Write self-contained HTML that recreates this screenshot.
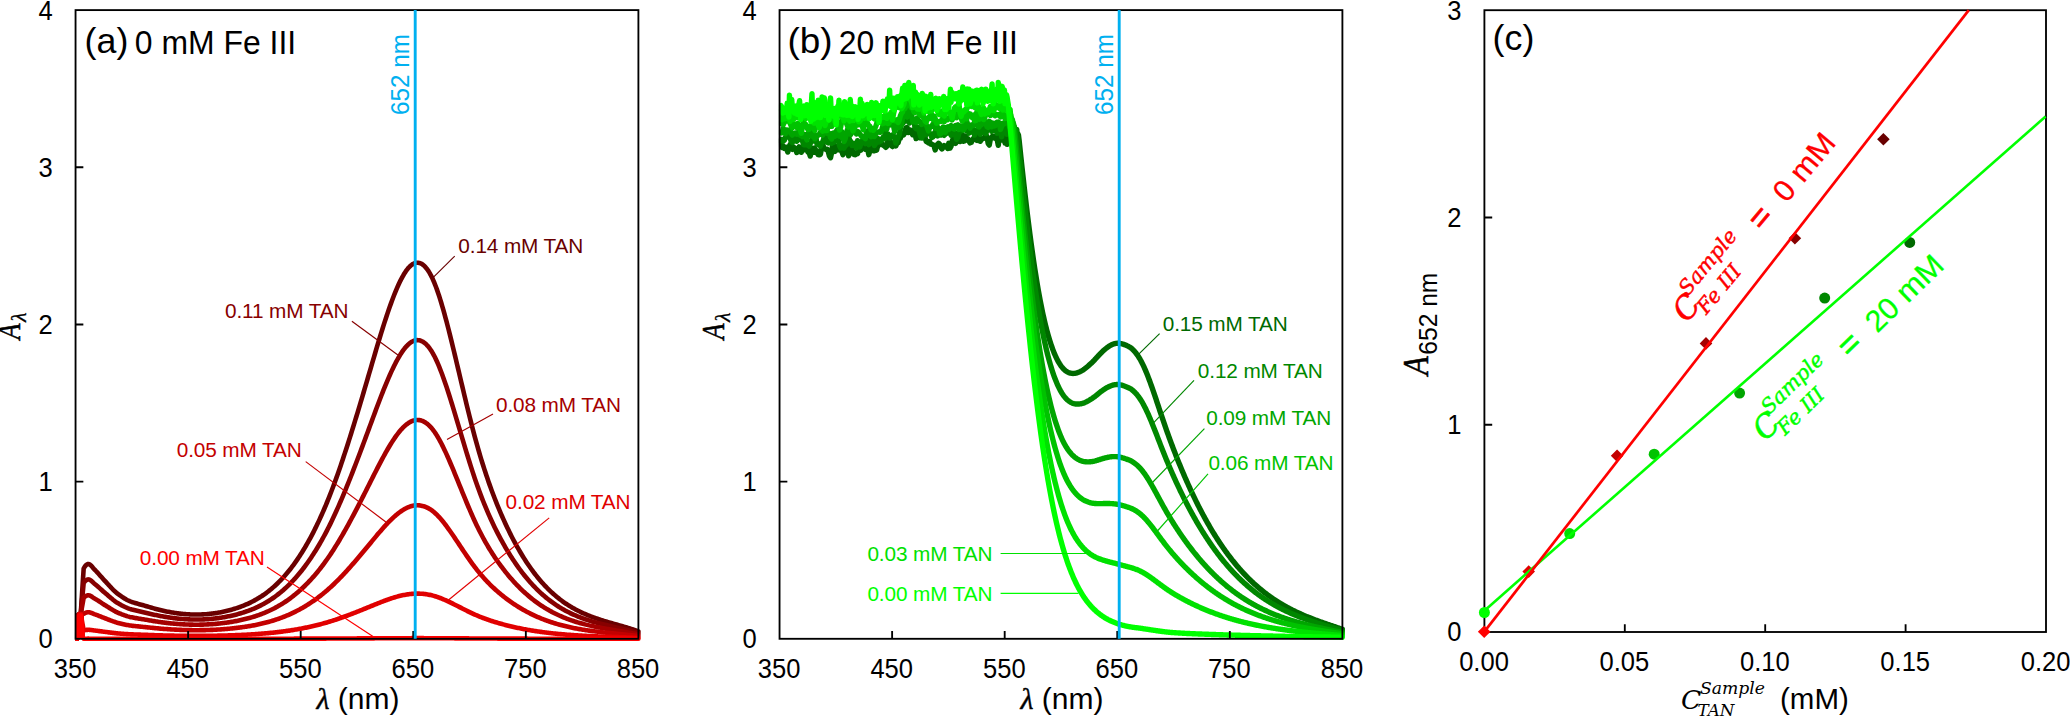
<!DOCTYPE html>
<html><head><meta charset="utf-8"><title>Absorbance spectra</title>
<style>html,body{margin:0;padding:0;background:#fff}svg{display:block}</style></head>
<body>
<svg width="2070" height="717" viewBox="0 0 2070 717">
<rect width="2070" height="717" fill="#fff"/>
<clipPath id="ca"><rect x="74.95" y="10.1" width="565.95" height="631.3"/></clipPath>
<g clip-path="url(#ca)" fill="none" stroke-linejoin="round" stroke-linecap="round" stroke-width="4.6">
<path d="M77.15 638.8 L77.55 615.5 L78.55 636.8 L79.35 614 L80.35 635.8 L81.15 614.5 L82.15 636.8 L80.75 614 L83.66 568.55 L84.05 567.84 L84.45 567.19 L84.84 566.6 L85.24 566.06 L85.64 565.57 L86.03 565.15 L86.43 564.79 L86.83 564.5 L87.22 564.27 L87.62 564.11 L88.01 564.02 L88.41 564 L88.81 564.06 L89.2 564.19 L89.6 564.39 L89.99 564.64 L90.39 564.95 L90.79 565.3 L91.18 565.68 L91.58 566.1 L91.98 566.54 L92.37 567 L92.77 567.47 L93.16 567.95 L93.56 568.42 L94.12 569.07 L95.17 570.17 L96.22 571.24 L97.27 572.36 L98.32 573.51 L99.37 574.69 L100.42 575.89 L101.46 577.09 L102.51 578.28 L103.56 579.45 L104.61 580.59 L105.66 581.7 L106.71 582.82 L107.76 583.96 L108.81 585.11 L109.85 586.25 L110.9 587.37 L111.95 588.48 L113 589.56 L114.05 590.59 L115.1 591.58 L116.15 592.52 L117.2 593.38 L118.24 594.18 L119.29 594.94 L120.34 595.68 L121.39 596.41 L122.44 597.11 L123.49 597.79 L124.54 598.45 L125.59 599.08 L126.63 599.68 L127.68 600.21 L128.73 600.7 L129.78 601.15 L130.83 601.57 L131.88 601.96 L132.93 602.32 L133.97 602.66 L135.02 602.98 L136.07 603.28 L137.12 603.58 L138.17 603.88 L139.22 604.17 L140.27 604.46 L141.32 604.75 L142.36 605.04 L143.41 605.33 L144.46 605.63 L145.51 605.93 L146.56 606.23 L147.61 606.54 L148.66 606.85 L149.71 607.17 L150.75 607.48 L151.8 607.79 L152.85 608.09 L153.9 608.39 L154.95 608.68 L156 608.96 L157.05 609.24 L158.09 609.51 L159.14 609.77 L160.19 610.03 L161.24 610.28 L162.29 610.52 L163.34 610.76 L164.39 610.99 L165.44 611.21 L166.48 611.43 L167.53 611.64 L168.58 611.84 L169.63 612.04 L170.68 612.23 L171.73 612.41 L172.78 612.58 L173.83 612.75 L174.87 612.91 L175.92 613.07 L176.97 613.21 L178.02 613.35 L179.07 613.48 L180.12 613.61 L181.17 613.72 L182.21 613.83 L183.26 613.93 L184.31 614.03 L185.36 614.11 L186.41 614.19 L187.46 614.26 L188.51 614.33 L189.56 614.38 L190.6 614.43 L191.65 614.47 L192.7 614.5 L193.75 614.53 L194.8 614.54 L195.85 614.55 L196.9 614.55 L197.95 614.54 L198.99 614.52 L200.04 614.5 L201.09 614.46 L202.14 614.42 L203.19 614.37 L204.24 614.31 L205.29 614.25 L206.34 614.17 L207.38 614.09 L208.43 613.99 L209.48 613.89 L210.53 613.78 L211.58 613.66 L212.63 613.54 L213.68 613.4 L214.72 613.25 L215.77 613.1 L216.82 612.94 L217.87 612.76 L218.92 612.58 L219.97 612.39 L221.02 612.19 L222.07 611.98 L223.11 611.77 L224.16 611.54 L225.21 611.3 L226.26 611.06 L227.31 610.8 L228.36 610.54 L229.41 610.26 L230.46 609.98 L231.5 609.68 L232.55 609.38 L233.6 609.07 L234.65 608.74 L235.7 608.41 L236.75 608.07 L237.8 607.72 L238.84 607.35 L239.89 606.98 L240.94 606.59 L241.99 606.2 L243.04 605.79 L244.09 605.37 L245.14 604.93 L246.19 604.49 L247.23 604.03 L248.28 603.55 L249.33 603.06 L250.38 602.56 L251.43 602.04 L252.48 601.51 L253.53 600.96 L254.58 600.4 L255.62 599.82 L256.67 599.22 L257.72 598.61 L258.77 597.98 L259.82 597.33 L260.87 596.66 L261.92 595.98 L262.96 595.27 L264.01 594.55 L265.06 593.8 L266.11 593.04 L267.16 592.26 L268.21 591.45 L269.26 590.63 L270.31 589.78 L271.35 588.92 L272.4 588.03 L273.45 587.12 L274.5 586.18 L275.55 585.22 L276.6 584.24 L277.65 583.24 L278.7 582.21 L279.74 581.15 L280.79 580.07 L281.84 578.97 L282.89 577.84 L283.94 576.68 L284.99 575.5 L286.04 574.29 L287.09 573.06 L288.13 571.8 L289.18 570.5 L290.23 569.19 L291.28 567.84 L292.33 566.46 L293.38 565.06 L294.43 563.62 L295.47 562.16 L296.52 560.66 L297.57 559.13 L298.62 557.58 L299.67 555.99 L300.72 554.37 L301.77 552.72 L302.82 551.03 L303.86 549.31 L304.91 547.56 L305.96 545.78 L307.01 543.96 L308.06 542.11 L309.11 540.22 L310.16 538.3 L311.21 536.34 L312.25 534.35 L313.3 532.32 L314.35 530.25 L315.4 528.15 L316.45 526.01 L317.5 523.84 L318.55 521.62 L319.59 519.37 L320.64 517.08 L321.69 514.75 L322.74 512.38 L323.79 509.97 L324.84 507.52 L325.89 505.03 L326.94 502.5 L327.98 499.93 L329.03 497.31 L330.08 494.66 L331.13 491.96 L332.18 489.22 L333.23 486.44 L334.28 483.62 L335.33 480.75 L336.37 477.85 L337.42 474.91 L338.47 471.94 L339.52 468.93 L340.57 465.88 L341.62 462.8 L342.67 459.69 L343.71 456.54 L344.76 453.37 L345.81 450.17 L346.86 446.94 L347.91 443.68 L348.96 440.39 L350.01 437.08 L351.06 433.75 L352.1 430.39 L353.15 427.01 L354.2 423.61 L355.25 420.19 L356.3 416.76 L357.35 413.3 L358.4 409.83 L359.45 406.34 L360.49 402.84 L361.54 399.33 L362.59 395.8 L363.64 392.26 L364.69 388.72 L365.74 385.16 L366.79 381.59 L367.84 378.02 L368.88 374.44 L369.93 370.86 L370.98 367.28 L372.03 363.69 L373.08 360.12 L374.13 356.55 L375.18 352.99 L376.22 349.45 L377.27 345.93 L378.32 342.43 L379.37 338.96 L380.42 335.53 L381.47 332.12 L382.52 328.75 L383.57 325.43 L384.61 322.15 L385.66 318.92 L386.71 315.74 L387.76 312.62 L388.81 309.56 L389.86 306.56 L390.91 303.63 L391.96 300.76 L393 297.98 L394.05 295.27 L395.1 292.64 L396.15 290.1 L397.2 287.65 L398.25 285.29 L399.3 283.03 L400.34 280.87 L401.39 278.81 L402.44 276.86 L403.49 275.02 L404.54 273.29 L405.59 271.68 L406.64 270.2 L407.69 268.83 L408.73 267.6 L409.78 266.51 L410.83 265.54 L411.88 264.72 L412.93 264.03 L413.98 263.48 L415.03 263.08 L416.08 262.82 L417.12 262.7 L418.17 262.73 L419.22 262.91 L420.27 263.24 L421.32 263.71 L422.37 264.34 L423.42 265.13 L424.46 266.06 L425.51 267.16 L426.56 268.41 L427.61 269.82 L428.66 271.39 L429.71 273.13 L430.76 275.03 L431.81 277.09 L432.85 279.33 L433.9 281.73 L434.95 284.29 L436 287.02 L437.05 289.89 L438.1 292.92 L439.15 296.08 L440.2 299.37 L441.24 302.78 L442.29 306.31 L443.34 309.95 L444.39 313.69 L445.44 317.53 L446.49 321.45 L447.54 325.46 L448.59 329.54 L449.63 333.68 L450.68 337.88 L451.73 342.14 L452.78 346.44 L453.83 350.78 L454.88 355.15 L455.93 359.54 L456.97 363.95 L458.02 368.38 L459.07 372.82 L460.12 377.26 L461.17 381.7 L462.22 386.13 L463.27 390.55 L464.32 394.95 L465.36 399.33 L466.41 403.68 L467.46 408 L468.51 412.27 L469.56 416.5 L470.61 420.68 L471.66 424.81 L472.71 428.87 L473.75 432.87 L474.8 436.79 L475.85 440.64 L476.9 444.41 L477.95 448.11 L479 451.74 L480.05 455.3 L481.09 458.79 L482.14 462.21 L483.19 465.56 L484.24 468.85 L485.29 472.08 L486.34 475.24 L487.39 478.34 L488.44 481.39 L489.48 484.37 L490.53 487.3 L491.58 490.18 L492.63 493 L493.68 495.77 L494.73 498.49 L495.78 501.16 L496.83 503.78 L497.87 506.36 L498.92 508.89 L499.97 511.38 L501.02 513.82 L502.07 516.23 L503.12 518.59 L504.17 520.92 L505.21 523.21 L506.26 525.46 L507.31 527.68 L508.36 529.86 L509.41 532 L510.46 534.11 L511.51 536.18 L512.56 538.21 L513.6 540.21 L514.65 542.18 L515.7 544.12 L516.75 546.01 L517.8 547.88 L518.85 549.71 L519.9 551.51 L520.95 553.28 L521.99 555.02 L523.04 556.72 L524.09 558.4 L525.14 560.04 L526.19 561.65 L527.24 563.23 L528.29 564.78 L529.34 566.31 L530.38 567.8 L531.43 569.26 L532.48 570.7 L533.53 572.11 L534.58 573.49 L535.63 574.84 L536.68 576.16 L537.72 577.46 L538.77 578.74 L539.82 579.98 L540.87 581.2 L541.92 582.4 L542.97 583.57 L544.02 584.72 L545.07 585.84 L546.11 586.93 L547.16 588.01 L548.21 589.06 L549.26 590.09 L550.31 591.09 L551.36 592.08 L552.41 593.04 L553.46 593.98 L554.5 594.9 L555.55 595.8 L556.6 596.68 L557.65 597.54 L558.7 598.38 L559.75 599.2 L560.8 600 L561.84 600.78 L562.89 601.54 L563.94 602.29 L564.99 603.02 L566.04 603.73 L567.09 604.42 L568.14 605.1 L569.19 605.76 L570.23 606.41 L571.28 607.04 L572.33 607.65 L573.38 608.25 L574.43 608.84 L575.48 609.41 L576.53 609.97 L577.58 610.51 L578.62 611.04 L579.67 611.56 L580.72 612.07 L581.77 612.57 L582.82 613.05 L583.87 613.52 L584.92 613.98 L585.96 614.44 L587.01 614.88 L588.06 615.31 L589.11 615.73 L590.16 616.14 L591.21 616.54 L592.26 616.94 L593.31 617.33 L594.35 617.71 L595.4 618.08 L596.45 618.44 L597.5 618.8 L598.55 619.15 L599.6 619.5 L600.65 619.84 L601.7 620.18 L602.74 620.51 L603.79 620.83 L604.84 621.15 L605.89 621.47 L606.94 621.79 L607.99 622.1 L609.04 622.41 L610.09 622.71 L611.13 623.02 L612.18 623.32 L613.23 623.62 L614.28 623.92 L615.33 624.22 L616.38 624.52 L617.43 624.82 L618.47 625.11 L619.52 625.41 L620.57 625.72 L621.62 626.02 L622.67 626.32 L623.72 626.63 L624.77 626.94 L625.82 627.25 L626.86 627.56 L627.91 627.88 L628.96 628.2 L630.01 628.53 L631.06 628.86 L632.11 629.2 L633.16 629.54 L634.21 629.89 L635.25 630.24 L636.3 630.6 L637.35 630.96 L638.4 631.34" stroke="#690000"/>
<path d="M77.15 638.8 L77.55 615.5 L78.55 636.8 L79.35 614 L80.35 635.8 L81.15 614.5 L82.15 636.8 L80.75 614 L83.66 583.02 L84.05 582.46 L84.45 581.94 L84.84 581.47 L85.24 581.04 L85.64 580.66 L86.03 580.32 L86.43 580.03 L86.83 579.8 L87.22 579.62 L87.62 579.49 L88.01 579.42 L88.41 579.41 L88.81 579.46 L89.2 579.56 L89.6 579.72 L89.99 579.92 L90.39 580.16 L90.79 580.44 L91.18 580.74 L91.58 581.08 L91.98 581.43 L92.37 581.79 L92.77 582.16 L93.16 582.54 L93.56 582.91 L94.12 583.43 L95.17 584.31 L96.22 585.15 L97.27 586.04 L98.32 586.96 L99.37 587.9 L100.42 588.85 L101.46 589.8 L102.51 590.74 L103.56 591.67 L104.61 592.58 L105.66 593.46 L106.71 594.35 L107.76 595.26 L108.81 596.17 L109.85 597.07 L110.9 597.97 L111.95 598.84 L113 599.7 L114.05 600.52 L115.1 601.31 L116.15 602.05 L117.2 602.74 L118.24 603.37 L119.29 603.97 L120.34 604.56 L121.39 605.14 L122.44 605.7 L123.49 606.24 L124.54 606.76 L125.59 607.26 L126.63 607.73 L127.68 608.15 L128.73 608.54 L129.78 608.91 L130.83 609.24 L131.88 609.55 L132.93 609.83 L133.97 610.1 L135.02 610.35 L136.07 610.6 L137.12 610.84 L138.17 611.07 L139.22 611.3 L140.27 611.53 L141.32 611.76 L142.36 611.99 L143.41 612.23 L144.46 612.46 L145.51 612.7 L146.56 612.94 L147.61 613.18 L148.66 613.43 L149.71 613.68 L150.75 613.93 L151.8 614.18 L152.85 614.42 L153.9 614.65 L154.95 614.88 L156 615.11 L157.05 615.33 L158.09 615.54 L159.14 615.75 L160.19 615.95 L161.24 616.15 L162.29 616.35 L163.34 616.53 L164.39 616.72 L165.44 616.89 L166.48 617.07 L167.53 617.23 L168.58 617.39 L169.63 617.55 L170.68 617.7 L171.73 617.84 L172.78 617.98 L173.83 618.12 L174.87 618.24 L175.92 618.37 L176.97 618.48 L178.02 618.59 L179.07 618.7 L180.12 618.8 L181.17 618.89 L182.21 618.97 L183.26 619.06 L184.31 619.13 L185.36 619.2 L186.41 619.26 L187.46 619.32 L188.51 619.37 L189.56 619.41 L190.6 619.45 L191.65 619.48 L192.7 619.51 L193.75 619.53 L194.8 619.54 L195.85 619.54 L196.9 619.54 L197.95 619.54 L198.99 619.52 L200.04 619.5 L201.09 619.48 L202.14 619.44 L203.19 619.4 L204.24 619.36 L205.29 619.3 L206.34 619.24 L207.38 619.18 L208.43 619.1 L209.48 619.02 L210.53 618.94 L211.58 618.84 L212.63 618.74 L213.68 618.63 L214.72 618.52 L215.77 618.39 L216.82 618.26 L217.87 618.13 L218.92 617.98 L219.97 617.83 L221.02 617.67 L222.07 617.51 L223.11 617.33 L224.16 617.15 L225.21 616.97 L226.26 616.77 L227.31 616.57 L228.36 616.36 L229.41 616.14 L230.46 615.91 L231.5 615.68 L232.55 615.44 L233.6 615.19 L234.65 614.93 L235.7 614.67 L236.75 614.4 L237.8 614.12 L238.84 613.83 L239.89 613.53 L240.94 613.23 L241.99 612.91 L243.04 612.59 L244.09 612.25 L245.14 611.91 L246.19 611.55 L247.23 611.19 L248.28 610.81 L249.33 610.42 L250.38 610.03 L251.43 609.61 L252.48 609.19 L253.53 608.76 L254.58 608.31 L255.62 607.85 L256.67 607.37 L257.72 606.89 L258.77 606.38 L259.82 605.87 L260.87 605.34 L261.92 604.8 L262.96 604.24 L264.01 603.66 L265.06 603.07 L266.11 602.47 L267.16 601.84 L268.21 601.21 L269.26 600.55 L270.31 599.88 L271.35 599.19 L272.4 598.48 L273.45 597.76 L274.5 597.02 L275.55 596.26 L276.6 595.48 L277.65 594.68 L278.7 593.86 L279.74 593.03 L280.79 592.17 L281.84 591.29 L282.89 590.4 L283.94 589.48 L284.99 588.54 L286.04 587.58 L287.09 586.6 L288.13 585.6 L289.18 584.57 L290.23 583.52 L291.28 582.45 L292.33 581.36 L293.38 580.24 L294.43 579.1 L295.47 577.94 L296.52 576.75 L297.57 575.54 L298.62 574.31 L299.67 573.04 L300.72 571.76 L301.77 570.45 L302.82 569.11 L303.86 567.74 L304.91 566.35 L305.96 564.94 L307.01 563.49 L308.06 562.02 L309.11 560.52 L310.16 559 L311.21 557.44 L312.25 555.86 L313.3 554.25 L314.35 552.61 L315.4 550.94 L316.45 549.24 L317.5 547.51 L318.55 545.75 L319.59 543.97 L320.64 542.15 L321.69 540.3 L322.74 538.41 L323.79 536.5 L324.84 534.56 L325.89 532.58 L326.94 530.57 L327.98 528.53 L329.03 526.45 L330.08 524.35 L331.13 522.2 L332.18 520.03 L333.23 517.82 L334.28 515.58 L335.33 513.31 L336.37 511 L337.42 508.67 L338.47 506.31 L339.52 503.91 L340.57 501.5 L341.62 499.05 L342.67 496.58 L343.71 494.08 L344.76 491.56 L345.81 489.02 L346.86 486.45 L347.91 483.86 L348.96 481.26 L350.01 478.63 L351.06 475.98 L352.1 473.32 L353.15 470.63 L354.2 467.93 L355.25 465.22 L356.3 462.49 L357.35 459.75 L358.4 456.99 L359.45 454.22 L360.49 451.44 L361.54 448.65 L362.59 445.85 L363.64 443.04 L364.69 440.22 L365.74 437.4 L366.79 434.57 L367.84 431.73 L368.88 428.89 L369.93 426.05 L370.98 423.2 L372.03 420.36 L373.08 417.52 L374.13 414.68 L375.18 411.86 L376.22 409.05 L377.27 406.25 L378.32 403.47 L379.37 400.72 L380.42 397.99 L381.47 395.29 L382.52 392.61 L383.57 389.97 L384.61 387.37 L385.66 384.8 L386.71 382.28 L387.76 379.8 L388.81 377.37 L389.86 374.99 L390.91 372.66 L391.96 370.39 L393 368.18 L394.05 366.02 L395.1 363.94 L396.15 361.92 L397.2 359.98 L398.25 358.1 L399.3 356.31 L400.34 354.59 L401.39 352.95 L402.44 351.4 L403.49 349.94 L404.54 348.57 L405.59 347.29 L406.64 346.11 L407.69 345.03 L408.73 344.06 L409.78 343.18 L410.83 342.42 L411.88 341.76 L412.93 341.22 L413.98 340.79 L415.03 340.46 L416.08 340.26 L417.12 340.16 L418.17 340.19 L419.22 340.33 L420.27 340.59 L421.32 340.97 L422.37 341.47 L423.42 342.09 L424.46 342.83 L425.51 343.7 L426.56 344.7 L427.61 345.82 L428.66 347.07 L429.71 348.44 L430.76 349.95 L431.81 351.59 L432.85 353.36 L433.9 355.27 L434.95 357.31 L436 359.47 L437.05 361.76 L438.1 364.15 L439.15 366.66 L440.2 369.28 L441.24 371.99 L442.29 374.79 L443.34 377.68 L444.39 380.65 L445.44 383.7 L446.49 386.81 L447.54 389.99 L448.59 393.23 L449.63 396.52 L450.68 399.86 L451.73 403.24 L452.78 406.65 L453.83 410.1 L454.88 413.57 L455.93 417.06 L456.97 420.56 L458.02 424.08 L459.07 427.6 L460.12 431.13 L461.17 434.65 L462.22 438.17 L463.27 441.68 L464.32 445.18 L465.36 448.65 L466.41 452.11 L467.46 455.53 L468.51 458.93 L469.56 462.29 L470.61 465.61 L471.66 468.88 L472.71 472.11 L473.75 475.28 L474.8 478.4 L475.85 481.45 L476.9 484.45 L477.95 487.39 L479 490.27 L480.05 493.09 L481.09 495.86 L482.14 498.58 L483.19 501.24 L484.24 503.85 L485.29 506.42 L486.34 508.93 L487.39 511.39 L488.44 513.81 L489.48 516.18 L490.53 518.51 L491.58 520.79 L492.63 523.03 L493.68 525.23 L494.73 527.39 L495.78 529.51 L496.83 531.59 L497.87 533.64 L498.92 535.65 L499.97 537.62 L501.02 539.56 L502.07 541.47 L503.12 543.35 L504.17 545.2 L505.21 547.02 L506.26 548.8 L507.31 550.56 L508.36 552.29 L509.41 554 L510.46 555.67 L511.51 557.31 L512.56 558.93 L513.6 560.52 L514.65 562.08 L515.7 563.62 L516.75 565.13 L517.8 566.61 L518.85 568.06 L519.9 569.49 L520.95 570.9 L521.99 572.27 L523.04 573.63 L524.09 574.96 L525.14 576.26 L526.19 577.54 L527.24 578.8 L528.29 580.03 L529.34 581.24 L530.38 582.42 L531.43 583.58 L532.48 584.72 L533.53 585.84 L534.58 586.94 L535.63 588.01 L536.68 589.06 L537.72 590.1 L538.77 591.11 L539.82 592.1 L540.87 593.07 L541.92 594.02 L542.97 594.94 L544.02 595.85 L545.07 596.75 L546.11 597.62 L547.16 598.47 L548.21 599.3 L549.26 600.12 L550.31 600.92 L551.36 601.7 L552.41 602.47 L553.46 603.21 L554.5 603.94 L555.55 604.66 L556.6 605.35 L557.65 606.04 L558.7 606.7 L559.75 607.35 L560.8 607.99 L561.84 608.61 L562.89 609.22 L563.94 609.81 L564.99 610.39 L566.04 610.95 L567.09 611.5 L568.14 612.04 L569.19 612.56 L570.23 613.08 L571.28 613.58 L572.33 614.07 L573.38 614.54 L574.43 615.01 L575.48 615.46 L576.53 615.91 L577.58 616.34 L578.62 616.76 L579.67 617.17 L580.72 617.58 L581.77 617.97 L582.82 618.35 L583.87 618.73 L584.92 619.1 L585.96 619.45 L587.01 619.8 L588.06 620.15 L589.11 620.48 L590.16 620.81 L591.21 621.13 L592.26 621.44 L593.31 621.75 L594.35 622.05 L595.4 622.35 L596.45 622.64 L597.5 622.92 L598.55 623.2 L599.6 623.48 L600.65 623.75 L601.7 624.01 L602.74 624.27 L603.79 624.53 L604.84 624.79 L605.89 625.04 L606.94 625.29 L607.99 625.54 L609.04 625.78 L610.09 626.03 L611.13 626.27 L612.18 626.51 L613.23 626.75 L614.28 626.98 L615.33 627.22 L616.38 627.46 L617.43 627.7 L618.47 627.93 L619.52 628.17 L620.57 628.41 L621.62 628.65 L622.67 628.89 L623.72 629.14 L624.77 629.38 L625.82 629.63 L626.86 629.88 L627.91 630.13 L628.96 630.39 L630.01 630.65 L631.06 630.91 L632.11 631.18 L633.16 631.45 L634.21 631.72 L635.25 632 L636.3 632.29 L637.35 632.58 L638.4 632.87" stroke="#870000"/>
<path d="M77.15 638.8 L77.55 615.5 L78.55 636.8 L79.35 614 L80.35 635.8 L81.15 614.5 L82.15 636.8 L80.75 614 L83.66 597.93 L84.05 597.52 L84.45 597.14 L84.84 596.79 L85.24 596.48 L85.64 596.2 L86.03 595.95 L86.43 595.74 L86.83 595.57 L87.22 595.44 L87.62 595.34 L88.01 595.29 L88.41 595.28 L88.81 595.32 L89.2 595.39 L89.6 595.51 L89.99 595.65 L90.39 595.83 L90.79 596.03 L91.18 596.26 L91.58 596.5 L91.98 596.76 L92.37 597.03 L92.77 597.3 L93.16 597.58 L93.56 597.85 L94.12 598.23 L95.17 598.87 L96.22 599.49 L97.27 600.14 L98.32 600.81 L99.37 601.5 L100.42 602.2 L101.46 602.9 L102.51 603.59 L103.56 604.27 L104.61 604.93 L105.66 605.58 L106.71 606.23 L107.76 606.89 L108.81 607.56 L109.85 608.22 L110.9 608.88 L111.95 609.52 L113 610.15 L114.05 610.75 L115.1 611.33 L116.15 611.87 L117.2 612.38 L118.24 612.84 L119.29 613.28 L120.34 613.71 L121.39 614.14 L122.44 614.54 L123.49 614.94 L124.54 615.32 L125.59 615.69 L126.63 616.04 L127.68 616.35 L128.73 616.63 L129.78 616.9 L130.83 617.14 L131.88 617.37 L132.93 617.58 L133.97 617.77 L135.02 617.96 L136.07 618.14 L137.12 618.31 L138.17 618.48 L139.22 618.65 L140.27 618.82 L141.32 618.99 L142.36 619.16 L143.41 619.33 L144.46 619.5 L145.51 619.68 L146.56 619.85 L147.61 620.03 L148.66 620.21 L149.71 620.4 L150.75 620.58 L151.8 620.76 L152.85 620.93 L153.9 621.11 L154.95 621.27 L156 621.44 L157.05 621.6 L158.09 621.76 L159.14 621.91 L160.19 622.06 L161.24 622.21 L162.29 622.35 L163.34 622.48 L164.39 622.62 L165.44 622.75 L166.48 622.88 L167.53 623 L168.58 623.12 L169.63 623.23 L170.68 623.34 L171.73 623.45 L172.78 623.55 L173.83 623.64 L174.87 623.74 L175.92 623.83 L176.97 623.91 L178.02 623.99 L179.07 624.07 L180.12 624.14 L181.17 624.21 L182.21 624.27 L183.26 624.33 L184.31 624.39 L185.36 624.44 L186.41 624.48 L187.46 624.52 L188.51 624.56 L189.56 624.59 L190.6 624.62 L191.65 624.64 L192.7 624.66 L193.75 624.68 L194.8 624.69 L195.85 624.69 L196.9 624.69 L197.95 624.69 L198.99 624.68 L200.04 624.66 L201.09 624.64 L202.14 624.62 L203.19 624.59 L204.24 624.55 L205.29 624.51 L206.34 624.47 L207.38 624.42 L208.43 624.37 L209.48 624.31 L210.53 624.24 L211.58 624.18 L212.63 624.1 L213.68 624.02 L214.72 623.94 L215.77 623.85 L216.82 623.75 L217.87 623.65 L218.92 623.55 L219.97 623.44 L221.02 623.32 L222.07 623.2 L223.11 623.07 L224.16 622.94 L225.21 622.8 L226.26 622.66 L227.31 622.51 L228.36 622.36 L229.41 622.2 L230.46 622.03 L231.5 621.86 L232.55 621.68 L233.6 621.5 L234.65 621.31 L235.7 621.12 L236.75 620.92 L237.8 620.71 L238.84 620.5 L239.89 620.29 L240.94 620.06 L241.99 619.83 L243.04 619.59 L244.09 619.35 L245.14 619.1 L246.19 618.84 L247.23 618.57 L248.28 618.29 L249.33 618.01 L250.38 617.72 L251.43 617.41 L252.48 617.1 L253.53 616.79 L254.58 616.46 L255.62 616.12 L256.67 615.77 L257.72 615.42 L258.77 615.05 L259.82 614.67 L260.87 614.28 L261.92 613.88 L262.96 613.47 L264.01 613.05 L265.06 612.62 L266.11 612.18 L267.16 611.72 L268.21 611.25 L269.26 610.77 L270.31 610.28 L271.35 609.78 L272.4 609.26 L273.45 608.73 L274.5 608.18 L275.55 607.63 L276.6 607.06 L277.65 606.47 L278.7 605.87 L279.74 605.26 L280.79 604.63 L281.84 603.99 L282.89 603.33 L283.94 602.66 L284.99 601.97 L286.04 601.27 L287.09 600.55 L288.13 599.82 L289.18 599.06 L290.23 598.3 L291.28 597.51 L292.33 596.71 L293.38 595.89 L294.43 595.06 L295.47 594.21 L296.52 593.34 L297.57 592.45 L298.62 591.54 L299.67 590.62 L300.72 589.68 L301.77 588.71 L302.82 587.73 L303.86 586.73 L304.91 585.72 L305.96 584.68 L307.01 583.62 L308.06 582.54 L309.11 581.44 L310.16 580.33 L311.21 579.19 L312.25 578.03 L313.3 576.85 L314.35 575.65 L315.4 574.42 L316.45 573.18 L317.5 571.91 L318.55 570.62 L319.59 569.31 L320.64 567.98 L321.69 566.62 L322.74 565.24 L323.79 563.84 L324.84 562.42 L325.89 560.97 L326.94 559.5 L327.98 558 L329.03 556.48 L330.08 554.94 L331.13 553.37 L332.18 551.77 L333.23 550.15 L334.28 548.51 L335.33 546.85 L336.37 545.16 L337.42 543.45 L338.47 541.72 L339.52 539.96 L340.57 538.19 L341.62 536.4 L342.67 534.59 L343.71 532.76 L344.76 530.91 L345.81 529.05 L346.86 527.17 L347.91 525.27 L348.96 523.36 L350.01 521.44 L351.06 519.5 L352.1 517.54 L353.15 515.58 L354.2 513.6 L355.25 511.61 L356.3 509.61 L357.35 507.6 L358.4 505.58 L359.45 503.55 L360.49 501.52 L361.54 499.47 L362.59 497.42 L363.64 495.36 L364.69 493.3 L365.74 491.23 L366.79 489.15 L367.84 487.07 L368.88 484.99 L369.93 482.91 L370.98 480.82 L372.03 478.74 L373.08 476.66 L374.13 474.58 L375.18 472.51 L376.22 470.45 L377.27 468.4 L378.32 466.37 L379.37 464.35 L380.42 462.35 L381.47 460.37 L382.52 458.41 L383.57 456.47 L384.61 454.57 L385.66 452.69 L386.71 450.84 L387.76 449.02 L388.81 447.24 L389.86 445.49 L390.91 443.79 L391.96 442.12 L393 440.5 L394.05 438.93 L395.1 437.4 L396.15 435.92 L397.2 434.5 L398.25 433.12 L399.3 431.81 L400.34 430.55 L401.39 429.35 L402.44 428.21 L403.49 427.14 L404.54 426.14 L405.59 425.2 L406.64 424.34 L407.69 423.55 L408.73 422.83 L409.78 422.19 L410.83 421.63 L411.88 421.15 L412.93 420.75 L413.98 420.43 L415.03 420.2 L416.08 420.05 L417.12 419.98 L418.17 420 L419.22 420.1 L420.27 420.29 L421.32 420.57 L422.37 420.93 L423.42 421.39 L424.46 421.93 L425.51 422.57 L426.56 423.3 L427.61 424.12 L428.66 425.04 L429.71 426.05 L430.76 427.15 L431.81 428.35 L432.85 429.65 L433.9 431.05 L434.95 432.54 L436 434.13 L437.05 435.8 L438.1 437.56 L439.15 439.4 L440.2 441.31 L441.24 443.3 L442.29 445.35 L443.34 447.47 L444.39 449.65 L445.44 451.88 L446.49 454.16 L447.54 456.49 L448.59 458.86 L449.63 461.28 L450.68 463.72 L451.73 466.2 L452.78 468.7 L453.83 471.22 L454.88 473.76 L455.93 476.32 L456.97 478.89 L458.02 481.47 L459.07 484.05 L460.12 486.63 L461.17 489.21 L462.22 491.79 L463.27 494.36 L464.32 496.93 L465.36 499.47 L466.41 502 L467.46 504.51 L468.51 507 L469.56 509.46 L470.61 511.9 L471.66 514.29 L472.71 516.66 L473.75 518.98 L474.8 521.27 L475.85 523.51 L476.9 525.7 L477.95 527.85 L479 529.96 L480.05 532.03 L481.09 534.06 L482.14 536.05 L483.19 538.01 L484.24 539.92 L485.29 541.8 L486.34 543.64 L487.39 545.44 L488.44 547.21 L489.48 548.95 L490.53 550.66 L491.58 552.33 L492.63 553.97 L493.68 555.58 L494.73 557.17 L495.78 558.72 L496.83 560.24 L497.87 561.74 L498.92 563.22 L499.97 564.66 L501.02 566.09 L502.07 567.48 L503.12 568.86 L504.17 570.21 L505.21 571.55 L506.26 572.86 L507.31 574.15 L508.36 575.41 L509.41 576.66 L510.46 577.89 L511.51 579.09 L512.56 580.28 L513.6 581.44 L514.65 582.59 L515.7 583.71 L516.75 584.82 L517.8 585.9 L518.85 586.97 L519.9 588.02 L520.95 589.04 L521.99 590.05 L523.04 591.05 L524.09 592.02 L525.14 592.97 L526.19 593.91 L527.24 594.83 L528.29 595.74 L529.34 596.62 L530.38 597.49 L531.43 598.34 L532.48 599.18 L533.53 600 L534.58 600.8 L535.63 601.59 L536.68 602.36 L537.72 603.11 L538.77 603.85 L539.82 604.58 L540.87 605.29 L541.92 605.98 L542.97 606.67 L544.02 607.33 L545.07 607.99 L546.11 608.62 L547.16 609.25 L548.21 609.86 L549.26 610.46 L550.31 611.04 L551.36 611.62 L552.41 612.18 L553.46 612.72 L554.5 613.26 L555.55 613.78 L556.6 614.29 L557.65 614.79 L558.7 615.28 L559.75 615.76 L560.8 616.22 L561.84 616.68 L562.89 617.12 L563.94 617.56 L564.99 617.98 L566.04 618.39 L567.09 618.8 L568.14 619.19 L569.19 619.58 L570.23 619.95 L571.28 620.32 L572.33 620.68 L573.38 621.03 L574.43 621.37 L575.48 621.7 L576.53 622.02 L577.58 622.34 L578.62 622.65 L579.67 622.95 L580.72 623.25 L581.77 623.54 L582.82 623.82 L583.87 624.09 L584.92 624.36 L585.96 624.62 L587.01 624.88 L588.06 625.13 L589.11 625.38 L590.16 625.62 L591.21 625.85 L592.26 626.08 L593.31 626.31 L594.35 626.53 L595.4 626.74 L596.45 626.96 L597.5 627.16 L598.55 627.37 L599.6 627.57 L600.65 627.77 L601.7 627.96 L602.74 628.16 L603.79 628.35 L604.84 628.53 L605.89 628.72 L606.94 628.9 L607.99 629.08 L609.04 629.26 L610.09 629.44 L611.13 629.62 L612.18 629.79 L613.23 629.97 L614.28 630.14 L615.33 630.32 L616.38 630.49 L617.43 630.66 L618.47 630.84 L619.52 631.01 L620.57 631.19 L621.62 631.36 L622.67 631.54 L623.72 631.72 L624.77 631.9 L625.82 632.08 L626.86 632.26 L627.91 632.45 L628.96 632.64 L630.01 632.83 L631.06 633.02 L632.11 633.21 L633.16 633.41 L634.21 633.61 L635.25 633.82 L636.3 634.03 L637.35 634.24 L638.4 634.46" stroke="#a50000"/>
<path d="M77.15 638.8 L77.55 615.5 L78.55 636.8 L79.35 614 L80.35 635.8 L81.15 614.5 L82.15 636.8 L80.75 614 L83.66 613.86 L84.05 613.61 L84.45 613.38 L84.84 613.17 L85.24 612.98 L85.64 612.81 L86.03 612.66 L86.43 612.53 L86.83 612.43 L87.22 612.34 L87.62 612.29 L88.01 612.26 L88.41 612.25 L88.81 612.27 L89.2 612.32 L89.6 612.39 L89.99 612.48 L90.39 612.59 L90.79 612.71 L91.18 612.85 L91.58 613 L91.98 613.15 L92.37 613.32 L92.77 613.48 L93.16 613.65 L93.56 613.82 L94.12 614.05 L95.17 614.44 L96.22 614.82 L97.27 615.22 L98.32 615.63 L99.37 616.05 L100.42 616.47 L101.46 616.9 L102.51 617.32 L103.56 617.73 L104.61 618.14 L105.66 618.53 L106.71 618.93 L107.76 619.34 L108.81 619.74 L109.85 620.15 L110.9 620.55 L111.95 620.94 L113 621.32 L114.05 621.69 L115.1 622.04 L116.15 622.37 L117.2 622.68 L118.24 622.96 L119.29 623.23 L120.34 623.5 L121.39 623.75 L122.44 624 L123.49 624.24 L124.54 624.48 L125.59 624.7 L126.63 624.91 L127.68 625.1 L128.73 625.28 L129.78 625.44 L130.83 625.59 L131.88 625.72 L132.93 625.85 L133.97 625.97 L135.02 626.08 L136.07 626.19 L137.12 626.3 L138.17 626.4 L139.22 626.51 L140.27 626.61 L141.32 626.71 L142.36 626.82 L143.41 626.92 L144.46 627.03 L145.51 627.13 L146.56 627.24 L147.61 627.35 L148.66 627.46 L149.71 627.57 L150.75 627.68 L151.8 627.79 L152.85 627.9 L153.9 628.01 L154.95 628.11 L156 628.21 L157.05 628.31 L158.09 628.4 L159.14 628.5 L160.19 628.59 L161.24 628.68 L162.29 628.76 L163.34 628.85 L164.39 628.93 L165.44 629.01 L166.48 629.08 L167.53 629.16 L168.58 629.23 L169.63 629.3 L170.68 629.37 L171.73 629.43 L172.78 629.49 L173.83 629.55 L174.87 629.61 L175.92 629.67 L176.97 629.72 L178.02 629.77 L179.07 629.81 L180.12 629.86 L181.17 629.9 L182.21 629.94 L183.26 629.97 L184.31 630.01 L185.36 630.04 L186.41 630.07 L187.46 630.09 L188.51 630.11 L189.56 630.13 L190.6 630.15 L191.65 630.16 L192.7 630.18 L193.75 630.18 L194.8 630.19 L195.85 630.19 L196.9 630.19 L197.95 630.19 L198.99 630.18 L200.04 630.17 L201.09 630.16 L202.14 630.15 L203.19 630.13 L204.24 630.11 L205.29 630.09 L206.34 630.06 L207.38 630.03 L208.43 630 L209.48 629.96 L210.53 629.92 L211.58 629.88 L212.63 629.83 L213.68 629.78 L214.72 629.73 L215.77 629.68 L216.82 629.62 L217.87 629.56 L218.92 629.49 L219.97 629.43 L221.02 629.36 L222.07 629.28 L223.11 629.2 L224.16 629.12 L225.21 629.04 L226.26 628.95 L227.31 628.86 L228.36 628.77 L229.41 628.67 L230.46 628.57 L231.5 628.46 L232.55 628.36 L233.6 628.25 L234.65 628.13 L235.7 628.01 L236.75 627.89 L237.8 627.77 L238.84 627.64 L239.89 627.51 L240.94 627.37 L241.99 627.23 L243.04 627.08 L244.09 626.93 L245.14 626.78 L246.19 626.62 L247.23 626.46 L248.28 626.29 L249.33 626.12 L250.38 625.94 L251.43 625.75 L252.48 625.56 L253.53 625.37 L254.58 625.17 L255.62 624.96 L256.67 624.75 L257.72 624.53 L258.77 624.31 L259.82 624.08 L260.87 623.84 L261.92 623.6 L262.96 623.35 L264.01 623.09 L265.06 622.83 L266.11 622.56 L267.16 622.28 L268.21 621.99 L269.26 621.7 L270.31 621.4 L271.35 621.09 L272.4 620.78 L273.45 620.45 L274.5 620.12 L275.55 619.78 L276.6 619.43 L277.65 619.08 L278.7 618.71 L279.74 618.34 L280.79 617.96 L281.84 617.56 L282.89 617.16 L283.94 616.75 L284.99 616.33 L286.04 615.9 L287.09 615.46 L288.13 615.02 L289.18 614.56 L290.23 614.09 L291.28 613.61 L292.33 613.12 L293.38 612.62 L294.43 612.11 L295.47 611.59 L296.52 611.06 L297.57 610.52 L298.62 609.97 L299.67 609.41 L300.72 608.83 L301.77 608.24 L302.82 607.65 L303.86 607.04 L304.91 606.42 L305.96 605.78 L307.01 605.14 L308.06 604.48 L309.11 603.81 L310.16 603.13 L311.21 602.43 L312.25 601.72 L313.3 601 L314.35 600.27 L315.4 599.53 L316.45 598.77 L317.5 597.99 L318.55 597.21 L319.59 596.41 L320.64 595.59 L321.69 594.77 L322.74 593.93 L323.79 593.07 L324.84 592.2 L325.89 591.32 L326.94 590.42 L327.98 589.51 L329.03 588.58 L330.08 587.64 L331.13 586.68 L332.18 585.71 L333.23 584.72 L334.28 583.72 L335.33 582.7 L336.37 581.67 L337.42 580.63 L338.47 579.57 L339.52 578.5 L340.57 577.42 L341.62 576.33 L342.67 575.22 L343.71 574.11 L344.76 572.98 L345.81 571.84 L346.86 570.7 L347.91 569.54 L348.96 568.37 L350.01 567.2 L351.06 566.02 L352.1 564.82 L353.15 563.63 L354.2 562.42 L355.25 561.21 L356.3 559.99 L357.35 558.76 L358.4 557.53 L359.45 556.29 L360.49 555.05 L361.54 553.8 L362.59 552.55 L363.64 551.29 L364.69 550.03 L365.74 548.77 L366.79 547.5 L367.84 546.24 L368.88 544.97 L369.93 543.69 L370.98 542.42 L372.03 541.15 L373.08 539.88 L374.13 538.61 L375.18 537.35 L376.22 536.1 L377.27 534.85 L378.32 533.6 L379.37 532.37 L380.42 531.15 L381.47 529.94 L382.52 528.75 L383.57 527.57 L384.61 526.4 L385.66 525.26 L386.71 524.13 L387.76 523.02 L388.81 521.93 L389.86 520.87 L390.91 519.83 L391.96 518.81 L393 517.82 L394.05 516.86 L395.1 515.93 L396.15 515.03 L397.2 514.16 L398.25 513.32 L399.3 512.52 L400.34 511.75 L401.39 511.02 L402.44 510.33 L403.49 509.67 L404.54 509.06 L405.59 508.49 L406.64 507.96 L407.69 507.48 L408.73 507.04 L409.78 506.65 L410.83 506.31 L411.88 506.02 L412.93 505.77 L413.98 505.58 L415.03 505.44 L416.08 505.34 L417.12 505.3 L418.17 505.31 L419.22 505.38 L420.27 505.49 L421.32 505.66 L422.37 505.89 L423.42 506.16 L424.46 506.5 L425.51 506.88 L426.56 507.33 L427.61 507.83 L428.66 508.39 L429.71 509 L430.76 509.68 L431.81 510.41 L432.85 511.2 L433.9 512.06 L434.95 512.97 L436 513.93 L437.05 514.95 L438.1 516.03 L439.15 517.15 L440.2 518.32 L441.24 519.53 L442.29 520.78 L443.34 522.07 L444.39 523.4 L445.44 524.76 L446.49 526.16 L447.54 527.58 L448.59 529.03 L449.63 530.5 L450.68 531.99 L451.73 533.5 L452.78 535.03 L453.83 536.57 L454.88 538.12 L455.93 539.68 L456.97 541.24 L458.02 542.81 L459.07 544.39 L460.12 545.97 L461.17 547.54 L462.22 549.12 L463.27 550.68 L464.32 552.25 L465.36 553.8 L466.41 555.34 L467.46 556.88 L468.51 558.39 L469.56 559.9 L470.61 561.38 L471.66 562.84 L472.71 564.28 L473.75 565.7 L474.8 567.1 L475.85 568.46 L476.9 569.8 L477.95 571.11 L479 572.4 L480.05 573.67 L481.09 574.9 L482.14 576.12 L483.19 577.31 L484.24 578.48 L485.29 579.62 L486.34 580.74 L487.39 581.85 L488.44 582.93 L489.48 583.99 L490.53 585.03 L491.58 586.05 L492.63 587.05 L493.68 588.03 L494.73 589 L495.78 589.94 L496.83 590.88 L497.87 591.79 L498.92 592.69 L499.97 593.57 L501.02 594.44 L502.07 595.29 L503.12 596.13 L504.17 596.96 L505.21 597.77 L506.26 598.57 L507.31 599.36 L508.36 600.13 L509.41 600.89 L510.46 601.64 L511.51 602.37 L512.56 603.1 L513.6 603.81 L514.65 604.51 L515.7 605.19 L516.75 605.87 L517.8 606.53 L518.85 607.18 L519.9 607.82 L520.95 608.45 L521.99 609.06 L523.04 609.67 L524.09 610.26 L525.14 610.84 L526.19 611.42 L527.24 611.98 L528.29 612.53 L529.34 613.07 L530.38 613.6 L531.43 614.12 L532.48 614.63 L533.53 615.13 L534.58 615.62 L535.63 616.1 L536.68 616.57 L537.72 617.03 L538.77 617.48 L539.82 617.92 L540.87 618.36 L541.92 618.78 L542.97 619.2 L544.02 619.6 L545.07 620 L546.11 620.39 L547.16 620.77 L548.21 621.14 L549.26 621.51 L550.31 621.87 L551.36 622.22 L552.41 622.56 L553.46 622.89 L554.5 623.22 L555.55 623.54 L556.6 623.85 L557.65 624.15 L558.7 624.45 L559.75 624.74 L560.8 625.03 L561.84 625.3 L562.89 625.57 L563.94 625.84 L564.99 626.1 L566.04 626.35 L567.09 626.6 L568.14 626.84 L569.19 627.07 L570.23 627.3 L571.28 627.53 L572.33 627.74 L573.38 627.96 L574.43 628.16 L575.48 628.37 L576.53 628.57 L577.58 628.76 L578.62 628.95 L579.67 629.13 L580.72 629.31 L581.77 629.49 L582.82 629.66 L583.87 629.83 L584.92 629.99 L585.96 630.15 L587.01 630.31 L588.06 630.46 L589.11 630.61 L590.16 630.76 L591.21 630.9 L592.26 631.04 L593.31 631.18 L594.35 631.31 L595.4 631.44 L596.45 631.57 L597.5 631.7 L598.55 631.83 L599.6 631.95 L600.65 632.07 L601.7 632.19 L602.74 632.31 L603.79 632.42 L604.84 632.54 L605.89 632.65 L606.94 632.76 L607.99 632.87 L609.04 632.98 L610.09 633.09 L611.13 633.2 L612.18 633.3 L613.23 633.41 L614.28 633.52 L615.33 633.62 L616.38 633.73 L617.43 633.84 L618.47 633.94 L619.52 634.05 L620.57 634.16 L621.62 634.26 L622.67 634.37 L623.72 634.48 L624.77 634.59 L625.82 634.7 L626.86 634.81 L627.91 634.92 L628.96 635.04 L630.01 635.15 L631.06 635.27 L632.11 635.39 L633.16 635.51 L634.21 635.64 L635.25 635.76 L636.3 635.89 L637.35 636.02 L638.4 636.15" stroke="#c30000"/>
<path d="M77.15 638.8 L77.55 615.5 L78.55 636.8 L79.35 614 L80.35 635.8 L81.15 614.5 L82.15 636.8 L80.75 614 L83.66 630.36 L84.05 630.28 L84.45 630.2 L84.84 630.13 L85.24 630.06 L85.64 630 L86.03 629.95 L86.43 629.91 L86.83 629.87 L87.22 629.85 L87.62 629.83 L88.01 629.82 L88.41 629.81 L88.81 629.82 L89.2 629.84 L89.6 629.86 L89.99 629.89 L90.39 629.93 L90.79 629.97 L91.18 630.02 L91.58 630.07 L91.98 630.12 L92.37 630.17 L92.77 630.23 L93.16 630.29 L93.56 630.35 L94.12 630.42 L95.17 630.56 L96.22 630.68 L97.27 630.82 L98.32 630.96 L99.37 631.1 L100.42 631.24 L101.46 631.39 L102.51 631.53 L103.56 631.67 L104.61 631.81 L105.66 631.94 L106.71 632.08 L107.76 632.21 L108.81 632.35 L109.85 632.49 L110.9 632.62 L111.95 632.76 L113 632.88 L114.05 633.01 L115.1 633.13 L116.15 633.24 L117.2 633.34 L118.24 633.44 L119.29 633.53 L120.34 633.62 L121.39 633.71 L122.44 633.79 L123.49 633.87 L124.54 633.95 L125.59 634.03 L126.63 634.1 L127.68 634.16 L128.73 634.22 L129.78 634.28 L130.83 634.33 L131.88 634.37 L132.93 634.42 L133.97 634.46 L135.02 634.5 L136.07 634.53 L137.12 634.57 L138.17 634.6 L139.22 634.64 L140.27 634.67 L141.32 634.71 L142.36 634.74 L143.41 634.78 L144.46 634.82 L145.51 634.85 L146.56 634.89 L147.61 634.92 L148.66 634.96 L149.71 635 L150.75 635.04 L151.8 635.07 L152.85 635.11 L153.9 635.15 L154.95 635.18 L156 635.22 L157.05 635.25 L158.09 635.28 L159.14 635.31 L160.19 635.34 L161.24 635.37 L162.29 635.4 L163.34 635.43 L164.39 635.46 L165.44 635.49 L166.48 635.51 L167.53 635.54 L168.58 635.56 L169.63 635.59 L170.68 635.61 L171.73 635.63 L172.78 635.65 L173.83 635.67 L174.87 635.69 L175.92 635.71 L176.97 635.73 L178.02 635.74 L179.07 635.76 L180.12 635.77 L181.17 635.79 L182.21 635.8 L183.26 635.81 L184.31 635.82 L185.36 635.83 L186.41 635.84 L187.46 635.85 L188.51 635.86 L189.56 635.87 L190.6 635.87 L191.65 635.88 L192.7 635.88 L193.75 635.88 L194.8 635.89 L195.85 635.89 L196.9 635.89 L197.95 635.89 L198.99 635.88 L200.04 635.88 L201.09 635.88 L202.14 635.87 L203.19 635.87 L204.24 635.86 L205.29 635.85 L206.34 635.84 L207.38 635.83 L208.43 635.82 L209.48 635.81 L210.53 635.79 L211.58 635.78 L212.63 635.77 L213.68 635.75 L214.72 635.73 L215.77 635.71 L216.82 635.69 L217.87 635.67 L218.92 635.65 L219.97 635.63 L221.02 635.6 L222.07 635.58 L223.11 635.55 L224.16 635.53 L225.21 635.5 L226.26 635.47 L227.31 635.44 L228.36 635.4 L229.41 635.37 L230.46 635.34 L231.5 635.3 L232.55 635.27 L233.6 635.23 L234.65 635.19 L235.7 635.15 L236.75 635.11 L237.8 635.07 L238.84 635.02 L239.89 634.98 L240.94 634.93 L241.99 634.88 L243.04 634.83 L244.09 634.78 L245.14 634.73 L246.19 634.68 L247.23 634.62 L248.28 634.57 L249.33 634.51 L250.38 634.45 L251.43 634.38 L252.48 634.32 L253.53 634.25 L254.58 634.19 L255.62 634.12 L256.67 634.05 L257.72 633.97 L258.77 633.9 L259.82 633.82 L260.87 633.74 L261.92 633.66 L262.96 633.57 L264.01 633.48 L265.06 633.39 L266.11 633.3 L267.16 633.21 L268.21 633.11 L269.26 633.01 L270.31 632.91 L271.35 632.81 L272.4 632.7 L273.45 632.59 L274.5 632.48 L275.55 632.36 L276.6 632.25 L277.65 632.13 L278.7 632 L279.74 631.87 L280.79 631.75 L281.84 631.61 L282.89 631.48 L283.94 631.34 L284.99 631.2 L286.04 631.05 L287.09 630.9 L288.13 630.75 L289.18 630.6 L290.23 630.44 L291.28 630.28 L292.33 630.11 L293.38 629.94 L294.43 629.77 L295.47 629.59 L296.52 629.41 L297.57 629.23 L298.62 629.04 L299.67 628.85 L300.72 628.66 L301.77 628.46 L302.82 628.26 L303.86 628.05 L304.91 627.84 L305.96 627.63 L307.01 627.41 L308.06 627.18 L309.11 626.96 L310.16 626.73 L311.21 626.49 L312.25 626.25 L313.3 626.01 L314.35 625.76 L315.4 625.51 L316.45 625.25 L317.5 624.99 L318.55 624.72 L319.59 624.45 L320.64 624.18 L321.69 623.9 L322.74 623.61 L323.79 623.32 L324.84 623.03 L325.89 622.73 L326.94 622.43 L327.98 622.12 L329.03 621.8 L330.08 621.48 L331.13 621.16 L332.18 620.83 L333.23 620.5 L334.28 620.16 L335.33 619.81 L336.37 619.47 L337.42 619.11 L338.47 618.75 L339.52 618.39 L340.57 618.03 L341.62 617.66 L342.67 617.28 L343.71 616.91 L344.76 616.52 L345.81 616.14 L346.86 615.75 L347.91 615.36 L348.96 614.96 L350.01 614.57 L351.06 614.17 L352.1 613.76 L353.15 613.36 L354.2 612.95 L355.25 612.54 L356.3 612.13 L357.35 611.71 L358.4 611.29 L359.45 610.87 L360.49 610.45 L361.54 610.03 L362.59 609.61 L363.64 609.18 L364.69 608.76 L365.74 608.33 L366.79 607.9 L367.84 607.47 L368.88 607.04 L369.93 606.61 L370.98 606.18 L372.03 605.75 L373.08 605.32 L374.13 604.89 L375.18 604.47 L376.22 604.04 L377.27 603.62 L378.32 603.2 L379.37 602.78 L380.42 602.37 L381.47 601.96 L382.52 601.55 L383.57 601.15 L384.61 600.76 L385.66 600.37 L386.71 599.99 L387.76 599.62 L388.81 599.25 L389.86 598.89 L390.91 598.54 L391.96 598.19 L393 597.86 L394.05 597.53 L395.1 597.22 L396.15 596.91 L397.2 596.62 L398.25 596.33 L399.3 596.06 L400.34 595.8 L401.39 595.55 L402.44 595.32 L403.49 595.1 L404.54 594.89 L405.59 594.7 L406.64 594.52 L407.69 594.36 L408.73 594.21 L409.78 594.08 L410.83 593.96 L411.88 593.86 L412.93 593.78 L413.98 593.71 L415.03 593.66 L416.08 593.63 L417.12 593.62 L418.17 593.62 L419.22 593.64 L420.27 593.68 L421.32 593.74 L422.37 593.82 L423.42 593.91 L424.46 594.02 L425.51 594.15 L426.56 594.3 L427.61 594.47 L428.66 594.66 L429.71 594.87 L430.76 595.1 L431.81 595.35 L432.85 595.62 L433.9 595.9 L434.95 596.21 L436 596.54 L437.05 596.89 L438.1 597.25 L439.15 597.63 L440.2 598.02 L441.24 598.43 L442.29 598.86 L443.34 599.29 L444.39 599.74 L445.44 600.21 L446.49 600.68 L447.54 601.16 L448.59 601.65 L449.63 602.15 L450.68 602.65 L451.73 603.16 L452.78 603.68 L453.83 604.2 L454.88 604.72 L455.93 605.25 L456.97 605.78 L458.02 606.31 L459.07 606.85 L460.12 607.38 L461.17 607.91 L462.22 608.45 L463.27 608.98 L464.32 609.51 L465.36 610.03 L466.41 610.55 L467.46 611.07 L468.51 611.59 L469.56 612.1 L470.61 612.6 L471.66 613.09 L472.71 613.58 L473.75 614.06 L474.8 614.53 L475.85 614.99 L476.9 615.45 L477.95 615.89 L479 616.33 L480.05 616.76 L481.09 617.17 L482.14 617.59 L483.19 617.99 L484.24 618.38 L485.29 618.77 L486.34 619.15 L487.39 619.52 L488.44 619.89 L489.48 620.25 L490.53 620.6 L491.58 620.95 L492.63 621.29 L493.68 621.62 L494.73 621.94 L495.78 622.27 L496.83 622.58 L497.87 622.89 L498.92 623.19 L499.97 623.49 L501.02 623.79 L502.07 624.08 L503.12 624.36 L504.17 624.64 L505.21 624.91 L506.26 625.18 L507.31 625.45 L508.36 625.71 L509.41 625.97 L510.46 626.22 L511.51 626.47 L512.56 626.72 L513.6 626.96 L514.65 627.19 L515.7 627.43 L516.75 627.65 L517.8 627.88 L518.85 628.1 L519.9 628.31 L520.95 628.53 L521.99 628.74 L523.04 628.94 L524.09 629.14 L525.14 629.34 L526.19 629.53 L527.24 629.72 L528.29 629.91 L529.34 630.09 L530.38 630.27 L531.43 630.45 L532.48 630.62 L533.53 630.79 L534.58 630.95 L535.63 631.12 L536.68 631.28 L537.72 631.43 L538.77 631.58 L539.82 631.73 L540.87 631.88 L541.92 632.02 L542.97 632.17 L544.02 632.3 L545.07 632.44 L546.11 632.57 L547.16 632.7 L548.21 632.82 L549.26 632.95 L550.31 633.07 L551.36 633.19 L552.41 633.3 L553.46 633.42 L554.5 633.53 L555.55 633.63 L556.6 633.74 L557.65 633.84 L558.7 633.94 L559.75 634.04 L560.8 634.14 L561.84 634.23 L562.89 634.32 L563.94 634.41 L564.99 634.5 L566.04 634.59 L567.09 634.67 L568.14 634.75 L569.19 634.83 L570.23 634.91 L571.28 634.98 L572.33 635.06 L573.38 635.13 L574.43 635.2 L575.48 635.27 L576.53 635.34 L577.58 635.4 L578.62 635.47 L579.67 635.53 L580.72 635.59 L581.77 635.65 L582.82 635.71 L583.87 635.76 L584.92 635.82 L585.96 635.87 L587.01 635.93 L588.06 635.98 L589.11 636.03 L590.16 636.08 L591.21 636.13 L592.26 636.17 L593.31 636.22 L594.35 636.27 L595.4 636.31 L596.45 636.35 L597.5 636.4 L598.55 636.44 L599.6 636.48 L600.65 636.52 L601.7 636.56 L602.74 636.6 L603.79 636.64 L604.84 636.68 L605.89 636.72 L606.94 636.76 L607.99 636.79 L609.04 636.83 L610.09 636.87 L611.13 636.9 L612.18 636.94 L613.23 636.98 L614.28 637.01 L615.33 637.05 L616.38 637.08 L617.43 637.12 L618.47 637.16 L619.52 637.19 L620.57 637.23 L621.62 637.26 L622.67 637.3 L623.72 637.34 L624.77 637.37 L625.82 637.41 L626.86 637.45 L627.91 637.49 L628.96 637.53 L630.01 637.57 L631.06 637.61 L632.11 637.65 L633.16 637.69 L634.21 637.73 L635.25 637.77 L636.3 637.81 L637.35 637.86 L638.4 637.9" stroke="#e10000"/>
<path d="M77.15 638.8 L77.55 617 L78.55 636.8 L79.35 615.5 L80.35 635.8 L81.15 616 L82.15 636.8 L80.75 615.5 L82.75 637.3 L83.66 638.68 L84.05 638.68 L84.45 638.68 L84.84 638.68 L85.24 638.68 L85.64 638.68 L86.03 638.68 L86.43 638.68 L86.83 638.68 L87.22 638.68 L87.62 638.67 L88.01 638.67 L88.41 638.67 L88.81 638.67 L89.2 638.68 L89.6 638.68 L89.99 638.68 L90.39 638.68 L90.79 638.68 L91.18 638.68 L91.58 638.68 L91.98 638.68 L92.37 638.68 L92.77 638.68 L93.16 638.68 L93.56 638.68 L94.12 638.68 L95.17 638.69 L96.22 638.69 L97.27 638.69 L98.32 638.69 L99.37 638.69 L100.42 638.69 L101.46 638.7 L102.51 638.7 L103.56 638.7 L104.61 638.7 L105.66 638.7 L106.71 638.71 L107.76 638.71 L108.81 638.71 L109.85 638.71 L110.9 638.71 L111.95 638.72 L113 638.72 L114.05 638.72 L115.1 638.72 L116.15 638.72 L117.2 638.72 L118.24 638.73 L119.29 638.73 L120.34 638.73 L121.39 638.73 L122.44 638.73 L123.49 638.73 L124.54 638.73 L125.59 638.73 L126.63 638.73 L127.68 638.74 L128.73 638.74 L129.78 638.74 L130.83 638.74 L131.88 638.74 L132.93 638.74 L133.97 638.74 L135.02 638.74 L136.07 638.74 L137.12 638.74 L138.17 638.74 L139.22 638.74 L140.27 638.74 L141.32 638.74 L142.36 638.74 L143.41 638.74 L144.46 638.74 L145.51 638.74 L146.56 638.75 L147.61 638.75 L148.66 638.75 L149.71 638.75 L150.75 638.75 L151.8 638.75 L152.85 638.75 L153.9 638.75 L154.95 638.75 L156 638.75 L157.05 638.75 L158.09 638.75 L159.14 638.75 L160.19 638.75 L161.24 638.75 L162.29 638.75 L163.34 638.75 L164.39 638.75 L165.44 638.75 L166.48 638.75 L167.53 638.75 L168.58 638.75 L169.63 638.76 L170.68 638.76 L171.73 638.76 L172.78 638.76 L173.83 638.76 L174.87 638.76 L175.92 638.76 L176.97 638.76 L178.02 638.76 L179.07 638.76 L180.12 638.76 L181.17 638.76 L182.21 638.76 L183.26 638.76 L184.31 638.76 L185.36 638.76 L186.41 638.76 L187.46 638.76 L188.51 638.76 L189.56 638.76 L190.6 638.76 L191.65 638.76 L192.7 638.76 L193.75 638.76 L194.8 638.76 L195.85 638.76 L196.9 638.76 L197.95 638.76 L198.99 638.76 L200.04 638.76 L201.09 638.76 L202.14 638.76 L203.19 638.76 L204.24 638.76 L205.29 638.76 L206.34 638.76 L207.38 638.76 L208.43 638.76 L209.48 638.76 L210.53 638.76 L211.58 638.76 L212.63 638.76 L213.68 638.76 L214.72 638.76 L215.77 638.76 L216.82 638.76 L217.87 638.76 L218.92 638.76 L219.97 638.76 L221.02 638.76 L222.07 638.76 L223.11 638.75 L224.16 638.75 L225.21 638.75 L226.26 638.75 L227.31 638.75 L228.36 638.75 L229.41 638.75 L230.46 638.75 L231.5 638.75 L232.55 638.75 L233.6 638.75 L234.65 638.75 L235.7 638.75 L236.75 638.75 L237.8 638.75 L238.84 638.75 L239.89 638.75 L240.94 638.75 L241.99 638.75 L243.04 638.74 L244.09 638.74 L245.14 638.74 L246.19 638.74 L247.23 638.74 L248.28 638.74 L249.33 638.74 L250.38 638.74 L251.43 638.74 L252.48 638.74 L253.53 638.74 L254.58 638.74 L255.62 638.73 L256.67 638.73 L257.72 638.73 L258.77 638.73 L259.82 638.73 L260.87 638.73 L261.92 638.73 L262.96 638.73 L264.01 638.73 L265.06 638.72 L266.11 638.72 L267.16 638.72 L268.21 638.72 L269.26 638.72 L270.31 638.72 L271.35 638.72 L272.4 638.71 L273.45 638.71 L274.5 638.71 L275.55 638.71 L276.6 638.71 L277.65 638.71 L278.7 638.71 L279.74 638.7 L280.79 638.7 L281.84 638.7 L282.89 638.7 L283.94 638.7 L284.99 638.69 L286.04 638.69 L287.09 638.69 L288.13 638.69 L289.18 638.69 L290.23 638.68 L291.28 638.68 L292.33 638.68 L293.38 638.68 L294.43 638.67 L295.47 638.67 L296.52 638.67 L297.57 638.67 L298.62 638.66 L299.67 638.66 L300.72 638.66 L301.77 638.66 L302.82 638.65 L303.86 638.65 L304.91 638.65 L305.96 638.64 L307.01 638.64 L308.06 638.64 L309.11 638.63 L310.16 638.63 L311.21 638.63 L312.25 638.63 L313.3 638.62 L314.35 638.62 L315.4 638.61 L316.45 638.61 L317.5 638.61 L318.55 638.6 L319.59 638.6 L320.64 638.6 L321.69 638.59 L322.74 638.59 L323.79 638.58 L324.84 638.58 L325.89 638.58 L326.94 638.57 L327.98 638.57 L329.03 638.56 L330.08 638.56 L331.13 638.55 L332.18 638.55 L333.23 638.54 L334.28 638.54 L335.33 638.54 L336.37 638.53 L337.42 638.53 L338.47 638.52 L339.52 638.52 L340.57 638.51 L341.62 638.51 L342.67 638.5 L343.71 638.49 L344.76 638.49 L345.81 638.48 L346.86 638.48 L347.91 638.47 L348.96 638.47 L350.01 638.46 L351.06 638.46 L352.1 638.45 L353.15 638.45 L354.2 638.44 L355.25 638.43 L356.3 638.43 L357.35 638.42 L358.4 638.42 L359.45 638.41 L360.49 638.4 L361.54 638.4 L362.59 638.39 L363.64 638.39 L364.69 638.38 L365.74 638.38 L366.79 638.37 L367.84 638.36 L368.88 638.36 L369.93 638.35 L370.98 638.35 L372.03 638.34 L373.08 638.33 L374.13 638.33 L375.18 638.32 L376.22 638.32 L377.27 638.31 L378.32 638.3 L379.37 638.3 L380.42 638.29 L381.47 638.29 L382.52 638.28 L383.57 638.28 L384.61 638.27 L385.66 638.26 L386.71 638.26 L387.76 638.25 L388.81 638.25 L389.86 638.24 L390.91 638.24 L391.96 638.23 L393 638.23 L394.05 638.22 L395.1 638.22 L396.15 638.22 L397.2 638.21 L398.25 638.21 L399.3 638.2 L400.34 638.2 L401.39 638.2 L402.44 638.19 L403.49 638.19 L404.54 638.19 L405.59 638.19 L406.64 638.18 L407.69 638.18 L408.73 638.18 L409.78 638.18 L410.83 638.18 L411.88 638.17 L412.93 638.17 L413.98 638.17 L415.03 638.17 L416.08 638.17 L417.12 638.17 L418.17 638.17 L419.22 638.17 L420.27 638.17 L421.32 638.17 L422.37 638.17 L423.42 638.17 L424.46 638.18 L425.51 638.18 L426.56 638.18 L427.61 638.18 L428.66 638.18 L429.71 638.19 L430.76 638.19 L431.81 638.19 L432.85 638.2 L433.9 638.2 L434.95 638.21 L436 638.21 L437.05 638.22 L438.1 638.22 L439.15 638.23 L440.2 638.23 L441.24 638.24 L442.29 638.24 L443.34 638.25 L444.39 638.26 L445.44 638.26 L446.49 638.27 L447.54 638.28 L448.59 638.28 L449.63 638.29 L450.68 638.3 L451.73 638.3 L452.78 638.31 L453.83 638.32 L454.88 638.33 L455.93 638.33 L456.97 638.34 L458.02 638.35 L459.07 638.35 L460.12 638.36 L461.17 638.37 L462.22 638.38 L463.27 638.38 L464.32 638.39 L465.36 638.4 L466.41 638.41 L467.46 638.41 L468.51 638.42 L469.56 638.43 L470.61 638.43 L471.66 638.44 L472.71 638.45 L473.75 638.46 L474.8 638.46 L475.85 638.47 L476.9 638.47 L477.95 638.48 L479 638.49 L480.05 638.49 L481.09 638.5 L482.14 638.5 L483.19 638.51 L484.24 638.52 L485.29 638.52 L486.34 638.53 L487.39 638.53 L488.44 638.54 L489.48 638.54 L490.53 638.55 L491.58 638.55 L492.63 638.56 L493.68 638.56 L494.73 638.57 L495.78 638.57 L496.83 638.57 L497.87 638.58 L498.92 638.58 L499.97 638.59 L501.02 638.59 L502.07 638.59 L503.12 638.6 L504.17 638.6 L505.21 638.61 L506.26 638.61 L507.31 638.61 L508.36 638.62 L509.41 638.62 L510.46 638.62 L511.51 638.63 L512.56 638.63 L513.6 638.63 L514.65 638.64 L515.7 638.64 L516.75 638.64 L517.8 638.65 L518.85 638.65 L519.9 638.65 L520.95 638.66 L521.99 638.66 L523.04 638.66 L524.09 638.67 L525.14 638.67 L526.19 638.67 L527.24 638.67 L528.29 638.68 L529.34 638.68 L530.38 638.68 L531.43 638.68 L532.48 638.69 L533.53 638.69 L534.58 638.69 L535.63 638.69 L536.68 638.7 L537.72 638.7 L538.77 638.7 L539.82 638.7 L540.87 638.7 L541.92 638.71 L542.97 638.71 L544.02 638.71 L545.07 638.71 L546.11 638.71 L547.16 638.71 L548.21 638.72 L549.26 638.72 L550.31 638.72 L551.36 638.72 L552.41 638.72 L553.46 638.72 L554.5 638.73 L555.55 638.73 L556.6 638.73 L557.65 638.73 L558.7 638.73 L559.75 638.73 L560.8 638.74 L561.84 638.74 L562.89 638.74 L563.94 638.74 L564.99 638.74 L566.04 638.74 L567.09 638.74 L568.14 638.74 L569.19 638.74 L570.23 638.75 L571.28 638.75 L572.33 638.75 L573.38 638.75 L574.43 638.75 L575.48 638.75 L576.53 638.75 L577.58 638.75 L578.62 638.75 L579.67 638.75 L580.72 638.76 L581.77 638.76 L582.82 638.76 L583.87 638.76 L584.92 638.76 L585.96 638.76 L587.01 638.76 L588.06 638.76 L589.11 638.76 L590.16 638.76 L591.21 638.76 L592.26 638.76 L593.31 638.76 L594.35 638.76 L595.4 638.77 L596.45 638.77 L597.5 638.77 L598.55 638.77 L599.6 638.77 L600.65 638.77 L601.7 638.77 L602.74 638.77 L603.79 638.77 L604.84 638.77 L605.89 638.77 L606.94 638.77 L607.99 638.77 L609.04 638.77 L610.09 638.77 L611.13 638.77 L612.18 638.77 L613.23 638.77 L614.28 638.78 L615.33 638.78 L616.38 638.78 L617.43 638.78 L618.47 638.78 L619.52 638.78 L620.57 638.78 L621.62 638.78 L622.67 638.78 L623.72 638.78 L624.77 638.78 L625.82 638.78 L626.86 638.78 L627.91 638.78 L628.96 638.78 L630.01 638.78 L631.06 638.78 L632.11 638.78 L633.16 638.78 L634.21 638.79 L635.25 638.79 L636.3 638.79 L637.35 638.79 L638.4 638.79" stroke="#ff0000"/>
</g>
<path d="M188.12 638.8 v-7.8 M300.69 638.8 v-7.8 M413.26 638.8 v-7.8 M525.83 638.8 v-7.8 M75.55 481.62 h7.8 M75.55 324.45 h7.8 M75.55 167.27 h7.8 " stroke="#000" stroke-width="1.85" fill="none"/>
<rect x="75.55" y="10.1" width="562.85" height="628.7" fill="none" stroke="#000" stroke-width="1.85"/>
<line x1="415.21" x2="415.21" y1="10.1" y2="638.8" stroke="#00b0f0" stroke-width="2.9"/>
<text transform="translate(75.15 678.3) scale(0.9 1)" text-anchor="middle" style='font-family:"Liberation Sans", Arial, Helvetica, sans-serif;font-size:28.4px'>350</text>
<text transform="translate(187.72 678.3) scale(0.9 1)" text-anchor="middle" style='font-family:"Liberation Sans", Arial, Helvetica, sans-serif;font-size:28.4px'>450</text>
<text transform="translate(300.29 678.3) scale(0.9 1)" text-anchor="middle" style='font-family:"Liberation Sans", Arial, Helvetica, sans-serif;font-size:28.4px'>550</text>
<text transform="translate(412.86 678.3) scale(0.9 1)" text-anchor="middle" style='font-family:"Liberation Sans", Arial, Helvetica, sans-serif;font-size:28.4px'>650</text>
<text transform="translate(525.43 678.3) scale(0.9 1)" text-anchor="middle" style='font-family:"Liberation Sans", Arial, Helvetica, sans-serif;font-size:28.4px'>750</text>
<text transform="translate(638 678.3) scale(0.9 1)" text-anchor="middle" style='font-family:"Liberation Sans", Arial, Helvetica, sans-serif;font-size:28.4px'>850</text>
<text transform="translate(52.6 648.2) scale(0.9 1)" text-anchor="end" style='font-family:"Liberation Sans", Arial, Helvetica, sans-serif;font-size:28.4px'>0</text>
<text transform="translate(52.6 491.02) scale(0.9 1)" text-anchor="end" style='font-family:"Liberation Sans", Arial, Helvetica, sans-serif;font-size:28.4px'>1</text>
<text transform="translate(52.6 333.85) scale(0.9 1)" text-anchor="end" style='font-family:"Liberation Sans", Arial, Helvetica, sans-serif;font-size:28.4px'>2</text>
<text transform="translate(52.6 176.67) scale(0.9 1)" text-anchor="end" style='font-family:"Liberation Sans", Arial, Helvetica, sans-serif;font-size:28.4px'>3</text>
<text transform="translate(52.6 19.5) scale(0.9 1)" text-anchor="end" style='font-family:"Liberation Sans", Arial, Helvetica, sans-serif;font-size:28.4px'>4</text>
<text x="0" y="0" text-anchor="start" fill="#000" style='font-family:"Liberation Sans", Arial, Helvetica, sans-serif;font-size:35.8px;' transform="translate(84.6 53) scale(1 1)">(a)</text>
<text x="0" y="0" text-anchor="start" fill="#000" style='font-family:"Liberation Sans", Arial, Helvetica, sans-serif;font-size:32.9px;' transform="translate(134.8 54.4) scale(0.97 1)">0 mM Fe III</text>
<text x="0" y="0" text-anchor="start" fill="#00b0f0" style='font-family:"Liberation Sans", Arial, Helvetica, sans-serif;font-size:25px;' transform="translate(409 115) rotate(-90) scale(0.97 1)">652 nm</text>
<text x="316.5" y="708.7" style='font-size:30px;font-family:"Liberation Sans", Arial, Helvetica, sans-serif'><tspan style='font-family:"Liberation Serif", "DejaVu Serif", serif;font-style:italic;font-size:30px' stroke="#000" stroke-width="0.4">λ</tspan> (nm)</text>
<g transform="translate(20 339.6) rotate(-90)" style='font-family:"Liberation Serif", "DejaVu Serif", serif;font-style:italic'><text transform="scale(0.82 1)" style="font-size:32px" stroke="#000" stroke-width="0.5">A</text><text x="17.5" y="6" style="font-size:22px" stroke="#000" stroke-width="0.3">λ</text></g>
<text x="0" y="0" text-anchor="start" fill="#690000" style='font-family:"Liberation Sans", Arial, Helvetica, sans-serif;font-size:21px;letter-spacing:-0.12px;' transform="translate(458.3 253.1) scale(0.99 1)">0.14 mM TAN</text>
<line x1="454.7" y1="256.2" x2="433.8" y2="276.8" stroke="#690000" stroke-width="1.15"/>
<text x="0" y="0" text-anchor="start" fill="#870000" style='font-family:"Liberation Sans", Arial, Helvetica, sans-serif;font-size:21px;letter-spacing:-0.12px;' transform="translate(225 318.2) scale(0.99 1)">0.11 mM TAN</text>
<line x1="351.9" y1="321.3" x2="397.9" y2="355" stroke="#870000" stroke-width="1.15"/>
<text x="0" y="0" text-anchor="start" fill="#a50000" style='font-family:"Liberation Sans", Arial, Helvetica, sans-serif;font-size:21px;letter-spacing:-0.12px;' transform="translate(496 411.8) scale(0.99 1)">0.08 mM TAN</text>
<line x1="493" y1="414" x2="447" y2="439.4" stroke="#a50000" stroke-width="1.15"/>
<text x="0" y="0" text-anchor="start" fill="#c30000" style='font-family:"Liberation Sans", Arial, Helvetica, sans-serif;font-size:21px;letter-spacing:-0.12px;' transform="translate(176.7 456.9) scale(0.99 1)">0.05 mM TAN</text>
<line x1="305.7" y1="461.6" x2="386.2" y2="522.2" stroke="#c30000" stroke-width="1.15"/>
<text x="0" y="0" text-anchor="start" fill="#e10000" style='font-family:"Liberation Sans", Arial, Helvetica, sans-serif;font-size:21px;letter-spacing:-0.12px;' transform="translate(505.6 509.1) scale(0.99 1)">0.02 mM TAN</text>
<line x1="549.2" y1="517.9" x2="448.5" y2="600" stroke="#e10000" stroke-width="1.15"/>
<text x="0" y="0" text-anchor="start" fill="#ff0000" style='font-family:"Liberation Sans", Arial, Helvetica, sans-serif;font-size:21px;letter-spacing:-0.12px;' transform="translate(139.8 564.7) scale(0.99 1)">0.00 mM TAN</text>
<line x1="267" y1="567" x2="373" y2="636.4" stroke="#ff0000" stroke-width="1.15"/>
<clipPath id="cb"><rect x="778.95" y="10.1" width="565.95" height="631.3"/></clipPath>
<g clip-path="url(#cb)" fill="none" stroke-linejoin="round" stroke-linecap="round" stroke-width="5.4">
<path d="M779.89 140.99 L781.01 145.42 L782.14 147.44 L783.26 145.84 L784.39 148.57 L785.52 148.39 L786.64 147.35 L787.77 152.1 L788.89 147.51 L790.02 144.61 L791.14 148.58 L792.27 149.32 L793.4 146.97 L794.52 148.1 L795.65 149.29 L796.77 152.56 L797.9 149.16 L799.02 146.86 L800.15 147.74 L801.28 152.37 L802.4 146.74 L803.53 146.05 L804.65 149.79 L805.78 144.29 L806.9 146.27 L808.03 152.24 L809.16 152.56 L810.28 156.07 L811.41 150.13 L812.53 148.39 L813.66 152.25 L814.78 148.03 L815.91 152.6 L817.04 150.95 L818.16 154.64 L819.29 154.87 L820.41 154.28 L821.54 148.11 L822.66 143.4 L823.79 148.53 L824.92 148.6 L826.04 149.6 L827.17 149.17 L828.29 151.57 L829.42 156.07 L830.54 157.75 L831.67 152.12 L832.8 143.95 L833.92 146.4 L835.05 151.43 L836.17 146.17 L837.3 146.97 L838.42 149.81 L839.55 149.6 L840.68 150.38 L841.8 151.41 L842.93 154.63 L844.05 151.17 L845.18 149.85 L846.3 147.32 L847.43 149.51 L848.56 155.87 L849.68 153.36 L850.81 145.9 L851.93 148.7 L853.06 153.11 L854.18 154.63 L855.31 154.68 L856.44 152.45 L857.56 153.63 L858.69 147.83 L859.81 148.52 L860.94 150.09 L862.06 145.96 L863.19 143.77 L864.32 148.17 L865.44 149.23 L866.57 147.32 L867.69 149.12 L868.82 154.64 L869.94 150.48 L871.07 146.11 L872.2 146.85 L873.32 150.89 L874.45 150.73 L875.57 150.42 L876.7 149.95 L877.82 144.99 L878.95 140.4 L880.08 143.25 L881.2 144.49 L882.33 143.96 L883.45 145.22 L884.58 146.04 L885.7 147.35 L886.83 146.24 L887.95 138.85 L889.08 138.75 L890.21 143.69 L891.33 145.55 L892.46 146.52 L893.58 143.59 L894.71 141.45 L895.83 145.98 L896.96 143.26 L898.09 142.76 L899.21 138.54 L900.34 138.2 L901.46 133.98 L902.59 134.64 L903.71 134.9 L904.84 131.74 L905.97 128.01 L907.09 127.49 L908.22 132.54 L909.34 131.4 L910.47 130.14 L911.59 132.39 L912.72 134.72 L913.85 129.92 L914.97 133.19 L916.1 138.59 L917.22 136.08 L918.35 135.82 L919.47 137.7 L920.6 136.28 L921.73 136.28 L922.85 137.51 L923.98 136.54 L925.1 137.82 L926.23 141.55 L927.35 141.99 L928.48 142.92 L929.61 141.55 L930.73 144.19 L931.86 144.46 L932.98 144.77 L934.11 145.97 L935.23 149.99 L936.36 145.02 L937.49 144.67 L938.61 143.3 L939.74 144.41 L940.86 147.65 L941.99 148.97 L943.11 147.32 L944.24 145.65 L945.37 146.75 L946.49 146.07 L947.62 148.44 L948.74 143.34 L949.87 148.24 L950.99 146.41 L952.12 141.36 L953.25 138.65 L954.37 136.06 L955.5 143.42 L956.62 141.81 L957.75 136.86 L958.87 136.48 L960 141.59 L961.13 140.66 L962.25 134.67 L963.38 141.23 L964.5 140.84 L965.63 136.07 L966.75 139.75 L967.88 138.91 L969.01 141.24 L970.13 142.88 L971.26 142.39 L972.38 139.62 L973.51 138.78 L974.63 136.37 L975.76 139.77 L976.89 140.42 L978.01 136.33 L979.14 135.76 L980.26 141.33 L981.39 138.88 L982.51 138.94 L983.64 138.36 L984.77 137.3 L985.89 135 L987.02 136.55 L988.14 143.39 L989.27 145.04 L990.39 138.77 L991.52 138.27 L992.65 136.05 L993.77 136.26 L994.9 138.18 L996.02 136.92 L997.15 139.19 L998.27 145.29 L999.4 136.27 L1000.52 138.36 L1001.65 139.83 L1002.78 135.24 L1003.9 136.89 L1005.03 142.9 L1006.15 138.49 L1006.49 140.97 L1007.09 144.36 L1007.69 141.62 L1008.29 137.12 L1008.89 136.71 L1009.5 136.08 L1010.1 138.64 L1010.7 139.78 L1011.3 141.93 L1011.9 141.19 L1012.5 137.57 L1013.1 138.58 L1013.7 137.86 L1014.3 139.48 L1014.9 141.08 L1015.5 139.45 L1016.11 139.13 L1016.71 137.39 L1017.31 137.32 L1017.91 133.81 L1018.51 135.3 L1019.11 140.09 L1019.71 145.84 L1020.31 151.53 L1020.91 157.17 L1021.51 162.76 L1022.11 168.29 L1022.72 173.75 L1023.32 179.16 L1023.92 184.51 L1024.52 189.79 L1025.12 195.01 L1025.72 200.17 L1026.32 205.25 L1026.92 210.27 L1027.52 215.22 L1028.12 220.09 L1028.72 224.88 L1029.33 229.6 L1029.93 234.23 L1030.53 238.78 L1031.13 243.25 L1031.73 247.64 L1032.33 251.95 L1032.93 256.17 L1033.53 260.3 L1034.13 264.36 L1034.73 268.32 L1035.33 272.21 L1035.94 276 L1036.54 279.71 L1037.14 283.34 L1037.74 286.88 L1038.34 290.34 L1038.94 293.71 L1039.54 297 L1040.14 300.2 L1040.74 303.32 L1041.34 306.36 L1041.94 309.32 L1042.55 312.19 L1043.15 314.98 L1043.75 317.7 L1044.35 320.33 L1044.95 322.88 L1045.55 325.36 L1046.15 327.75 L1046.75 330.07 L1047.35 332.32 L1047.95 334.48 L1048.55 336.58 L1049.16 338.6 L1049.76 340.55 L1050.36 342.43 L1050.96 344.25 L1051.56 346 L1052.16 347.69 L1052.76 349.32 L1053.36 350.9 L1053.96 352.41 L1054.56 353.86 L1055.16 355.25 L1055.77 356.59 L1056.37 357.86 L1056.97 359.08 L1057.57 360.25 L1058.17 361.36 L1058.77 362.41 L1059.37 363.41 L1059.97 364.36 L1060.57 365.25 L1061.17 366.09 L1061.77 366.88 L1062.38 367.62 L1062.98 368.31 L1063.58 368.95 L1064.18 369.54 L1064.78 370.08 L1065.38 370.58 L1065.98 371.02 L1066.58 371.42 L1067.18 371.78 L1067.78 372.11 L1068.38 372.39 L1068.99 372.64 L1069.59 372.86 L1070.19 373.04 L1070.79 373.19 L1071.39 373.3 L1071.99 373.38 L1072.59 373.43 L1073.19 373.44 L1073.79 373.42 L1074.39 373.37 L1074.99 373.29 L1075.6 373.18 L1076.2 373.04 L1076.8 372.87 L1077.4 372.68 L1078 372.47 L1078.6 372.24 L1079.2 372 L1079.8 371.74 L1080.4 371.46 L1081 371.15 L1081.6 370.83 L1082.21 370.49 L1082.81 370.13 L1083.41 369.74 L1084.01 369.33 L1084.61 368.9 L1085.21 368.44 L1085.81 367.96 L1086.41 367.47 L1087.01 366.97 L1087.61 366.46 L1088.21 365.94 L1088.82 365.42 L1089.42 364.89 L1090.02 364.35 L1090.62 363.8 L1091.22 363.24 L1091.82 362.67 L1092.42 362.09 L1093.02 361.49 L1093.62 360.88 L1094.22 360.26 L1094.82 359.62 L1095.43 358.97 L1096.03 358.3 L1096.63 357.64 L1097.23 356.97 L1097.83 356.32 L1098.43 355.67 L1099.03 355.03 L1099.63 354.4 L1100.23 353.77 L1100.83 353.16 L1101.43 352.56 L1102.04 351.97 L1102.64 351.39 L1103.24 350.83 L1103.84 350.28 L1104.44 349.75 L1105.04 349.23 L1105.64 348.73 L1106.24 348.24 L1106.84 347.77 L1107.44 347.33 L1108.04 346.9 L1108.65 346.49 L1109.25 346.1 L1109.85 345.74 L1110.45 345.39 L1111.05 345.07 L1111.65 344.77 L1112.25 344.5 L1112.85 344.25 L1113.45 344.03 L1114.05 343.83 L1114.65 343.66 L1115.26 343.52 L1115.86 343.41 L1116.46 343.32 L1117.06 343.26 L1117.66 343.23 L1118.26 343.23 L1118.86 343.26 L1119.46 343.31 L1120.06 343.41 L1120.66 343.53 L1121.26 343.66 L1121.87 343.82 L1122.47 343.99 L1123.07 344.17 L1123.67 344.37 L1124.27 344.58 L1124.87 344.81 L1125.47 345.05 L1126.07 345.31 L1126.67 345.58 L1127.27 345.86 L1127.88 346.16 L1128.48 346.46 L1129.08 346.78 L1129.68 347.11 L1130.28 347.45 L1130.88 347.82 L1131.48 348.32 L1132.08 348.86 L1132.68 349.43 L1133.28 350.03 L1133.88 350.66 L1134.49 351.33 L1135.09 352.03 L1135.69 352.76 L1136.29 353.53 L1136.89 354.34 L1137.49 355.19 L1138.09 356.08 L1138.69 357 L1139.29 357.97 L1139.89 358.98 L1140.49 360.03 L1141.1 361.13 L1141.7 362.26 L1142.3 363.43 L1142.9 364.65 L1143.5 365.91 L1144.1 367.21 L1144.7 368.55 L1145.3 369.93 L1145.9 371.35 L1146.5 372.8 L1147.1 374.29 L1147.71 375.8 L1148.31 377.35 L1148.91 378.93 L1149.51 380.53 L1150.11 382.16 L1150.71 383.82 L1151.31 385.49 L1151.91 387.19 L1152.51 388.9 L1153.11 390.63 L1153.71 392.38 L1154.32 394.14 L1154.92 395.91 L1155.52 397.69 L1156.12 399.48 L1156.72 401.27 L1157.32 403.07 L1157.92 404.88 L1158.52 406.69 L1159.12 408.49 L1159.72 410.3 L1160.32 412.1 L1160.93 413.89 L1161.53 415.68 L1162.13 417.46 L1162.73 419.23 L1163.33 420.99 L1163.93 422.74 L1164.53 424.48 L1165.13 426.2 L1165.73 427.92 L1166.33 429.62 L1166.93 431.32 L1167.54 433 L1168.14 434.67 L1168.74 436.33 L1169.34 437.98 L1169.94 439.62 L1170.54 441.25 L1171.14 442.86 L1171.74 444.47 L1172.34 446.06 L1172.94 447.64 L1173.54 449.21 L1174.15 450.77 L1174.75 452.32 L1175.35 453.86 L1175.95 455.39 L1176.55 456.91 L1177.15 458.42 L1177.75 459.93 L1178.35 461.42 L1178.95 462.9 L1179.55 464.37 L1180.15 465.84 L1180.76 467.29 L1181.36 468.73 L1181.96 470.17 L1182.56 471.59 L1183.16 473.01 L1183.76 474.42 L1184.36 475.81 L1184.96 477.2 L1185.56 478.58 L1186.16 479.95 L1186.76 481.31 L1187.37 482.66 L1187.97 484 L1188.57 485.34 L1189.17 486.66 L1189.77 487.97 L1190.37 489.28 L1190.97 490.58 L1191.57 491.86 L1192.17 493.14 L1192.77 494.41 L1193.37 495.67 L1193.98 496.93 L1194.58 498.17 L1195.18 499.41 L1195.78 500.63 L1196.38 501.85 L1196.98 503.06 L1197.58 504.26 L1198.18 505.45 L1198.78 506.63 L1199.38 507.81 L1199.98 508.97 L1200.59 510.13 L1201.19 511.28 L1201.79 512.42 L1202.39 513.55 L1202.99 514.68 L1203.59 515.79 L1204.19 516.9 L1204.79 518 L1205.39 519.09 L1205.99 520.17 L1206.59 521.25 L1207.2 522.31 L1207.8 523.37 L1208.4 524.42 L1209 525.46 L1209.6 526.5 L1210.2 527.53 L1210.8 528.55 L1211.4 529.56 L1212 530.56 L1212.6 531.55 L1213.2 532.54 L1213.81 533.52 L1214.41 534.5 L1215.01 535.46 L1215.61 536.42 L1216.21 537.37 L1216.81 538.31 L1217.41 539.24 L1218.01 540.17 L1218.61 541.09 L1219.21 542.01 L1219.81 542.91 L1220.42 543.81 L1221.02 544.7 L1221.62 545.58 L1222.22 546.46 L1222.82 547.33 L1223.42 548.19 L1224.02 549.05 L1224.62 549.9 L1225.22 550.74 L1225.82 551.57 L1226.42 552.4 L1227.03 553.22 L1227.63 554.04 L1228.23 554.84 L1228.83 555.64 L1229.43 556.44 L1230.03 557.23 L1230.63 558.01 L1231.23 558.78 L1231.83 559.55 L1232.43 560.31 L1233.03 561.06 L1233.64 561.81 L1234.24 562.55 L1234.84 563.29 L1235.44 564.02 L1236.04 564.74 L1236.64 565.46 L1237.24 566.17 L1237.84 566.87 L1238.44 567.57 L1239.04 568.26 L1239.64 568.95 L1240.25 569.63 L1240.85 570.3 L1241.45 570.97 L1242.05 571.63 L1242.65 572.29 L1243.25 572.94 L1243.85 573.58 L1244.45 574.22 L1245.05 574.86 L1245.65 575.48 L1246.25 576.1 L1246.86 576.72 L1247.46 577.33 L1248.06 577.94 L1248.66 578.54 L1249.26 579.13 L1249.86 579.72 L1250.46 580.3 L1251.06 580.88 L1251.66 581.45 L1252.26 582.02 L1252.86 582.58 L1253.47 583.14 L1254.07 583.69 L1254.67 584.24 L1255.27 584.78 L1255.87 585.32 L1256.47 585.85 L1257.07 586.38 L1257.67 586.9 L1258.27 587.42 L1258.87 587.93 L1259.47 588.44 L1260.08 588.94 L1260.68 589.44 L1261.28 589.93 L1261.88 590.42 L1262.48 590.9 L1263.08 591.38 L1263.68 591.86 L1264.28 592.33 L1264.88 592.8 L1265.48 593.26 L1266.08 593.71 L1266.69 594.17 L1267.29 594.62 L1267.89 595.06 L1268.49 595.5 L1269.09 595.94 L1269.69 596.37 L1270.29 596.8 L1270.89 597.22 L1271.49 597.64 L1272.09 598.06 L1272.69 598.47 L1273.3 598.88 L1273.9 599.28 L1274.5 599.68 L1275.1 600.08 L1275.7 600.47 L1276.3 600.86 L1276.9 601.25 L1277.5 601.63 L1278.1 602.01 L1278.7 602.38 L1279.3 602.75 L1279.91 603.12 L1280.51 603.49 L1281.11 603.85 L1281.71 604.2 L1282.31 604.56 L1282.91 604.91 L1283.51 605.26 L1284.11 605.6 L1284.71 605.94 L1285.31 606.28 L1285.91 606.61 L1286.52 606.95 L1287.12 607.27 L1287.72 607.6 L1288.32 607.92 L1288.92 608.24 L1289.52 608.56 L1290.12 608.87 L1290.72 609.18 L1291.32 609.49 L1291.92 609.8 L1292.52 610.1 L1293.13 610.4 L1293.73 610.7 L1294.33 610.99 L1294.93 611.28 L1295.53 611.57 L1296.13 611.86 L1296.73 612.14 L1297.33 612.43 L1297.93 612.71 L1298.53 612.98 L1299.13 613.26 L1299.74 613.53 L1300.34 613.8 L1300.94 614.07 L1301.54 614.34 L1302.14 614.6 L1302.74 614.86 L1303.34 615.12 L1303.94 615.38 L1304.54 615.64 L1305.14 615.89 L1305.74 616.14 L1306.35 616.39 L1306.95 616.64 L1307.55 616.88 L1308.15 617.13 L1308.75 617.37 L1309.35 617.61 L1309.95 617.85 L1310.55 618.09 L1311.15 618.33 L1311.75 618.56 L1312.35 618.79 L1312.96 619.03 L1313.56 619.26 L1314.16 619.48 L1314.76 619.71 L1315.36 619.94 L1315.96 620.16 L1316.56 620.39 L1317.16 620.61 L1317.76 620.83 L1318.36 621.05 L1318.96 621.27 L1319.57 621.49 L1320.17 621.7 L1320.77 621.92 L1321.37 622.13 L1321.97 622.35 L1322.57 622.56 L1323.17 622.77 L1323.77 622.98 L1324.37 623.19 L1324.97 623.4 L1325.57 623.61 L1326.18 623.82 L1326.78 624.03 L1327.38 624.23 L1327.98 624.44 L1328.58 624.65 L1329.18 624.85 L1329.78 625.06 L1330.38 625.26 L1330.98 625.46 L1331.58 625.67 L1332.18 625.87 L1332.79 626.07 L1333.39 626.28 L1333.99 626.48 L1334.59 626.68 L1335.19 626.88 L1335.79 627.09 L1336.39 627.29 L1336.99 627.49 L1337.59 627.69 L1338.19 627.9 L1338.79 628.1 L1339.4 628.3 L1340 628.5 L1340.6 628.71 L1341.2 628.91 L1341.8 629.11 L1342.4 629.32" stroke="#006900"/>
<path d="M779.89 140.79 L781.01 139.28 L782.14 139.86 L783.26 141.04 L784.39 140.17 L785.52 136.94 L786.64 137.29 L787.77 136.04 L788.89 134.12 L790.02 137.66 L791.14 141.28 L792.27 142.6 L793.4 139.87 L794.52 137.68 L795.65 135.29 L796.77 141.33 L797.9 139.98 L799.02 136.73 L800.15 133.36 L801.28 136.98 L802.4 140.61 L803.53 144.54 L804.65 144.85 L805.78 144.71 L806.9 145.01 L808.03 144.7 L809.16 146.15 L810.28 143.65 L811.41 140.65 L812.53 139.19 L813.66 140.82 L814.78 139.3 L815.91 137.8 L817.04 144.03 L818.16 144.6 L819.29 145.33 L820.41 146.06 L821.54 142.98 L822.66 142.21 L823.79 138.88 L824.92 135.39 L826.04 138.53 L827.17 142.21 L828.29 142.95 L829.42 142.58 L830.54 141.01 L831.67 143.35 L832.8 141.95 L833.92 142.15 L835.05 135.08 L836.17 137.66 L837.3 136.35 L838.42 140.36 L839.55 145.63 L840.68 148.14 L841.8 145.24 L842.93 146.04 L844.05 148.08 L845.18 145.28 L846.3 145.03 L847.43 141.86 L848.56 136.61 L849.68 140.07 L850.81 141.66 L851.93 145.43 L853.06 143.74 L854.18 143.45 L855.31 145.56 L856.44 147.88 L857.56 140.6 L858.69 143.59 L859.81 146.9 L860.94 143.41 L862.06 141.06 L863.19 140.64 L864.32 141.03 L865.44 143.62 L866.57 140.95 L867.69 140.05 L868.82 144.7 L869.94 139.52 L871.07 139.94 L872.2 139.3 L873.32 143.1 L874.45 145.46 L875.57 143.36 L876.7 142.52 L877.82 138.29 L878.95 141.97 L880.08 140.89 L881.2 140.95 L882.33 138.5 L883.45 136.81 L884.58 138.67 L885.7 132.69 L886.83 134.02 L887.95 133.98 L889.08 137.9 L890.21 137.96 L891.33 135.55 L892.46 134.89 L893.58 135.73 L894.71 137.28 L895.83 143.04 L896.96 139.71 L898.09 136.72 L899.21 135.09 L900.34 128.59 L901.46 124.08 L902.59 123.51 L903.71 122.09 L904.84 116.56 L905.97 120.43 L907.09 119.93 L908.22 121.72 L909.34 122.94 L910.47 121.87 L911.59 118.3 L912.72 118.93 L913.85 120.42 L914.97 127.42 L916.1 128.61 L917.22 126.92 L918.35 127.06 L919.47 131.99 L920.6 136.2 L921.73 138 L922.85 134.72 L923.98 126.27 L925.1 128.04 L926.23 134.65 L927.35 133.19 L928.48 132.97 L929.61 133.03 L930.73 134.2 L931.86 137.37 L932.98 136.98 L934.11 133.27 L935.23 131.79 L936.36 131.46 L937.49 135.94 L938.61 134.16 L939.74 133.85 L940.86 135.01 L941.99 132.43 L943.11 134.39 L944.24 135.36 L945.37 133.92 L946.49 133.31 L947.62 132.77 L948.74 131.2 L949.87 132.12 L950.99 135.16 L952.12 129.24 L953.25 130.93 L954.37 132.92 L955.5 134.69 L956.62 139.28 L957.75 137.51 L958.87 133.3 L960 125.92 L961.13 131.13 L962.25 129.8 L963.38 128.14 L964.5 127.72 L965.63 129.92 L966.75 130.89 L967.88 127.93 L969.01 133.18 L970.13 128.44 L971.26 131.6 L972.38 132.28 L973.51 129.91 L974.63 135.08 L975.76 131.32 L976.89 130.03 L978.01 130.12 L979.14 130.68 L980.26 134.3 L981.39 131.78 L982.51 129.67 L983.64 127.66 L984.77 127.71 L985.89 133.57 L987.02 129.81 L988.14 126.8 L989.27 127.28 L990.39 127.99 L991.52 131.21 L992.65 129.85 L993.77 130.33 L994.9 123.78 L996.02 126.87 L997.15 133.15 L998.27 132.48 L999.4 127.2 L1000.52 129.6 L1001.65 136.78 L1002.78 129.95 L1003.9 127.42 L1005.03 130.92 L1006.15 129.14 L1006.49 126.34 L1007.09 134.22 L1007.69 129.48 L1008.29 130.13 L1008.89 129.6 L1009.5 129.43 L1010.1 128.17 L1010.7 128.8 L1011.3 134.93 L1011.9 131.3 L1012.5 130.4 L1013.1 128.71 L1013.7 128.72 L1014.3 126.63 L1014.9 129.02 L1015.5 135.52 L1016.11 133.71 L1016.71 129.38 L1017.31 135.42 L1017.91 141.45 L1018.51 147.43 L1019.11 153.37 L1019.71 159.26 L1020.31 165.1 L1020.91 170.88 L1021.51 176.61 L1022.11 182.29 L1022.72 187.91 L1023.32 193.46 L1023.92 198.96 L1024.52 204.39 L1025.12 209.76 L1025.72 215.07 L1026.32 220.3 L1026.92 225.47 L1027.52 230.57 L1028.12 235.6 L1028.72 240.55 L1029.33 245.42 L1029.93 250.21 L1030.53 254.92 L1031.13 259.55 L1031.73 264.1 L1032.33 268.57 L1032.93 272.96 L1033.53 277.26 L1034.13 281.48 L1034.73 285.62 L1035.33 289.67 L1035.94 293.64 L1036.54 297.52 L1037.14 301.33 L1037.74 305.04 L1038.34 308.68 L1038.94 312.23 L1039.54 315.7 L1040.14 319.09 L1040.74 322.39 L1041.34 325.62 L1041.94 328.76 L1042.55 331.82 L1043.15 334.81 L1043.75 337.71 L1044.35 340.53 L1044.95 343.28 L1045.55 345.95 L1046.15 348.54 L1046.75 351.06 L1047.35 353.5 L1047.95 355.87 L1048.55 358.16 L1049.16 360.38 L1049.76 362.53 L1050.36 364.62 L1050.96 366.64 L1051.56 368.59 L1052.16 370.49 L1052.76 372.32 L1053.36 374.1 L1053.96 375.81 L1054.56 377.46 L1055.16 379.06 L1055.77 380.6 L1056.37 382.08 L1056.97 383.5 L1057.57 384.87 L1058.17 386.18 L1058.77 387.44 L1059.37 388.64 L1059.97 389.79 L1060.57 390.89 L1061.17 391.93 L1061.77 392.93 L1062.38 393.87 L1062.98 394.77 L1063.58 395.61 L1064.18 396.41 L1064.78 397.16 L1065.38 397.86 L1065.98 398.51 L1066.58 399.12 L1067.18 399.69 L1067.78 400.22 L1068.38 400.71 L1068.99 401.17 L1069.59 401.59 L1070.19 401.98 L1070.79 402.33 L1071.39 402.65 L1071.99 402.94 L1072.59 403.19 L1073.19 403.41 L1073.79 403.59 L1074.39 403.75 L1074.99 403.87 L1075.6 403.96 L1076.2 404.03 L1076.8 404.06 L1077.4 404.07 L1078 404.06 L1078.6 404.04 L1079.2 403.99 L1079.8 403.93 L1080.4 403.84 L1081 403.73 L1081.6 403.61 L1082.21 403.46 L1082.81 403.29 L1083.41 403.09 L1084.01 402.88 L1084.61 402.64 L1085.21 402.38 L1085.81 402.09 L1086.41 401.79 L1087.01 401.48 L1087.61 401.16 L1088.21 400.83 L1088.82 400.5 L1089.42 400.15 L1090.02 399.79 L1090.62 399.42 L1091.22 399.04 L1091.82 398.65 L1092.42 398.25 L1093.02 397.83 L1093.62 397.4 L1094.22 396.96 L1094.82 396.5 L1095.43 396.03 L1096.03 395.54 L1096.63 395.05 L1097.23 394.56 L1097.83 394.07 L1098.43 393.59 L1099.03 393.12 L1099.63 392.65 L1100.23 392.18 L1100.83 391.72 L1101.43 391.28 L1102.04 390.83 L1102.64 390.4 L1103.24 389.98 L1103.84 389.57 L1104.44 389.17 L1105.04 388.78 L1105.64 388.41 L1106.24 388.05 L1106.84 387.7 L1107.44 387.37 L1108.04 387.05 L1108.65 386.75 L1109.25 386.46 L1109.85 386.19 L1110.45 385.94 L1111.05 385.71 L1111.65 385.5 L1112.25 385.3 L1112.85 385.13 L1113.45 384.98 L1114.05 384.85 L1114.65 384.74 L1115.26 384.65 L1115.86 384.59 L1116.46 384.54 L1117.06 384.53 L1117.66 384.53 L1118.26 384.56 L1118.86 384.61 L1119.46 384.69 L1120.06 384.8 L1120.66 384.92 L1121.26 385.07 L1121.87 385.22 L1122.47 385.39 L1123.07 385.57 L1123.67 385.76 L1124.27 385.97 L1124.87 386.18 L1125.47 386.41 L1126.07 386.65 L1126.67 386.9 L1127.27 387.16 L1127.88 387.43 L1128.48 387.71 L1129.08 387.99 L1129.68 388.29 L1130.28 388.59 L1130.88 388.93 L1131.48 389.37 L1132.08 389.84 L1132.68 390.34 L1133.28 390.86 L1133.88 391.41 L1134.49 391.99 L1135.09 392.6 L1135.69 393.24 L1136.29 393.91 L1136.89 394.61 L1137.49 395.34 L1138.09 396.11 L1138.69 396.91 L1139.29 397.75 L1139.89 398.62 L1140.49 399.53 L1141.1 400.48 L1141.7 401.46 L1142.3 402.47 L1142.9 403.52 L1143.5 404.61 L1144.1 405.73 L1144.7 406.89 L1145.3 408.08 L1145.9 409.3 L1146.5 410.55 L1147.1 411.83 L1147.71 413.14 L1148.31 414.47 L1148.91 415.83 L1149.51 417.21 L1150.11 418.62 L1150.71 420.04 L1151.31 421.48 L1151.91 422.94 L1152.51 424.42 L1153.11 425.9 L1153.71 427.41 L1154.32 428.92 L1154.92 430.44 L1155.52 431.98 L1156.12 433.51 L1156.72 435.06 L1157.32 436.61 L1157.92 438.16 L1158.52 439.71 L1159.12 441.26 L1159.72 442.82 L1160.32 444.36 L1160.93 445.91 L1161.53 447.44 L1162.13 448.97 L1162.73 450.49 L1163.33 452.01 L1163.93 453.51 L1164.53 455 L1165.13 456.48 L1165.73 457.96 L1166.33 459.42 L1166.93 460.88 L1167.54 462.32 L1168.14 463.76 L1168.74 465.18 L1169.34 466.6 L1169.94 468 L1170.54 469.4 L1171.14 470.78 L1171.74 472.16 L1172.34 473.52 L1172.94 474.88 L1173.54 476.22 L1174.15 477.56 L1174.75 478.89 L1175.35 480.21 L1175.95 481.52 L1176.55 482.82 L1177.15 484.12 L1177.75 485.4 L1178.35 486.68 L1178.95 487.95 L1179.55 489.21 L1180.15 490.46 L1180.76 491.71 L1181.36 492.94 L1181.96 494.17 L1182.56 495.39 L1183.16 496.61 L1183.76 497.81 L1184.36 499.01 L1184.96 500.19 L1185.56 501.37 L1186.16 502.55 L1186.76 503.71 L1187.37 504.87 L1187.97 506.02 L1188.57 507.16 L1189.17 508.29 L1189.77 509.41 L1190.37 510.53 L1190.97 511.64 L1191.57 512.74 L1192.17 513.84 L1192.77 514.92 L1193.37 516 L1193.98 517.08 L1194.58 518.14 L1195.18 519.2 L1195.78 520.25 L1196.38 521.29 L1196.98 522.32 L1197.58 523.35 L1198.18 524.37 L1198.78 525.38 L1199.38 526.39 L1199.98 527.38 L1200.59 528.37 L1201.19 529.36 L1201.79 530.33 L1202.39 531.3 L1202.99 532.26 L1203.59 533.22 L1204.19 534.17 L1204.79 535.11 L1205.39 536.04 L1205.99 536.97 L1206.59 537.89 L1207.2 538.8 L1207.8 539.71 L1208.4 540.61 L1209 541.5 L1209.6 542.38 L1210.2 543.26 L1210.8 544.13 L1211.4 545 L1212 545.86 L1212.6 546.71 L1213.2 547.56 L1213.81 548.39 L1214.41 549.23 L1215.01 550.05 L1215.61 550.87 L1216.21 551.68 L1216.81 552.49 L1217.41 553.29 L1218.01 554.09 L1218.61 554.87 L1219.21 555.65 L1219.81 556.43 L1220.42 557.2 L1221.02 557.96 L1221.62 558.72 L1222.22 559.47 L1222.82 560.21 L1223.42 560.95 L1224.02 561.68 L1224.62 562.41 L1225.22 563.13 L1225.82 563.84 L1226.42 564.55 L1227.03 565.26 L1227.63 565.95 L1228.23 566.64 L1228.83 567.33 L1229.43 568.01 L1230.03 568.68 L1230.63 569.35 L1231.23 570.01 L1231.83 570.67 L1232.43 571.32 L1233.03 571.97 L1233.64 572.61 L1234.24 573.24 L1234.84 573.87 L1235.44 574.5 L1236.04 575.12 L1236.64 575.73 L1237.24 576.34 L1237.84 576.94 L1238.44 577.54 L1239.04 578.13 L1239.64 578.72 L1240.25 579.3 L1240.85 579.88 L1241.45 580.45 L1242.05 581.02 L1242.65 581.58 L1243.25 582.14 L1243.85 582.69 L1244.45 583.24 L1245.05 583.78 L1245.65 584.32 L1246.25 584.85 L1246.86 585.38 L1247.46 585.9 L1248.06 586.42 L1248.66 586.93 L1249.26 587.44 L1249.86 587.94 L1250.46 588.44 L1251.06 588.94 L1251.66 589.43 L1252.26 589.92 L1252.86 590.4 L1253.47 590.87 L1254.07 591.35 L1254.67 591.82 L1255.27 592.28 L1255.87 592.74 L1256.47 593.19 L1257.07 593.65 L1257.67 594.09 L1258.27 594.54 L1258.87 594.97 L1259.47 595.41 L1260.08 595.84 L1260.68 596.27 L1261.28 596.69 L1261.88 597.11 L1262.48 597.52 L1263.08 597.93 L1263.68 598.34 L1264.28 598.74 L1264.88 599.14 L1265.48 599.54 L1266.08 599.93 L1266.69 600.32 L1267.29 600.7 L1267.89 601.09 L1268.49 601.46 L1269.09 601.84 L1269.69 602.21 L1270.29 602.57 L1270.89 602.94 L1271.49 603.3 L1272.09 603.65 L1272.69 604.01 L1273.3 604.36 L1273.9 604.7 L1274.5 605.05 L1275.1 605.39 L1275.7 605.73 L1276.3 606.06 L1276.9 606.39 L1277.5 606.72 L1278.1 607.04 L1278.7 607.36 L1279.3 607.68 L1279.91 608 L1280.51 608.31 L1281.11 608.62 L1281.71 608.93 L1282.31 609.23 L1282.91 609.53 L1283.51 609.83 L1284.11 610.12 L1284.71 610.42 L1285.31 610.71 L1285.91 610.99 L1286.52 611.28 L1287.12 611.56 L1287.72 611.84 L1288.32 612.11 L1288.92 612.39 L1289.52 612.66 L1290.12 612.93 L1290.72 613.2 L1291.32 613.46 L1291.92 613.72 L1292.52 613.98 L1293.13 614.24 L1293.73 614.5 L1294.33 614.75 L1294.93 615 L1295.53 615.25 L1296.13 615.49 L1296.73 615.74 L1297.33 615.98 L1297.93 616.22 L1298.53 616.46 L1299.13 616.69 L1299.74 616.93 L1300.34 617.16 L1300.94 617.39 L1301.54 617.62 L1302.14 617.85 L1302.74 618.07 L1303.34 618.29 L1303.94 618.52 L1304.54 618.74 L1305.14 618.95 L1305.74 619.17 L1306.35 619.38 L1306.95 619.6 L1307.55 619.81 L1308.15 620.02 L1308.75 620.23 L1309.35 620.43 L1309.95 620.64 L1310.55 620.84 L1311.15 621.05 L1311.75 621.25 L1312.35 621.45 L1312.96 621.65 L1313.56 621.84 L1314.16 622.04 L1314.76 622.24 L1315.36 622.43 L1315.96 622.62 L1316.56 622.81 L1317.16 623.01 L1317.76 623.2 L1318.36 623.38 L1318.96 623.57 L1319.57 623.76 L1320.17 623.94 L1320.77 624.13 L1321.37 624.31 L1321.97 624.5 L1322.57 624.68 L1323.17 624.86 L1323.77 625.04 L1324.37 625.22 L1324.97 625.4 L1325.57 625.58 L1326.18 625.76 L1326.78 625.94 L1327.38 626.12 L1327.98 626.29 L1328.58 626.47 L1329.18 626.65 L1329.78 626.82 L1330.38 627 L1330.98 627.17 L1331.58 627.35 L1332.18 627.52 L1332.79 627.7 L1333.39 627.87 L1333.99 628.05 L1334.59 628.22 L1335.19 628.39 L1335.79 628.57 L1336.39 628.74 L1336.99 628.91 L1337.59 629.09 L1338.19 629.26 L1338.79 629.43 L1339.4 629.61 L1340 629.78 L1340.6 629.95 L1341.2 630.13 L1341.8 630.3 L1342.4 630.48" stroke="#008700"/>
<path d="M779.89 132.54 L781.01 132.93 L782.14 132.89 L783.26 128.36 L784.39 131.09 L785.52 133.71 L786.64 129.94 L787.77 131.94 L788.89 130.16 L790.02 129.72 L791.14 133.33 L792.27 135.05 L793.4 133.29 L794.52 133.07 L795.65 132.94 L796.77 134.23 L797.9 132.49 L799.02 134 L800.15 135.28 L801.28 134.43 L802.4 136.65 L803.53 135.96 L804.65 134.55 L805.78 137.38 L806.9 139.9 L808.03 133.37 L809.16 133 L810.28 134.77 L811.41 135.84 L812.53 131.41 L813.66 132.75 L814.78 138.87 L815.91 135.71 L817.04 136.22 L818.16 134.92 L819.29 134.46 L820.41 131.99 L821.54 132.06 L822.66 135.15 L823.79 132.11 L824.92 126.73 L826.04 132.67 L827.17 133.19 L828.29 132.75 L829.42 133.52 L830.54 137.39 L831.67 139 L832.8 133.04 L833.92 132.84 L835.05 136.11 L836.17 131.53 L837.3 129.8 L838.42 131.69 L839.55 136.34 L840.68 136.32 L841.8 131.55 L842.93 137.8 L844.05 141.37 L845.18 138.92 L846.3 133.69 L847.43 129.61 L848.56 133.46 L849.68 133.77 L850.81 134.32 L851.93 131.82 L853.06 124.68 L854.18 128.86 L855.31 130.99 L856.44 133.97 L857.56 131.44 L858.69 132.25 L859.81 134 L860.94 135.36 L862.06 136.89 L863.19 136.73 L864.32 137.41 L865.44 138.69 L866.57 131.66 L867.69 130.75 L868.82 131.28 L869.94 131.61 L871.07 136.68 L872.2 135.64 L873.32 135.68 L874.45 136.47 L875.57 134.46 L876.7 132.58 L877.82 132.07 L878.95 131.76 L880.08 132.35 L881.2 131.79 L882.33 128.11 L883.45 123.89 L884.58 124.8 L885.7 129.03 L886.83 129 L887.95 121.5 L889.08 125.28 L890.21 124.38 L891.33 123.76 L892.46 124.32 L893.58 125.92 L894.71 131.62 L895.83 125.63 L896.96 124.06 L898.09 127.75 L899.21 127.13 L900.34 126.23 L901.46 124.89 L902.59 116.99 L903.71 116.55 L904.84 111.38 L905.97 112.89 L907.09 117.02 L908.22 115.35 L909.34 107.96 L910.47 112.19 L911.59 114.86 L912.72 121.66 L913.85 119.79 L914.97 121.82 L916.1 122.48 L917.22 118.01 L918.35 120.48 L919.47 120.91 L920.6 122.4 L921.73 124.43 L922.85 123.58 L923.98 121.26 L925.1 122.91 L926.23 124.85 L927.35 127.58 L928.48 130.91 L929.61 127.89 L930.73 126.52 L931.86 126.18 L932.98 124.05 L934.11 123.83 L935.23 128.45 L936.36 128.29 L937.49 126.95 L938.61 128.38 L939.74 134.05 L940.86 133.45 L941.99 129.95 L943.11 127.06 L944.24 128.52 L945.37 132.54 L946.49 127.36 L947.62 126.87 L948.74 129.56 L949.87 127.52 L950.99 125.53 L952.12 126.83 L953.25 128.73 L954.37 129.02 L955.5 125.39 L956.62 125.44 L957.75 124.84 L958.87 129.42 L960 129.01 L961.13 126.62 L962.25 126.52 L963.38 130 L964.5 128.24 L965.63 121.26 L966.75 121.43 L967.88 124.96 L969.01 126.4 L970.13 128.04 L971.26 125 L972.38 125.19 L973.51 125.54 L974.63 121.88 L975.76 119.97 L976.89 120.65 L978.01 126.51 L979.14 126.96 L980.26 121.34 L981.39 124.64 L982.51 121.99 L983.64 121.78 L984.77 121.18 L985.89 123.12 L987.02 126.75 L988.14 127.4 L989.27 121.3 L990.39 122.23 L991.52 126.77 L992.65 123.11 L993.77 126.01 L994.9 125.88 L996.02 122.83 L997.15 122.26 L998.27 122.02 L999.4 123.07 L1000.52 129.42 L1001.65 126.14 L1002.78 123.2 L1003.9 123.96 L1005.03 122.52 L1006.15 120.94 L1006.49 121.89 L1007.09 119.56 L1007.69 116.17 L1008.29 119.8 L1008.89 123.88 L1009.5 126.99 L1010.1 123.79 L1010.7 126.9 L1011.3 121.79 L1011.9 118.83 L1012.5 123.37 L1013.1 122.51 L1013.7 124.6 L1014.3 127.24 L1014.9 132.41 L1015.5 138.83 L1016.11 145.22 L1016.71 151.57 L1017.31 157.89 L1017.91 164.16 L1018.51 170.39 L1019.11 176.58 L1019.71 182.73 L1020.31 188.82 L1020.91 194.86 L1021.51 200.85 L1022.11 206.78 L1022.72 212.66 L1023.32 218.47 L1023.92 224.23 L1024.52 229.93 L1025.12 235.56 L1025.72 241.13 L1026.32 246.63 L1026.92 252.06 L1027.52 257.43 L1028.12 262.72 L1028.72 267.94 L1029.33 273.09 L1029.93 278.15 L1030.53 283.14 L1031.13 288.06 L1031.73 292.89 L1032.33 297.64 L1032.93 302.32 L1033.53 306.91 L1034.13 311.43 L1034.73 315.86 L1035.33 320.21 L1035.94 324.48 L1036.54 328.68 L1037.14 332.78 L1037.74 336.81 L1038.34 340.76 L1038.94 344.63 L1039.54 348.42 L1040.14 352.12 L1040.74 355.75 L1041.34 359.3 L1041.94 362.77 L1042.55 366.16 L1043.15 369.48 L1043.75 372.71 L1044.35 375.87 L1044.95 378.96 L1045.55 381.97 L1046.15 384.9 L1046.75 387.76 L1047.35 390.55 L1047.95 393.27 L1048.55 395.91 L1049.16 398.49 L1049.76 400.99 L1050.36 403.43 L1050.96 405.8 L1051.56 408.11 L1052.16 410.36 L1052.76 412.55 L1053.36 414.68 L1053.96 416.74 L1054.56 418.75 L1055.16 420.7 L1055.77 422.59 L1056.37 424.43 L1056.97 426.2 L1057.57 427.93 L1058.17 429.59 L1058.77 431.2 L1059.37 432.76 L1059.97 434.27 L1060.57 435.72 L1061.17 437.13 L1061.77 438.48 L1062.38 439.78 L1062.98 441.04 L1063.58 442.24 L1064.18 443.4 L1064.78 444.51 L1065.38 445.57 L1065.98 446.59 L1066.58 447.57 L1067.18 448.5 L1067.78 449.39 L1068.38 450.25 L1068.99 451.07 L1069.59 451.85 L1070.19 452.6 L1070.79 453.31 L1071.39 453.99 L1071.99 454.63 L1072.59 455.24 L1073.19 455.82 L1073.79 456.36 L1074.39 456.88 L1074.99 457.36 L1075.6 457.81 L1076.2 458.22 L1076.8 458.62 L1077.4 458.98 L1078 459.32 L1078.6 459.65 L1079.2 459.95 L1079.8 460.23 L1080.4 460.48 L1081 460.72 L1081.6 460.93 L1082.21 461.12 L1082.81 461.29 L1083.41 461.43 L1084.01 461.55 L1084.61 461.65 L1085.21 461.73 L1085.81 461.78 L1086.41 461.82 L1087.01 461.84 L1087.61 461.86 L1088.21 461.86 L1088.82 461.84 L1089.42 461.82 L1090.02 461.78 L1090.62 461.73 L1091.22 461.67 L1091.82 461.59 L1092.42 461.5 L1093.02 461.4 L1093.62 461.28 L1094.22 461.15 L1094.82 461 L1095.43 460.84 L1096.03 460.66 L1096.63 460.48 L1097.23 460.3 L1097.83 460.11 L1098.43 459.92 L1099.03 459.73 L1099.63 459.55 L1100.23 459.36 L1100.83 459.17 L1101.43 458.99 L1102.04 458.81 L1102.64 458.63 L1103.24 458.46 L1103.84 458.29 L1104.44 458.13 L1105.04 457.97 L1105.64 457.81 L1106.24 457.67 L1106.84 457.53 L1107.44 457.39 L1108.04 457.27 L1108.65 457.15 L1109.25 457.05 L1109.85 456.95 L1110.45 456.86 L1111.05 456.79 L1111.65 456.72 L1112.25 456.67 L1112.85 456.63 L1113.45 456.6 L1114.05 456.58 L1114.65 456.58 L1115.26 456.59 L1115.86 456.61 L1116.46 456.65 L1117.06 456.7 L1117.66 456.77 L1118.26 456.85 L1118.86 456.94 L1119.46 457.06 L1120.06 457.19 L1120.66 457.33 L1121.26 457.48 L1121.87 457.64 L1122.47 457.81 L1123.07 457.99 L1123.67 458.16 L1124.27 458.35 L1124.87 458.54 L1125.47 458.74 L1126.07 458.95 L1126.67 459.16 L1127.27 459.38 L1127.88 459.61 L1128.48 459.84 L1129.08 460.07 L1129.68 460.31 L1130.28 460.56 L1130.88 460.82 L1131.48 461.16 L1132.08 461.52 L1132.68 461.89 L1133.28 462.28 L1133.88 462.69 L1134.49 463.12 L1135.09 463.57 L1135.69 464.04 L1136.29 464.53 L1136.89 465.04 L1137.49 465.57 L1138.09 466.13 L1138.69 466.72 L1139.29 467.32 L1139.89 467.96 L1140.49 468.62 L1141.1 469.3 L1141.7 470.01 L1142.3 470.75 L1142.9 471.51 L1143.5 472.29 L1144.1 473.1 L1144.7 473.94 L1145.3 474.8 L1145.9 475.68 L1146.5 476.58 L1147.1 477.5 L1147.71 478.44 L1148.31 479.4 L1148.91 480.37 L1149.51 481.37 L1150.11 482.37 L1150.71 483.4 L1151.31 484.43 L1151.91 485.48 L1152.51 486.53 L1153.11 487.6 L1153.71 488.68 L1154.32 489.76 L1154.92 490.85 L1155.52 491.95 L1156.12 493.05 L1156.72 494.15 L1157.32 495.26 L1157.92 496.37 L1158.52 497.48 L1159.12 498.59 L1159.72 499.69 L1160.32 500.8 L1160.93 501.9 L1161.53 503 L1162.13 504.09 L1162.73 505.18 L1163.33 506.25 L1163.93 507.32 L1164.53 508.39 L1165.13 509.45 L1165.73 510.5 L1166.33 511.54 L1166.93 512.57 L1167.54 513.6 L1168.14 514.62 L1168.74 515.63 L1169.34 516.64 L1169.94 517.64 L1170.54 518.63 L1171.14 519.61 L1171.74 520.59 L1172.34 521.55 L1172.94 522.51 L1173.54 523.47 L1174.15 524.41 L1174.75 525.35 L1175.35 526.29 L1175.95 527.21 L1176.55 528.13 L1177.15 529.05 L1177.75 529.96 L1178.35 530.86 L1178.95 531.76 L1179.55 532.65 L1180.15 533.54 L1180.76 534.42 L1181.36 535.29 L1181.96 536.16 L1182.56 537.02 L1183.16 537.87 L1183.76 538.72 L1184.36 539.57 L1184.96 540.41 L1185.56 541.24 L1186.16 542.07 L1186.76 542.89 L1187.37 543.71 L1187.97 544.52 L1188.57 545.32 L1189.17 546.12 L1189.77 546.91 L1190.37 547.7 L1190.97 548.48 L1191.57 549.26 L1192.17 550.03 L1192.77 550.8 L1193.37 551.56 L1193.98 552.32 L1194.58 553.07 L1195.18 553.81 L1195.78 554.55 L1196.38 555.29 L1196.98 556.02 L1197.58 556.74 L1198.18 557.46 L1198.78 558.17 L1199.38 558.88 L1199.98 559.59 L1200.59 560.28 L1201.19 560.98 L1201.79 561.67 L1202.39 562.35 L1202.99 563.03 L1203.59 563.7 L1204.19 564.37 L1204.79 565.03 L1205.39 565.69 L1205.99 566.34 L1206.59 566.99 L1207.2 567.64 L1207.8 568.28 L1208.4 568.91 L1209 569.54 L1209.6 570.16 L1210.2 570.78 L1210.8 571.4 L1211.4 572.01 L1212 572.61 L1212.6 573.22 L1213.2 573.81 L1213.81 574.4 L1214.41 574.99 L1215.01 575.57 L1215.61 576.15 L1216.21 576.73 L1216.81 577.29 L1217.41 577.86 L1218.01 578.42 L1218.61 578.98 L1219.21 579.53 L1219.81 580.07 L1220.42 580.62 L1221.02 581.15 L1221.62 581.69 L1222.22 582.22 L1222.82 582.74 L1223.42 583.26 L1224.02 583.78 L1224.62 584.29 L1225.22 584.8 L1225.82 585.31 L1226.42 585.81 L1227.03 586.3 L1227.63 586.79 L1228.23 587.28 L1228.83 587.77 L1229.43 588.25 L1230.03 588.72 L1230.63 589.19 L1231.23 589.66 L1231.83 590.13 L1232.43 590.59 L1233.03 591.04 L1233.64 591.49 L1234.24 591.94 L1234.84 592.39 L1235.44 592.83 L1236.04 593.27 L1236.64 593.7 L1237.24 594.13 L1237.84 594.55 L1238.44 594.98 L1239.04 595.39 L1239.64 595.81 L1240.25 596.22 L1240.85 596.63 L1241.45 597.03 L1242.05 597.43 L1242.65 597.83 L1243.25 598.22 L1243.85 598.61 L1244.45 599 L1245.05 599.38 L1245.65 599.76 L1246.25 600.14 L1246.86 600.51 L1247.46 600.88 L1248.06 601.25 L1248.66 601.61 L1249.26 601.97 L1249.86 602.33 L1250.46 602.68 L1251.06 603.03 L1251.66 603.38 L1252.26 603.72 L1252.86 604.06 L1253.47 604.4 L1254.07 604.73 L1254.67 605.06 L1255.27 605.39 L1255.87 605.72 L1256.47 606.04 L1257.07 606.36 L1257.67 606.67 L1258.27 606.99 L1258.87 607.3 L1259.47 607.61 L1260.08 607.91 L1260.68 608.21 L1261.28 608.51 L1261.88 608.81 L1262.48 609.1 L1263.08 609.39 L1263.68 609.68 L1264.28 609.96 L1264.88 610.25 L1265.48 610.53 L1266.08 610.81 L1266.69 611.08 L1267.29 611.35 L1267.89 611.62 L1268.49 611.89 L1269.09 612.15 L1269.69 612.42 L1270.29 612.68 L1270.89 612.93 L1271.49 613.19 L1272.09 613.44 L1272.69 613.69 L1273.3 613.94 L1273.9 614.19 L1274.5 614.43 L1275.1 614.67 L1275.7 614.91 L1276.3 615.15 L1276.9 615.38 L1277.5 615.61 L1278.1 615.84 L1278.7 616.07 L1279.3 616.3 L1279.91 616.52 L1280.51 616.74 L1281.11 616.96 L1281.71 617.18 L1282.31 617.4 L1282.91 617.61 L1283.51 617.82 L1284.11 618.03 L1284.71 618.24 L1285.31 618.45 L1285.91 618.65 L1286.52 618.85 L1287.12 619.05 L1287.72 619.25 L1288.32 619.45 L1288.92 619.64 L1289.52 619.84 L1290.12 620.03 L1290.72 620.22 L1291.32 620.4 L1291.92 620.59 L1292.52 620.78 L1293.13 620.96 L1293.73 621.14 L1294.33 621.32 L1294.93 621.5 L1295.53 621.67 L1296.13 621.85 L1296.73 622.02 L1297.33 622.2 L1297.93 622.37 L1298.53 622.54 L1299.13 622.7 L1299.74 622.87 L1300.34 623.04 L1300.94 623.2 L1301.54 623.36 L1302.14 623.52 L1302.74 623.68 L1303.34 623.84 L1303.94 624 L1304.54 624.16 L1305.14 624.31 L1305.74 624.47 L1306.35 624.62 L1306.95 624.77 L1307.55 624.92 L1308.15 625.07 L1308.75 625.22 L1309.35 625.37 L1309.95 625.51 L1310.55 625.66 L1311.15 625.8 L1311.75 625.95 L1312.35 626.09 L1312.96 626.23 L1313.56 626.37 L1314.16 626.51 L1314.76 626.65 L1315.36 626.79 L1315.96 626.93 L1316.56 627.06 L1317.16 627.2 L1317.76 627.33 L1318.36 627.47 L1318.96 627.6 L1319.57 627.74 L1320.17 627.87 L1320.77 628 L1321.37 628.13 L1321.97 628.26 L1322.57 628.39 L1323.17 628.52 L1323.77 628.65 L1324.37 628.78 L1324.97 628.91 L1325.57 629.03 L1326.18 629.16 L1326.78 629.29 L1327.38 629.41 L1327.98 629.54 L1328.58 629.67 L1329.18 629.79 L1329.78 629.92 L1330.38 630.04 L1330.98 630.16 L1331.58 630.29 L1332.18 630.41 L1332.79 630.54 L1333.39 630.66 L1333.99 630.78 L1334.59 630.91 L1335.19 631.03 L1335.79 631.15 L1336.39 631.28 L1336.99 631.4 L1337.59 631.52 L1338.19 631.65 L1338.79 631.77 L1339.4 631.89 L1340 632.01 L1340.6 632.14 L1341.2 632.26 L1341.8 632.38 L1342.4 632.51" stroke="#00a500"/>
<path d="M779.89 123.23 L781.01 121.4 L782.14 121.67 L783.26 124.54 L784.39 122.23 L785.52 120.23 L786.64 119.1 L787.77 121.03 L788.89 119.39 L790.02 123.19 L791.14 125.69 L792.27 127.87 L793.4 126.02 L794.52 123.95 L795.65 124.1 L796.77 127.42 L797.9 123.61 L799.02 127.2 L800.15 129.2 L801.28 133.23 L802.4 126.27 L803.53 121.42 L804.65 124.29 L805.78 124.46 L806.9 127.69 L808.03 129.57 L809.16 129.18 L810.28 125.93 L811.41 125.97 L812.53 125.65 L813.66 128.01 L814.78 130.51 L815.91 126.61 L817.04 124.56 L818.16 124.45 L819.29 124.53 L820.41 126.28 L821.54 129.59 L822.66 131.04 L823.79 126.95 L824.92 128.16 L826.04 130.64 L827.17 130.36 L828.29 123.58 L829.42 125.13 L830.54 126.23 L831.67 126.36 L832.8 120.61 L833.92 123.24 L835.05 123.89 L836.17 122.53 L837.3 123.93 L838.42 125.65 L839.55 129.99 L840.68 126.95 L841.8 120.04 L842.93 121.82 L844.05 120.37 L845.18 121.51 L846.3 122.82 L847.43 125.96 L848.56 127.02 L849.68 125.01 L850.81 122.54 L851.93 126.93 L853.06 130.9 L854.18 128.18 L855.31 126.31 L856.44 124.86 L857.56 120.96 L858.69 124.8 L859.81 121.91 L860.94 121.71 L862.06 124.82 L863.19 129.75 L864.32 124.25 L865.44 119.11 L866.57 121.85 L867.69 123.53 L868.82 125.75 L869.94 126.24 L871.07 129.86 L872.2 129.74 L873.32 130.27 L874.45 128.63 L875.57 127 L876.7 123.66 L877.82 119.88 L878.95 122.21 L880.08 121.48 L881.2 122.56 L882.33 123.69 L883.45 121.66 L884.58 122.78 L885.7 121.61 L886.83 121.85 L887.95 123.46 L889.08 123.16 L890.21 117.19 L891.33 117.02 L892.46 120.25 L893.58 119.43 L894.71 120.61 L895.83 120.91 L896.96 119.89 L898.09 122.55 L899.21 120.16 L900.34 115.88 L901.46 113.48 L902.59 111.96 L903.71 107.06 L904.84 108.65 L905.97 105.67 L907.09 102.65 L908.22 104.28 L909.34 102.06 L910.47 106.31 L911.59 107.76 L912.72 108.37 L913.85 111.63 L914.97 112.58 L916.1 111.22 L917.22 110.96 L918.35 111.02 L919.47 114.43 L920.6 115.37 L921.73 115.13 L922.85 116.93 L923.98 116.53 L925.1 121.16 L926.23 122.05 L927.35 119.46 L928.48 118.59 L929.61 116.29 L930.73 118.13 L931.86 114.67 L932.98 119.54 L934.11 116.14 L935.23 118.66 L936.36 123.17 L937.49 122.71 L938.61 122.09 L939.74 121.32 L940.86 121.44 L941.99 119.58 L943.11 117.65 L944.24 121.69 L945.37 118.67 L946.49 117.87 L947.62 119.66 L948.74 117.77 L949.87 118.64 L950.99 115.93 L952.12 119.9 L953.25 117.32 L954.37 117.74 L955.5 116.76 L956.62 117.62 L957.75 113.81 L958.87 113.72 L960 114.29 L961.13 117.92 L962.25 121.19 L963.38 117.47 L964.5 111.92 L965.63 113.29 L966.75 118.87 L967.88 113.32 L969.01 114.21 L970.13 114.02 L971.26 115.96 L972.38 117.73 L973.51 115.1 L974.63 120.69 L975.76 120.66 L976.89 111.65 L978.01 116.25 L979.14 119.17 L980.26 114.29 L981.39 113.8 L982.51 115.47 L983.64 119.55 L984.77 117.58 L985.89 113.41 L987.02 111.94 L988.14 112.28 L989.27 114.25 L990.39 115.54 L991.52 114.78 L992.65 113.07 L993.77 114.56 L994.9 115.74 L996.02 114.29 L997.15 115.01 L998.27 114.65 L999.4 114.26 L1000.52 116.95 L1001.65 112.59 L1002.78 111.33 L1003.9 116.2 L1005.03 118.43 L1006.15 117.38 L1006.49 117.03 L1007.09 118.1 L1007.69 115.77 L1008.29 115.46 L1008.89 117.67 L1009.5 112.63 L1010.1 113.78 L1010.7 114.71 L1011.3 117.75 L1011.9 119.42 L1012.5 120.03 L1013.1 126.69 L1013.7 133.34 L1014.3 139.97 L1014.9 146.57 L1015.5 153.15 L1016.11 159.69 L1016.71 166.21 L1017.31 172.69 L1017.91 179.12 L1018.51 185.52 L1019.11 191.88 L1019.71 198.18 L1020.31 204.44 L1020.91 210.65 L1021.51 216.81 L1022.11 222.91 L1022.72 228.96 L1023.32 234.95 L1023.92 240.88 L1024.52 246.75 L1025.12 252.55 L1025.72 258.29 L1026.32 263.97 L1026.92 269.58 L1027.52 275.12 L1028.12 280.59 L1028.72 285.99 L1029.33 291.31 L1029.93 296.56 L1030.53 301.73 L1031.13 306.83 L1031.73 311.85 L1032.33 316.79 L1032.93 321.66 L1033.53 326.45 L1034.13 331.15 L1034.73 335.78 L1035.33 340.33 L1035.94 344.8 L1036.54 349.19 L1037.14 353.51 L1037.74 357.74 L1038.34 361.89 L1038.94 365.97 L1039.54 369.96 L1040.14 373.88 L1040.74 377.72 L1041.34 381.49 L1041.94 385.17 L1042.55 388.78 L1043.15 392.31 L1043.75 395.77 L1044.35 399.15 L1044.95 402.46 L1045.55 405.69 L1046.15 408.85 L1046.75 411.94 L1047.35 414.96 L1047.95 417.9 L1048.55 420.78 L1049.16 423.58 L1049.76 426.32 L1050.36 428.99 L1050.96 431.6 L1051.56 434.15 L1052.16 436.63 L1052.76 439.05 L1053.36 441.41 L1053.96 443.71 L1054.56 445.95 L1055.16 448.13 L1055.77 450.25 L1056.37 452.32 L1056.97 454.33 L1057.57 456.29 L1058.17 458.19 L1058.77 460.03 L1059.37 461.83 L1059.97 463.57 L1060.57 465.26 L1061.17 466.9 L1061.77 468.48 L1062.38 470.02 L1062.98 471.51 L1063.58 472.96 L1064.18 474.35 L1064.78 475.7 L1065.38 477.01 L1065.98 478.26 L1066.58 479.48 L1067.18 480.65 L1067.78 481.79 L1068.38 482.88 L1068.99 483.94 L1069.59 484.96 L1070.19 485.95 L1070.79 486.89 L1071.39 487.81 L1071.99 488.69 L1072.59 489.53 L1073.19 490.34 L1073.79 491.12 L1074.39 491.87 L1074.99 492.59 L1075.6 493.27 L1076.2 493.93 L1076.8 494.55 L1077.4 495.15 L1078 495.72 L1078.6 496.28 L1079.2 496.81 L1079.8 497.31 L1080.4 497.79 L1081 498.25 L1081.6 498.69 L1082.21 499.1 L1082.81 499.49 L1083.41 499.86 L1084.01 500.2 L1084.61 500.52 L1085.21 500.82 L1085.81 501.1 L1086.41 501.36 L1087.01 501.6 L1087.61 501.83 L1088.21 502.05 L1088.82 502.25 L1089.42 502.44 L1090.02 502.61 L1090.62 502.77 L1091.22 502.92 L1091.82 503.05 L1092.42 503.17 L1093.02 503.27 L1093.62 503.36 L1094.22 503.43 L1094.82 503.49 L1095.43 503.53 L1096.03 503.56 L1096.63 503.58 L1097.23 503.6 L1097.83 503.61 L1098.43 503.61 L1099.03 503.61 L1099.63 503.61 L1100.23 503.61 L1100.83 503.6 L1101.43 503.6 L1102.04 503.59 L1102.64 503.58 L1103.24 503.57 L1103.84 503.56 L1104.44 503.55 L1105.04 503.54 L1105.64 503.53 L1106.24 503.53 L1106.84 503.52 L1107.44 503.52 L1108.04 503.53 L1108.65 503.53 L1109.25 503.54 L1109.85 503.56 L1110.45 503.58 L1111.05 503.61 L1111.65 503.64 L1112.25 503.68 L1112.85 503.72 L1113.45 503.77 L1114.05 503.83 L1114.65 503.9 L1115.26 503.97 L1115.86 504.05 L1116.46 504.14 L1117.06 504.24 L1117.66 504.35 L1118.26 504.46 L1118.86 504.59 L1119.46 504.72 L1120.06 504.87 L1120.66 505.03 L1121.26 505.18 L1121.87 505.35 L1122.47 505.52 L1123.07 505.68 L1123.67 505.85 L1124.27 506.03 L1124.87 506.21 L1125.47 506.39 L1126.07 506.58 L1126.67 506.77 L1127.27 506.96 L1127.88 507.15 L1128.48 507.35 L1129.08 507.55 L1129.68 507.76 L1130.28 507.96 L1130.88 508.18 L1131.48 508.45 L1132.08 508.73 L1132.68 509.02 L1133.28 509.33 L1133.88 509.64 L1134.49 509.97 L1135.09 510.32 L1135.69 510.67 L1136.29 511.04 L1136.89 511.43 L1137.49 511.83 L1138.09 512.26 L1138.69 512.69 L1139.29 513.15 L1139.89 513.63 L1140.49 514.13 L1141.1 514.64 L1141.7 515.17 L1142.3 515.72 L1142.9 516.29 L1143.5 516.88 L1144.1 517.48 L1144.7 518.1 L1145.3 518.74 L1145.9 519.4 L1146.5 520.07 L1147.1 520.75 L1147.71 521.45 L1148.31 522.16 L1148.91 522.89 L1149.51 523.62 L1150.11 524.37 L1150.71 525.13 L1151.31 525.89 L1151.91 526.67 L1152.51 527.45 L1153.11 528.24 L1153.71 529.03 L1154.32 529.83 L1154.92 530.64 L1155.52 531.45 L1156.12 532.26 L1156.72 533.08 L1157.32 533.89 L1157.92 534.71 L1158.52 535.53 L1159.12 536.35 L1159.72 537.16 L1160.32 537.97 L1160.93 538.79 L1161.53 539.59 L1162.13 540.4 L1162.73 541.19 L1163.33 541.99 L1163.93 542.77 L1164.53 543.56 L1165.13 544.33 L1165.73 545.1 L1166.33 545.87 L1166.93 546.63 L1167.54 547.38 L1168.14 548.13 L1168.74 548.87 L1169.34 549.6 L1169.94 550.33 L1170.54 551.06 L1171.14 551.78 L1171.74 552.49 L1172.34 553.19 L1172.94 553.89 L1173.54 554.58 L1174.15 555.27 L1174.75 555.96 L1175.35 556.64 L1175.95 557.31 L1176.55 557.98 L1177.15 558.65 L1177.75 559.31 L1178.35 559.97 L1178.95 560.62 L1179.55 561.27 L1180.15 561.91 L1180.76 562.55 L1181.36 563.18 L1181.96 563.81 L1182.56 564.44 L1183.16 565.06 L1183.76 565.68 L1184.36 566.29 L1184.96 566.9 L1185.56 567.5 L1186.16 568.1 L1186.76 568.7 L1187.37 569.29 L1187.97 569.88 L1188.57 570.46 L1189.17 571.04 L1189.77 571.62 L1190.37 572.19 L1190.97 572.75 L1191.57 573.32 L1192.17 573.88 L1192.77 574.43 L1193.37 574.98 L1193.98 575.53 L1194.58 576.07 L1195.18 576.61 L1195.78 577.15 L1196.38 577.68 L1196.98 578.21 L1197.58 578.74 L1198.18 579.26 L1198.78 579.77 L1199.38 580.29 L1199.98 580.8 L1200.59 581.3 L1201.19 581.81 L1201.79 582.3 L1202.39 582.8 L1202.99 583.29 L1203.59 583.78 L1204.19 584.26 L1204.79 584.74 L1205.39 585.22 L1205.99 585.69 L1206.59 586.16 L1207.2 586.63 L1207.8 587.09 L1208.4 587.55 L1209 588.01 L1209.6 588.46 L1210.2 588.91 L1210.8 589.36 L1211.4 589.8 L1212 590.24 L1212.6 590.68 L1213.2 591.11 L1213.81 591.54 L1214.41 591.96 L1215.01 592.39 L1215.61 592.8 L1216.21 593.22 L1216.81 593.63 L1217.41 594.04 L1218.01 594.45 L1218.61 594.85 L1219.21 595.25 L1219.81 595.65 L1220.42 596.04 L1221.02 596.43 L1221.62 596.82 L1222.22 597.2 L1222.82 597.58 L1223.42 597.96 L1224.02 598.34 L1224.62 598.71 L1225.22 599.08 L1225.82 599.44 L1226.42 599.81 L1227.03 600.17 L1227.63 600.52 L1228.23 600.88 L1228.83 601.23 L1229.43 601.58 L1230.03 601.92 L1230.63 602.26 L1231.23 602.6 L1231.83 602.94 L1232.43 603.27 L1233.03 603.61 L1233.64 603.93 L1234.24 604.26 L1234.84 604.58 L1235.44 604.9 L1236.04 605.22 L1236.64 605.53 L1237.24 605.85 L1237.84 606.16 L1238.44 606.46 L1239.04 606.77 L1239.64 607.07 L1240.25 607.37 L1240.85 607.66 L1241.45 607.95 L1242.05 608.25 L1242.65 608.53 L1243.25 608.82 L1243.85 609.1 L1244.45 609.38 L1245.05 609.66 L1245.65 609.94 L1246.25 610.21 L1246.86 610.48 L1247.46 610.75 L1248.06 611.02 L1248.66 611.28 L1249.26 611.54 L1249.86 611.8 L1250.46 612.06 L1251.06 612.31 L1251.66 612.56 L1252.26 612.81 L1252.86 613.06 L1253.47 613.31 L1254.07 613.55 L1254.67 613.79 L1255.27 614.03 L1255.87 614.27 L1256.47 614.5 L1257.07 614.73 L1257.67 614.96 L1258.27 615.19 L1258.87 615.42 L1259.47 615.64 L1260.08 615.86 L1260.68 616.08 L1261.28 616.3 L1261.88 616.51 L1262.48 616.73 L1263.08 616.94 L1263.68 617.15 L1264.28 617.36 L1264.88 617.56 L1265.48 617.77 L1266.08 617.97 L1266.69 618.17 L1267.29 618.37 L1267.89 618.56 L1268.49 618.76 L1269.09 618.95 L1269.69 619.14 L1270.29 619.33 L1270.89 619.52 L1271.49 619.71 L1272.09 619.89 L1272.69 620.07 L1273.3 620.25 L1273.9 620.43 L1274.5 620.61 L1275.1 620.79 L1275.7 620.96 L1276.3 621.13 L1276.9 621.3 L1277.5 621.47 L1278.1 621.64 L1278.7 621.81 L1279.3 621.97 L1279.91 622.14 L1280.51 622.3 L1281.11 622.46 L1281.71 622.62 L1282.31 622.78 L1282.91 622.93 L1283.51 623.09 L1284.11 623.24 L1284.71 623.39 L1285.31 623.54 L1285.91 623.69 L1286.52 623.84 L1287.12 623.99 L1287.72 624.13 L1288.32 624.28 L1288.92 624.42 L1289.52 624.56 L1290.12 624.7 L1290.72 624.84 L1291.32 624.98 L1291.92 625.11 L1292.52 625.25 L1293.13 625.38 L1293.73 625.52 L1294.33 625.65 L1294.93 625.78 L1295.53 625.91 L1296.13 626.04 L1296.73 626.16 L1297.33 626.29 L1297.93 626.42 L1298.53 626.54 L1299.13 626.66 L1299.74 626.79 L1300.34 626.91 L1300.94 627.03 L1301.54 627.15 L1302.14 627.26 L1302.74 627.38 L1303.34 627.5 L1303.94 627.61 L1304.54 627.73 L1305.14 627.84 L1305.74 627.96 L1306.35 628.07 L1306.95 628.18 L1307.55 628.29 L1308.15 628.4 L1308.75 628.51 L1309.35 628.62 L1309.95 628.72 L1310.55 628.83 L1311.15 628.94 L1311.75 629.04 L1312.35 629.15 L1312.96 629.25 L1313.56 629.35 L1314.16 629.46 L1314.76 629.56 L1315.36 629.66 L1315.96 629.76 L1316.56 629.86 L1317.16 629.96 L1317.76 630.06 L1318.36 630.16 L1318.96 630.26 L1319.57 630.35 L1320.17 630.45 L1320.77 630.55 L1321.37 630.64 L1321.97 630.74 L1322.57 630.84 L1323.17 630.93 L1323.77 631.03 L1324.37 631.12 L1324.97 631.21 L1325.57 631.31 L1326.18 631.4 L1326.78 631.49 L1327.38 631.59 L1327.98 631.68 L1328.58 631.77 L1329.18 631.86 L1329.78 631.95 L1330.38 632.04 L1330.98 632.14 L1331.58 632.23 L1332.18 632.32 L1332.79 632.41 L1333.39 632.5 L1333.99 632.59 L1334.59 632.68 L1335.19 632.77 L1335.79 632.86 L1336.39 632.95 L1336.99 633.04 L1337.59 633.13 L1338.19 633.22 L1338.79 633.31 L1339.4 633.4 L1340 633.49 L1340.6 633.58 L1341.2 633.67 L1341.8 633.76 L1342.4 633.85" stroke="#00c300"/>
<path d="M779.89 111.63 L781.01 118.35 L782.14 119.55 L783.26 117.66 L784.39 118.72 L785.52 118.61 L786.64 113.91 L787.77 112 L788.89 116.61 L790.02 121.35 L791.14 117.82 L792.27 115.01 L793.4 119.4 L794.52 118.32 L795.65 115.79 L796.77 114.94 L797.9 117.75 L799.02 116.92 L800.15 117.28 L801.28 115.68 L802.4 115.84 L803.53 115.83 L804.65 116.96 L805.78 118.66 L806.9 117.86 L808.03 115.57 L809.16 117.97 L810.28 117.96 L811.41 111.5 L812.53 116.61 L813.66 123.02 L814.78 123.13 L815.91 120.92 L817.04 119.26 L818.16 124.76 L819.29 127.47 L820.41 119.92 L821.54 121.64 L822.66 119.45 L823.79 115.01 L824.92 125.51 L826.04 122.37 L827.17 118.41 L828.29 120.19 L829.42 118.86 L830.54 118.96 L831.67 115.7 L832.8 113.77 L833.92 115.87 L835.05 122.11 L836.17 117.5 L837.3 114.36 L838.42 113.9 L839.55 116.18 L840.68 116.41 L841.8 112.82 L842.93 116.55 L844.05 120.97 L845.18 116.36 L846.3 117.97 L847.43 116.68 L848.56 118.85 L849.68 121.15 L850.81 119.01 L851.93 117.79 L853.06 120.56 L854.18 115.87 L855.31 117.68 L856.44 117.71 L857.56 120.23 L858.69 121.77 L859.81 121.18 L860.94 119.19 L862.06 118.08 L863.19 117.89 L864.32 118.28 L865.44 116.17 L866.57 114.83 L867.69 118.3 L868.82 118.72 L869.94 116.97 L871.07 115.69 L872.2 115.67 L873.32 117.98 L874.45 118.95 L875.57 117.64 L876.7 115.67 L877.82 118.78 L878.95 120.55 L880.08 118.56 L881.2 116.07 L882.33 116.92 L883.45 117.07 L884.58 117.35 L885.7 114.1 L886.83 118.32 L887.95 116.48 L889.08 114.95 L890.21 113.79 L891.33 112.08 L892.46 119.87 L893.58 113.59 L894.71 108.34 L895.83 106.41 L896.96 106.88 L898.09 107.28 L899.21 107.52 L900.34 104.61 L901.46 108.7 L902.59 107 L903.71 104.8 L904.84 99.98 L905.97 98.1 L907.09 94.75 L908.22 96.17 L909.34 99.1 L910.47 99.97 L911.59 102.28 L912.72 107.56 L913.85 105.44 L914.97 104.73 L916.1 106.37 L917.22 108.94 L918.35 107.35 L919.47 109.07 L920.6 107.87 L921.73 107.77 L922.85 109.2 L923.98 113.03 L925.1 110.28 L926.23 106.42 L927.35 108.57 L928.48 111.54 L929.61 109.42 L930.73 107.55 L931.86 110.79 L932.98 104.63 L934.11 104.18 L935.23 105.96 L936.36 108.65 L937.49 110.52 L938.61 114.36 L939.74 114.68 L940.86 112.96 L941.99 110.96 L943.11 113.23 L944.24 115.93 L945.37 111.19 L946.49 110.93 L947.62 110.17 L948.74 110.93 L949.87 113.78 L950.99 113.01 L952.12 118.17 L953.25 112.45 L954.37 108.16 L955.5 106.81 L956.62 109.19 L957.75 105.17 L958.87 103.6 L960 112.21 L961.13 116.4 L962.25 110.96 L963.38 112.11 L964.5 111.14 L965.63 109.24 L966.75 109.48 L967.88 104.8 L969.01 104.43 L970.13 105.48 L971.26 106.32 L972.38 99.65 L973.51 99.85 L974.63 107.46 L975.76 107.1 L976.89 108.63 L978.01 105.27 L979.14 108 L980.26 111.27 L981.39 114.42 L982.51 113.43 L983.64 107.88 L984.77 113.99 L985.89 110.04 L987.02 112.2 L988.14 112.73 L989.27 110.11 L990.39 106.39 L991.52 106.45 L992.65 110.41 L993.77 110.69 L994.9 107.76 L996.02 104.34 L997.15 105.23 L998.27 107.43 L999.4 108.4 L1000.52 103.82 L1001.65 107.37 L1002.78 109.96 L1003.9 107.3 L1005.03 103.68 L1006.15 110.18 L1006.49 107.54 L1007.09 103.08 L1007.69 105.17 L1008.29 112.15 L1008.89 112.23 L1009.5 109 L1010.1 109.5 L1010.7 116.38 L1011.3 123.26 L1011.9 130.14 L1012.5 137.01 L1013.1 143.86 L1013.7 150.71 L1014.3 157.53 L1014.9 164.33 L1015.5 171.1 L1016.11 177.85 L1016.71 184.56 L1017.31 191.25 L1017.91 197.89 L1018.51 204.49 L1019.11 211.05 L1019.71 217.57 L1020.31 224.04 L1020.91 230.46 L1021.51 236.83 L1022.11 243.15 L1022.72 249.41 L1023.32 255.61 L1023.92 261.76 L1024.52 267.84 L1025.12 273.86 L1025.72 279.82 L1026.32 285.72 L1026.92 291.55 L1027.52 297.31 L1028.12 303 L1028.72 308.62 L1029.33 314.17 L1029.93 319.64 L1030.53 325.05 L1031.13 330.38 L1031.73 335.63 L1032.33 340.81 L1032.93 345.91 L1033.53 350.94 L1034.13 355.89 L1034.73 360.77 L1035.33 365.56 L1035.94 370.28 L1036.54 374.93 L1037.14 379.49 L1037.74 383.98 L1038.34 388.4 L1038.94 392.73 L1039.54 396.99 L1040.14 401.17 L1040.74 405.28 L1041.34 409.31 L1041.94 413.26 L1042.55 417.15 L1043.15 420.95 L1043.75 424.69 L1044.35 428.35 L1044.95 431.93 L1045.55 435.45 L1046.15 438.89 L1046.75 442.26 L1047.35 445.57 L1047.95 448.8 L1048.55 451.96 L1049.16 455.06 L1049.76 458.09 L1050.36 461.05 L1050.96 463.95 L1051.56 466.79 L1052.16 469.57 L1052.76 472.28 L1053.36 474.93 L1053.96 477.52 L1054.56 480.06 L1055.16 482.53 L1055.77 484.95 L1056.37 487.31 L1056.97 489.61 L1057.57 491.86 L1058.17 494.05 L1058.77 496.19 L1059.37 498.28 L1059.97 500.31 L1060.57 502.3 L1061.17 504.23 L1061.77 506.12 L1062.38 507.95 L1062.98 509.74 L1063.58 511.48 L1064.18 513.17 L1064.78 514.82 L1065.38 516.42 L1065.98 517.98 L1066.58 519.5 L1067.18 520.97 L1067.78 522.41 L1068.38 523.8 L1068.99 525.16 L1069.59 526.48 L1070.19 527.76 L1070.79 529.01 L1071.39 530.22 L1071.99 531.39 L1072.59 532.54 L1073.19 533.64 L1073.79 534.72 L1074.39 535.76 L1074.99 536.77 L1075.6 537.75 L1076.2 538.7 L1076.8 539.62 L1077.4 540.51 L1078 541.37 L1078.6 542.21 L1079.2 543.03 L1079.8 543.82 L1080.4 544.58 L1081 545.32 L1081.6 546.04 L1082.21 546.73 L1082.81 547.4 L1083.41 548.05 L1084.01 548.67 L1084.61 549.27 L1085.21 549.85 L1085.81 550.41 L1086.41 550.95 L1087.01 551.47 L1087.61 551.97 L1088.21 552.46 L1088.82 552.93 L1089.42 553.39 L1090.02 553.82 L1090.62 554.25 L1091.22 554.65 L1091.82 555.04 L1092.42 555.42 L1093.02 555.78 L1093.62 556.12 L1094.22 556.45 L1094.82 556.77 L1095.43 557.07 L1096.03 557.36 L1096.63 557.63 L1097.23 557.9 L1097.83 558.16 L1098.43 558.41 L1099.03 558.65 L1099.63 558.88 L1100.23 559.1 L1100.83 559.32 L1101.43 559.53 L1102.04 559.74 L1102.64 559.94 L1103.24 560.13 L1103.84 560.32 L1104.44 560.51 L1105.04 560.69 L1105.64 560.86 L1106.24 561.04 L1106.84 561.21 L1107.44 561.37 L1108.04 561.54 L1108.65 561.7 L1109.25 561.86 L1109.85 562.01 L1110.45 562.17 L1111.05 562.32 L1111.65 562.48 L1112.25 562.63 L1112.85 562.78 L1113.45 562.94 L1114.05 563.09 L1114.65 563.24 L1115.26 563.4 L1115.86 563.55 L1116.46 563.71 L1117.06 563.86 L1117.66 564.02 L1118.26 564.18 L1118.86 564.34 L1119.46 564.51 L1120.06 564.67 L1120.66 564.84 L1121.26 565.01 L1121.87 565.17 L1122.47 565.34 L1123.07 565.5 L1123.67 565.66 L1124.27 565.82 L1124.87 565.98 L1125.47 566.14 L1126.07 566.3 L1126.67 566.46 L1127.27 566.62 L1127.88 566.78 L1128.48 566.94 L1129.08 567.1 L1129.68 567.26 L1130.28 567.41 L1130.88 567.57 L1131.48 567.75 L1132.08 567.94 L1132.68 568.13 L1133.28 568.33 L1133.88 568.53 L1134.49 568.73 L1135.09 568.94 L1135.69 569.16 L1136.29 569.38 L1136.89 569.61 L1137.49 569.85 L1138.09 570.1 L1138.69 570.36 L1139.29 570.63 L1139.89 570.91 L1140.49 571.2 L1141.1 571.5 L1141.7 571.81 L1142.3 572.13 L1142.9 572.45 L1143.5 572.79 L1144.1 573.14 L1144.7 573.49 L1145.3 573.86 L1145.9 574.23 L1146.5 574.61 L1147.1 575 L1147.71 575.4 L1148.31 575.8 L1148.91 576.21 L1149.51 576.62 L1150.11 577.04 L1150.71 577.46 L1151.31 577.89 L1151.91 578.33 L1152.51 578.76 L1153.11 579.2 L1153.71 579.65 L1154.32 580.09 L1154.92 580.54 L1155.52 580.99 L1156.12 581.44 L1156.72 581.89 L1157.32 582.34 L1157.92 582.8 L1158.52 583.25 L1159.12 583.7 L1159.72 584.15 L1160.32 584.6 L1160.93 585.04 L1161.53 585.49 L1162.13 585.93 L1162.73 586.37 L1163.33 586.8 L1163.93 587.23 L1164.53 587.66 L1165.13 588.08 L1165.73 588.5 L1166.33 588.92 L1166.93 589.33 L1167.54 589.74 L1168.14 590.15 L1168.74 590.55 L1169.34 590.95 L1169.94 591.34 L1170.54 591.73 L1171.14 592.11 L1171.74 592.49 L1172.34 592.87 L1172.94 593.24 L1173.54 593.61 L1174.15 593.98 L1174.75 594.34 L1175.35 594.7 L1175.95 595.06 L1176.55 595.41 L1177.15 595.77 L1177.75 596.12 L1178.35 596.46 L1178.95 596.81 L1179.55 597.15 L1180.15 597.49 L1180.76 597.83 L1181.36 598.16 L1181.96 598.49 L1182.56 598.82 L1183.16 599.15 L1183.76 599.48 L1184.36 599.8 L1184.96 600.12 L1185.56 600.43 L1186.16 600.75 L1186.76 601.06 L1187.37 601.37 L1187.97 601.68 L1188.57 601.99 L1189.17 602.29 L1189.77 602.59 L1190.37 602.89 L1190.97 603.19 L1191.57 603.48 L1192.17 603.78 L1192.77 604.07 L1193.37 604.36 L1193.98 604.64 L1194.58 604.93 L1195.18 605.21 L1195.78 605.49 L1196.38 605.77 L1196.98 606.05 L1197.58 606.32 L1198.18 606.59 L1198.78 606.86 L1199.38 607.13 L1199.98 607.4 L1200.59 607.66 L1201.19 607.93 L1201.79 608.19 L1202.39 608.45 L1202.99 608.7 L1203.59 608.96 L1204.19 609.21 L1204.79 609.46 L1205.39 609.71 L1205.99 609.96 L1206.59 610.21 L1207.2 610.45 L1207.8 610.7 L1208.4 610.94 L1209 611.17 L1209.6 611.41 L1210.2 611.65 L1210.8 611.88 L1211.4 612.11 L1212 612.34 L1212.6 612.57 L1213.2 612.8 L1213.81 613.02 L1214.41 613.25 L1215.01 613.47 L1215.61 613.69 L1216.21 613.91 L1216.81 614.12 L1217.41 614.34 L1218.01 614.55 L1218.61 614.76 L1219.21 614.97 L1219.81 615.18 L1220.42 615.39 L1221.02 615.59 L1221.62 615.79 L1222.22 616 L1222.82 616.2 L1223.42 616.4 L1224.02 616.59 L1224.62 616.79 L1225.22 616.98 L1225.82 617.17 L1226.42 617.36 L1227.03 617.55 L1227.63 617.74 L1228.23 617.93 L1228.83 618.11 L1229.43 618.29 L1230.03 618.48 L1230.63 618.66 L1231.23 618.84 L1231.83 619.01 L1232.43 619.19 L1233.03 619.36 L1233.64 619.53 L1234.24 619.71 L1234.84 619.88 L1235.44 620.04 L1236.04 620.21 L1236.64 620.38 L1237.24 620.54 L1237.84 620.7 L1238.44 620.87 L1239.04 621.03 L1239.64 621.18 L1240.25 621.34 L1240.85 621.5 L1241.45 621.65 L1242.05 621.81 L1242.65 621.96 L1243.25 622.11 L1243.85 622.26 L1244.45 622.41 L1245.05 622.55 L1245.65 622.7 L1246.25 622.84 L1246.86 622.99 L1247.46 623.13 L1248.06 623.27 L1248.66 623.41 L1249.26 623.55 L1249.86 623.68 L1250.46 623.82 L1251.06 623.95 L1251.66 624.09 L1252.26 624.22 L1252.86 624.35 L1253.47 624.48 L1254.07 624.61 L1254.67 624.74 L1255.27 624.86 L1255.87 624.99 L1256.47 625.11 L1257.07 625.23 L1257.67 625.35 L1258.27 625.48 L1258.87 625.6 L1259.47 625.71 L1260.08 625.83 L1260.68 625.95 L1261.28 626.06 L1261.88 626.18 L1262.48 626.29 L1263.08 626.4 L1263.68 626.51 L1264.28 626.62 L1264.88 626.73 L1265.48 626.84 L1266.08 626.95 L1266.69 627.06 L1267.29 627.16 L1267.89 627.27 L1268.49 627.37 L1269.09 627.47 L1269.69 627.58 L1270.29 627.68 L1270.89 627.78 L1271.49 627.88 L1272.09 627.98 L1272.69 628.07 L1273.3 628.17 L1273.9 628.27 L1274.5 628.36 L1275.1 628.46 L1275.7 628.55 L1276.3 628.64 L1276.9 628.73 L1277.5 628.82 L1278.1 628.91 L1278.7 629 L1279.3 629.09 L1279.91 629.18 L1280.51 629.27 L1281.11 629.35 L1281.71 629.44 L1282.31 629.52 L1282.91 629.61 L1283.51 629.69 L1284.11 629.77 L1284.71 629.86 L1285.31 629.94 L1285.91 630.02 L1286.52 630.1 L1287.12 630.18 L1287.72 630.26 L1288.32 630.33 L1288.92 630.41 L1289.52 630.49 L1290.12 630.56 L1290.72 630.64 L1291.32 630.71 L1291.92 630.79 L1292.52 630.86 L1293.13 630.93 L1293.73 631 L1294.33 631.08 L1294.93 631.15 L1295.53 631.22 L1296.13 631.29 L1296.73 631.36 L1297.33 631.43 L1297.93 631.49 L1298.53 631.56 L1299.13 631.63 L1299.74 631.69 L1300.34 631.76 L1300.94 631.83 L1301.54 631.89 L1302.14 631.96 L1302.74 632.02 L1303.34 632.08 L1303.94 632.15 L1304.54 632.21 L1305.14 632.27 L1305.74 632.33 L1306.35 632.39 L1306.95 632.45 L1307.55 632.51 L1308.15 632.57 L1308.75 632.63 L1309.35 632.69 L1309.95 632.75 L1310.55 632.81 L1311.15 632.87 L1311.75 632.92 L1312.35 632.98 L1312.96 633.04 L1313.56 633.09 L1314.16 633.15 L1314.76 633.21 L1315.36 633.26 L1315.96 633.32 L1316.56 633.37 L1317.16 633.43 L1317.76 633.48 L1318.36 633.53 L1318.96 633.59 L1319.57 633.64 L1320.17 633.69 L1320.77 633.75 L1321.37 633.8 L1321.97 633.85 L1322.57 633.9 L1323.17 633.95 L1323.77 634 L1324.37 634.06 L1324.97 634.11 L1325.57 634.16 L1326.18 634.21 L1326.78 634.26 L1327.38 634.31 L1327.98 634.36 L1328.58 634.41 L1329.18 634.46 L1329.78 634.51 L1330.38 634.56 L1330.98 634.61 L1331.58 634.65 L1332.18 634.7 L1332.79 634.75 L1333.39 634.8 L1333.99 634.85 L1334.59 634.9 L1335.19 634.95 L1335.79 634.99 L1336.39 635.04 L1336.99 635.09 L1337.59 635.14 L1338.19 635.19 L1338.79 635.24 L1339.4 635.28 L1340 635.33 L1340.6 635.38 L1341.2 635.43 L1341.8 635.47 L1342.4 635.52" stroke="#00e100"/>
<path d="M779.89 108.85 L780.45 106.25 L781.01 105.72 L781.58 106.68 L782.14 108.24 L782.7 112.97 L783.26 109.92 L783.83 111.42 L784.39 112.48 L784.95 110.26 L785.52 107.92 L786.08 111.05 L786.64 109.73 L787.2 103.26 L787.77 104.13 L788.33 112.81 L788.89 117.08 L789.46 95.3 L790.02 109.08 L790.58 99.29 L791.14 108.47 L791.71 99.35 L792.27 106.12 L792.83 108.74 L793.4 111.25 L793.96 109.31 L794.52 113.1 L795.08 107.09 L795.65 108.86 L796.21 106.03 L796.77 106 L797.34 114.26 L797.9 107.29 L798.46 108.7 L799.02 103.57 L799.59 100.74 L800.15 111.03 L800.71 119.67 L801.28 109.35 L801.84 109.46 L802.4 114.21 L802.96 107.22 L803.53 110.5 L804.09 106.07 L804.65 115.71 L805.22 108.1 L805.78 110.52 L806.34 110.64 L806.9 104.74 L807.47 112.69 L808.03 111.7 L808.59 105.94 L809.16 117.4 L809.72 106.39 L810.28 113.49 L810.84 121.43 L811.41 102.92 L811.97 93.63 L812.53 109.62 L813.1 115.23 L813.66 119.1 L814.22 108.71 L814.78 102.7 L815.35 117.92 L815.91 110.68 L816.47 102.64 L817.04 106.52 L817.6 111.48 L818.16 100.3 L818.72 117.1 L819.29 108.06 L819.85 105.44 L820.41 117.56 L820.98 113.27 L821.54 112.91 L822.1 96.91 L822.66 111.18 L823.23 111.43 L823.79 113.7 L824.35 97.97 L824.92 100.82 L825.48 115.33 L826.04 114.73 L826.6 107.95 L827.17 107.18 L827.73 109.07 L828.29 114.62 L828.86 120.08 L829.42 110.19 L829.98 115.75 L830.54 97.83 L831.11 109.97 L831.67 109.53 L832.23 108.76 L832.8 114 L833.36 109.83 L833.92 116.41 L834.48 110.81 L835.05 108.44 L835.61 110.67 L836.17 124.88 L836.74 107.94 L837.3 114.75 L837.86 105.96 L838.42 110.38 L838.99 100.09 L839.55 108.39 L840.11 114.05 L840.68 110.53 L841.24 112.58 L841.8 107.97 L842.36 106.2 L842.93 114.86 L843.49 112.92 L844.05 114.75 L844.62 101.62 L845.18 114.59 L845.74 111.06 L846.3 111.84 L846.87 115.29 L847.43 107.9 L847.99 112.03 L848.56 105.38 L849.12 115.22 L849.68 108.88 L850.24 99.48 L850.81 106.08 L851.37 110.6 L851.93 105.96 L852.5 116.55 L853.06 108.04 L853.62 108.61 L854.18 107.85 L854.75 107.75 L855.31 106.81 L855.87 113.42 L856.44 112.99 L857 115.53 L857.56 107.9 L858.12 119.34 L858.69 110.91 L859.25 114.47 L859.81 109.36 L860.38 99.21 L860.94 112.98 L861.5 104.89 L862.06 103.34 L862.63 115.87 L863.19 111.06 L863.75 108.97 L864.32 114.36 L864.88 112.33 L865.44 111.26 L866 109.33 L866.57 112.74 L867.13 104.44 L867.69 107.29 L868.26 110.41 L868.82 108.51 L869.38 118.43 L869.94 117.33 L870.51 116.51 L871.07 108.83 L871.63 102.39 L872.2 112.03 L872.76 115.2 L873.32 114.08 L873.88 108.33 L874.45 115.61 L875.01 113.47 L875.57 105.7 L876.14 102.78 L876.7 108.13 L877.26 108.66 L877.82 109.93 L878.39 105.41 L878.95 122.36 L879.51 106.88 L880.08 106.71 L880.64 109.18 L881.2 109.11 L881.76 105.17 L882.33 109.35 L882.89 101.1 L883.45 110.5 L884.01 104.47 L884.58 101.81 L885.14 111.09 L885.7 100.97 L886.27 103.76 L886.83 104.16 L887.39 98.93 L887.95 103 L888.52 103.94 L889.08 101.68 L889.64 90.15 L890.21 106.18 L890.77 105.55 L891.33 105.47 L891.89 106.37 L892.46 107.86 L893.02 100.14 L893.58 98.36 L894.15 109.94 L894.71 104.12 L895.27 104.78 L895.83 99.57 L896.4 97.74 L896.96 100.76 L897.52 96.83 L898.09 97.81 L898.65 98.85 L899.21 99.27 L899.77 96.21 L900.34 103.61 L900.9 105.62 L901.46 94.86 L902.03 93.13 L902.59 88.28 L903.15 95.3 L903.71 99.31 L904.28 90.98 L904.84 85.35 L905.4 94.8 L905.97 92.2 L906.53 93.83 L907.09 98.19 L907.65 84.71 L908.22 92.48 L908.78 82.47 L909.34 92.33 L909.91 92.98 L910.47 95.31 L911.03 95.86 L911.59 95.04 L912.16 93.28 L912.72 94.53 L913.28 85.34 L913.85 104.85 L914.41 99.5 L914.97 94.62 L915.53 92.05 L916.1 95.63 L916.66 96.73 L917.22 94.28 L917.79 98.14 L918.35 98.91 L918.91 96 L919.47 105.13 L920.04 98.3 L920.6 102.47 L921.16 97.65 L921.73 100.11 L922.29 93.34 L922.85 96.96 L923.41 98.38 L923.98 103.87 L924.54 97.56 L925.1 110.81 L925.67 96.32 L926.23 96.65 L926.79 99.99 L927.35 97.84 L927.92 108.02 L928.48 103.81 L929.04 105.91 L929.61 98.93 L930.17 99.1 L930.73 94.45 L931.29 107.25 L931.86 106.67 L932.42 100.49 L932.98 105.67 L933.55 106.05 L934.11 99.99 L934.67 103.11 L935.23 106.02 L935.8 98.1 L936.36 104.06 L936.92 110.44 L937.49 104.72 L938.05 103.73 L938.61 107.07 L939.17 98.77 L939.74 102.34 L940.3 100.31 L940.86 99.39 L941.43 104.84 L941.99 104.58 L942.55 102.95 L943.11 105.17 L943.68 96.35 L944.24 107.34 L944.8 109.48 L945.37 100.28 L945.93 103.74 L946.49 109.46 L947.05 99 L947.62 98.62 L948.18 106.18 L948.74 107.54 L949.31 97.79 L949.87 98.01 L950.43 89.3 L950.99 102.41 L951.56 96.51 L952.12 92.37 L952.68 96.51 L953.25 96.49 L953.81 93.95 L954.37 96.78 L954.93 98.78 L955.5 96.82 L956.06 93.63 L956.62 96.48 L957.19 94.43 L957.75 99.33 L958.31 97.64 L958.87 104.01 L959.44 92.46 L960 94.86 L960.56 101.35 L961.13 94.15 L961.69 100.04 L962.25 93.73 L962.81 86.9 L963.38 95.37 L963.94 99.43 L964.5 98.07 L965.07 94.65 L965.63 97.8 L966.19 92.58 L966.75 104.66 L967.32 88.97 L967.88 96.24 L968.44 95.68 L969.01 89.27 L969.57 90.74 L970.13 103.86 L970.69 101.91 L971.26 91.05 L971.82 97.11 L972.38 97.75 L972.95 91.39 L973.51 95.77 L974.07 93.21 L974.63 99.06 L975.2 97.28 L975.76 90.62 L976.32 93.77 L976.89 90.2 L977.45 102.77 L978.01 98.94 L978.57 98.7 L979.14 94.59 L979.7 98.64 L980.26 94.82 L980.83 89.86 L981.39 94.51 L981.95 89.33 L982.51 95.25 L983.08 103.76 L983.64 95.34 L984.2 93.75 L984.77 98.26 L985.33 95.86 L985.89 89.09 L986.45 92.94 L987.02 97.44 L987.58 101.22 L988.14 92.04 L988.71 92.36 L989.27 100.87 L989.83 96.13 L990.39 94.8 L990.96 90.46 L991.52 91.25 L992.08 83.94 L992.65 98.39 L993.21 103.69 L993.77 95.61 L994.33 90.29 L994.9 100.51 L995.46 100.21 L996.02 94.02 L996.58 94.99 L997.15 88.94 L997.71 97.43 L998.27 82.54 L998.84 90.87 L999.4 90.81 L999.96 101.39 L1000.52 92.83 L1001.09 86.31 L1001.65 96.35 L1002.21 86.49 L1002.78 91.23 L1003.34 89.18 L1003.9 92.98 L1004.46 90.11 L1005.03 103.52 L1005.59 95.76 L1006.15 97.28 L1006.49 94.65 L1007.09 97.11 L1007.69 101.06 L1008.29 104.58 L1008.89 111.62 L1009.5 118.67 L1010.1 125.73 L1010.7 132.8 L1011.3 139.86 L1011.9 146.93 L1012.5 153.99 L1013.1 161.03 L1013.7 168.07 L1014.3 175.09 L1014.9 182.08 L1015.5 189.06 L1016.11 196 L1016.71 202.92 L1017.31 209.81 L1017.91 216.65 L1018.51 223.46 L1019.11 230.23 L1019.71 236.96 L1020.31 243.64 L1020.91 250.27 L1021.51 256.85 L1022.11 263.38 L1022.72 269.86 L1023.32 276.27 L1023.92 282.63 L1024.52 288.93 L1025.12 295.17 L1025.72 301.35 L1026.32 307.46 L1026.92 313.51 L1027.52 319.49 L1028.12 325.41 L1028.72 331.25 L1029.33 337.02 L1029.93 342.73 L1030.53 348.36 L1031.13 353.92 L1031.73 359.41 L1032.33 364.83 L1032.93 370.17 L1033.53 375.44 L1034.13 380.63 L1034.73 385.75 L1035.33 390.8 L1035.94 395.77 L1036.54 400.66 L1037.14 405.48 L1037.74 410.23 L1038.34 414.9 L1038.94 419.49 L1039.54 424.01 L1040.14 428.46 L1040.74 432.83 L1041.34 437.13 L1041.94 441.36 L1042.55 445.51 L1043.15 449.59 L1043.75 453.6 L1044.35 457.54 L1044.95 461.41 L1045.55 465.2 L1046.15 468.93 L1046.75 472.59 L1047.35 476.17 L1047.95 479.7 L1048.55 483.15 L1049.16 486.54 L1049.76 489.86 L1050.36 493.12 L1050.96 496.31 L1051.56 499.44 L1052.16 502.5 L1052.76 505.51 L1053.36 508.45 L1053.96 511.34 L1054.56 514.16 L1055.16 516.93 L1055.77 519.64 L1056.37 522.29 L1056.97 524.89 L1057.57 527.43 L1058.17 529.91 L1058.77 532.35 L1059.37 534.73 L1059.97 537.06 L1060.57 539.34 L1061.17 541.57 L1061.77 543.75 L1062.38 545.88 L1062.98 547.96 L1063.58 550 L1064.18 551.99 L1064.78 553.94 L1065.38 555.84 L1065.98 557.7 L1066.58 559.52 L1067.18 561.3 L1067.78 563.03 L1068.38 564.73 L1068.99 566.38 L1069.59 568 L1070.19 569.58 L1070.79 571.12 L1071.39 572.63 L1071.99 574.1 L1072.59 575.54 L1073.19 576.94 L1073.79 578.31 L1074.39 579.65 L1074.99 580.95 L1075.6 582.23 L1076.2 583.47 L1076.8 584.68 L1077.4 585.87 L1078 587.02 L1078.6 588.15 L1079.2 589.25 L1079.8 590.33 L1080.4 591.37 L1081 592.4 L1081.6 593.39 L1082.21 594.37 L1082.81 595.32 L1083.41 596.24 L1084.01 597.14 L1084.61 598.03 L1085.21 598.88 L1085.81 599.72 L1086.41 600.54 L1087.01 601.34 L1087.61 602.11 L1088.21 602.87 L1088.82 603.61 L1089.42 604.33 L1090.02 605.03 L1090.62 605.72 L1091.22 606.38 L1091.82 607.04 L1092.42 607.67 L1093.02 608.29 L1093.62 608.89 L1094.22 609.48 L1094.82 610.05 L1095.43 610.61 L1096.03 611.16 L1096.63 611.69 L1097.23 612.2 L1097.83 612.71 L1098.43 613.2 L1099.03 613.68 L1099.63 614.14 L1100.23 614.6 L1100.83 615.04 L1101.43 615.47 L1102.04 615.89 L1102.64 616.3 L1103.24 616.7 L1103.84 617.09 L1104.44 617.47 L1105.04 617.84 L1105.64 618.2 L1106.24 618.55 L1106.84 618.89 L1107.44 619.22 L1108.04 619.55 L1108.65 619.86 L1109.25 620.17 L1109.85 620.47 L1110.45 620.76 L1111.05 621.04 L1111.65 621.32 L1112.25 621.58 L1112.85 621.85 L1113.45 622.1 L1114.05 622.35 L1114.65 622.59 L1115.26 622.82 L1115.86 623.05 L1116.46 623.27 L1117.06 623.48 L1117.66 623.69 L1118.26 623.9 L1118.86 624.09 L1119.46 624.29 L1120.06 624.47 L1120.66 624.65 L1121.26 624.83 L1121.87 625 L1122.47 625.17 L1123.07 625.32 L1123.67 625.47 L1124.27 625.62 L1124.87 625.76 L1125.47 625.9 L1126.07 626.03 L1126.67 626.16 L1127.27 626.29 L1127.88 626.41 L1128.48 626.53 L1129.08 626.64 L1129.68 626.75 L1130.28 626.86 L1130.88 626.96 L1131.48 627.06 L1132.08 627.15 L1132.68 627.24 L1133.28 627.33 L1133.88 627.41 L1134.49 627.49 L1135.09 627.57 L1135.69 627.64 L1136.29 627.72 L1136.89 627.79 L1137.49 627.87 L1138.09 627.94 L1138.69 628.02 L1139.29 628.1 L1139.89 628.19 L1140.49 628.27 L1141.1 628.36 L1141.7 628.44 L1142.3 628.53 L1142.9 628.62 L1143.5 628.71 L1144.1 628.8 L1144.7 628.89 L1145.3 628.98 L1145.9 629.07 L1146.5 629.16 L1147.1 629.25 L1147.71 629.34 L1148.31 629.43 L1148.91 629.53 L1149.51 629.62 L1150.11 629.71 L1150.71 629.8 L1151.31 629.89 L1151.91 629.99 L1152.51 630.08 L1153.11 630.17 L1153.71 630.26 L1154.32 630.35 L1154.92 630.44 L1155.52 630.53 L1156.12 630.62 L1156.72 630.71 L1157.32 630.79 L1157.92 630.88 L1158.52 630.97 L1159.12 631.05 L1159.72 631.14 L1160.32 631.22 L1160.93 631.3 L1161.53 631.38 L1162.13 631.46 L1162.73 631.54 L1163.33 631.61 L1163.93 631.69 L1164.53 631.76 L1165.13 631.83 L1165.73 631.9 L1166.33 631.97 L1166.93 632.04 L1167.54 632.1 L1168.14 632.17 L1168.74 632.23 L1169.34 632.29 L1169.94 632.34 L1170.54 632.4 L1171.14 632.45 L1171.74 632.5 L1172.34 632.55 L1172.94 632.6 L1173.54 632.64 L1174.15 632.68 L1174.75 632.73 L1175.35 632.77 L1175.95 632.81 L1176.55 632.85 L1177.15 632.89 L1177.75 632.93 L1178.35 632.96 L1178.95 633 L1179.55 633.04 L1180.15 633.07 L1180.76 633.11 L1181.36 633.14 L1181.96 633.18 L1182.56 633.21 L1183.16 633.24 L1183.76 633.27 L1184.36 633.31 L1184.96 633.34 L1185.56 633.37 L1186.16 633.4 L1186.76 633.43 L1187.37 633.46 L1187.97 633.49 L1188.57 633.52 L1189.17 633.54 L1189.77 633.57 L1190.37 633.6 L1190.97 633.63 L1191.57 633.65 L1192.17 633.68 L1192.77 633.7 L1193.37 633.73 L1193.98 633.76 L1194.58 633.78 L1195.18 633.81 L1195.78 633.83 L1196.38 633.86 L1196.98 633.88 L1197.58 633.9 L1198.18 633.93 L1198.78 633.95 L1199.38 633.98 L1199.98 634 L1200.59 634.02 L1201.19 634.05 L1201.79 634.07 L1202.39 634.09 L1202.99 634.12 L1203.59 634.14 L1204.19 634.16 L1204.79 634.18 L1205.39 634.21 L1205.99 634.23 L1206.59 634.25 L1207.2 634.27 L1207.8 634.3 L1208.4 634.32 L1209 634.34 L1209.6 634.36 L1210.2 634.38 L1210.8 634.4 L1211.4 634.43 L1212 634.45 L1212.6 634.47 L1213.2 634.49 L1213.81 634.51 L1214.41 634.53 L1215.01 634.55 L1215.61 634.57 L1216.21 634.59 L1216.81 634.61 L1217.41 634.63 L1218.01 634.65 L1218.61 634.67 L1219.21 634.69 L1219.81 634.71 L1220.42 634.73 L1221.02 634.75 L1221.62 634.77 L1222.22 634.79 L1222.82 634.81 L1223.42 634.83 L1224.02 634.85 L1224.62 634.87 L1225.22 634.88 L1225.82 634.9 L1226.42 634.92 L1227.03 634.94 L1227.63 634.96 L1228.23 634.98 L1228.83 634.99 L1229.43 635.01 L1230.03 635.03 L1230.63 635.05 L1231.23 635.07 L1231.83 635.08 L1232.43 635.1 L1233.03 635.12 L1233.64 635.14 L1234.24 635.15 L1234.84 635.17 L1235.44 635.19 L1236.04 635.2 L1236.64 635.22 L1237.24 635.24 L1237.84 635.25 L1238.44 635.27 L1239.04 635.29 L1239.64 635.3 L1240.25 635.32 L1240.85 635.34 L1241.45 635.35 L1242.05 635.37 L1242.65 635.38 L1243.25 635.4 L1243.85 635.41 L1244.45 635.43 L1245.05 635.44 L1245.65 635.46 L1246.25 635.48 L1246.86 635.49 L1247.46 635.51 L1248.06 635.52 L1248.66 635.54 L1249.26 635.55 L1249.86 635.57 L1250.46 635.58 L1251.06 635.59 L1251.66 635.61 L1252.26 635.62 L1252.86 635.64 L1253.47 635.65 L1254.07 635.67 L1254.67 635.68 L1255.27 635.69 L1255.87 635.71 L1256.47 635.72 L1257.07 635.73 L1257.67 635.75 L1258.27 635.76 L1258.87 635.78 L1259.47 635.79 L1260.08 635.8 L1260.68 635.81 L1261.28 635.83 L1261.88 635.84 L1262.48 635.85 L1263.08 635.87 L1263.68 635.88 L1264.28 635.89 L1264.88 635.91 L1265.48 635.92 L1266.08 635.93 L1266.69 635.95 L1267.29 635.96 L1267.89 635.97 L1268.49 635.98 L1269.09 636 L1269.69 636.01 L1270.29 636.02 L1270.89 636.04 L1271.49 636.05 L1272.09 636.06 L1272.69 636.07 L1273.3 636.09 L1273.9 636.1 L1274.5 636.11 L1275.1 636.12 L1275.7 636.14 L1276.3 636.15 L1276.9 636.16 L1277.5 636.17 L1278.1 636.19 L1278.7 636.2 L1279.3 636.21 L1279.91 636.22 L1280.51 636.24 L1281.11 636.25 L1281.71 636.26 L1282.31 636.27 L1282.91 636.28 L1283.51 636.3 L1284.11 636.31 L1284.71 636.32 L1285.31 636.33 L1285.91 636.34 L1286.52 636.36 L1287.12 636.37 L1287.72 636.38 L1288.32 636.39 L1288.92 636.4 L1289.52 636.41 L1290.12 636.43 L1290.72 636.44 L1291.32 636.45 L1291.92 636.46 L1292.52 636.47 L1293.13 636.48 L1293.73 636.49 L1294.33 636.5 L1294.93 636.52 L1295.53 636.53 L1296.13 636.54 L1296.73 636.55 L1297.33 636.56 L1297.93 636.57 L1298.53 636.58 L1299.13 636.59 L1299.74 636.6 L1300.34 636.61 L1300.94 636.62 L1301.54 636.64 L1302.14 636.65 L1302.74 636.66 L1303.34 636.67 L1303.94 636.68 L1304.54 636.69 L1305.14 636.7 L1305.74 636.71 L1306.35 636.72 L1306.95 636.73 L1307.55 636.74 L1308.15 636.75 L1308.75 636.76 L1309.35 636.77 L1309.95 636.78 L1310.55 636.79 L1311.15 636.8 L1311.75 636.81 L1312.35 636.82 L1312.96 636.83 L1313.56 636.83 L1314.16 636.84 L1314.76 636.85 L1315.36 636.86 L1315.96 636.87 L1316.56 636.88 L1317.16 636.89 L1317.76 636.9 L1318.36 636.91 L1318.96 636.92 L1319.57 636.92 L1320.17 636.93 L1320.77 636.94 L1321.37 636.95 L1321.97 636.96 L1322.57 636.97 L1323.17 636.98 L1323.77 636.98 L1324.37 636.99 L1324.97 637 L1325.57 637.01 L1326.18 637.02 L1326.78 637.02 L1327.38 637.03 L1327.98 637.04 L1328.58 637.05 L1329.18 637.05 L1329.78 637.06 L1330.38 637.07 L1330.98 637.08 L1331.58 637.08 L1332.18 637.09 L1332.79 637.1 L1333.39 637.11 L1333.99 637.11 L1334.59 637.12 L1335.19 637.13 L1335.79 637.13 L1336.39 637.14 L1336.99 637.15 L1337.59 637.15 L1338.19 637.16 L1338.79 637.16 L1339.4 637.17 L1340 637.18 L1340.6 637.18 L1341.2 637.19 L1341.8 637.19 L1342.4 637.2" stroke="#00ff00"/>
</g>
<path d="M892.12 638.8 v-7.8 M1004.69 638.8 v-7.8 M1117.26 638.8 v-7.8 M1229.83 638.8 v-7.8 M779.55 481.62 h7.8 M779.55 324.45 h7.8 M779.55 167.27 h7.8 " stroke="#000" stroke-width="1.85" fill="none"/>
<rect x="779.55" y="10.1" width="562.85" height="628.7" fill="none" stroke="#000" stroke-width="1.85"/>
<line x1="1119.21" x2="1119.21" y1="10.1" y2="638.8" stroke="#00b0f0" stroke-width="2.9"/>
<text transform="translate(779.15 678.3) scale(0.9 1)" text-anchor="middle" style='font-family:"Liberation Sans", Arial, Helvetica, sans-serif;font-size:28.4px'>350</text>
<text transform="translate(891.72 678.3) scale(0.9 1)" text-anchor="middle" style='font-family:"Liberation Sans", Arial, Helvetica, sans-serif;font-size:28.4px'>450</text>
<text transform="translate(1004.29 678.3) scale(0.9 1)" text-anchor="middle" style='font-family:"Liberation Sans", Arial, Helvetica, sans-serif;font-size:28.4px'>550</text>
<text transform="translate(1116.86 678.3) scale(0.9 1)" text-anchor="middle" style='font-family:"Liberation Sans", Arial, Helvetica, sans-serif;font-size:28.4px'>650</text>
<text transform="translate(1229.43 678.3) scale(0.9 1)" text-anchor="middle" style='font-family:"Liberation Sans", Arial, Helvetica, sans-serif;font-size:28.4px'>750</text>
<text transform="translate(1342 678.3) scale(0.9 1)" text-anchor="middle" style='font-family:"Liberation Sans", Arial, Helvetica, sans-serif;font-size:28.4px'>850</text>
<text transform="translate(756.6 648.2) scale(0.9 1)" text-anchor="end" style='font-family:"Liberation Sans", Arial, Helvetica, sans-serif;font-size:28.4px'>0</text>
<text transform="translate(756.6 491.02) scale(0.9 1)" text-anchor="end" style='font-family:"Liberation Sans", Arial, Helvetica, sans-serif;font-size:28.4px'>1</text>
<text transform="translate(756.6 333.85) scale(0.9 1)" text-anchor="end" style='font-family:"Liberation Sans", Arial, Helvetica, sans-serif;font-size:28.4px'>2</text>
<text transform="translate(756.6 176.67) scale(0.9 1)" text-anchor="end" style='font-family:"Liberation Sans", Arial, Helvetica, sans-serif;font-size:28.4px'>3</text>
<text transform="translate(756.6 19.5) scale(0.9 1)" text-anchor="end" style='font-family:"Liberation Sans", Arial, Helvetica, sans-serif;font-size:28.4px'>4</text>
<text x="0" y="0" text-anchor="start" fill="#000" style='font-family:"Liberation Sans", Arial, Helvetica, sans-serif;font-size:35.8px;' transform="translate(787.4 53) scale(1.03 1)">(b)</text>
<text x="0" y="0" text-anchor="start" fill="#000" style='font-family:"Liberation Sans", Arial, Helvetica, sans-serif;font-size:32.9px;' transform="translate(838.8 54.4) scale(0.97 1)">20 mM Fe III</text>
<text x="0" y="0" text-anchor="start" fill="#00b0f0" style='font-family:"Liberation Sans", Arial, Helvetica, sans-serif;font-size:25px;' transform="translate(1113 115) rotate(-90) scale(0.97 1)">652 nm</text>
<text x="1020.5" y="708.7" style='font-size:30px;font-family:"Liberation Sans", Arial, Helvetica, sans-serif'><tspan style='font-family:"Liberation Serif", "DejaVu Serif", serif;font-style:italic;font-size:30px' stroke="#000" stroke-width="0.4">λ</tspan> (nm)</text>
<g transform="translate(724 339.6) rotate(-90)" style='font-family:"Liberation Serif", "DejaVu Serif", serif;font-style:italic'><text transform="scale(0.82 1)" style="font-size:32px" stroke="#000" stroke-width="0.5">A</text><text x="17.5" y="6" style="font-size:22px" stroke="#000" stroke-width="0.3">λ</text></g>
<text x="0" y="0" text-anchor="start" fill="#006900" style='font-family:"Liberation Sans", Arial, Helvetica, sans-serif;font-size:21px;letter-spacing:-0.12px;' transform="translate(1162.7 330.8) scale(0.99 1)">0.15 mM TAN</text>
<line x1="1159.6" y1="333.7" x2="1137.5" y2="355.3" stroke="#006900" stroke-width="1.15"/>
<text x="0" y="0" text-anchor="start" fill="#008700" style='font-family:"Liberation Sans", Arial, Helvetica, sans-serif;font-size:21px;letter-spacing:-0.12px;' transform="translate(1197.8 377.7) scale(0.99 1)">0.12 mM TAN</text>
<line x1="1194" y1="380.4" x2="1152.8" y2="423.7" stroke="#008700" stroke-width="1.15"/>
<text x="0" y="0" text-anchor="start" fill="#00a500" style='font-family:"Liberation Sans", Arial, Helvetica, sans-serif;font-size:21px;letter-spacing:-0.12px;' transform="translate(1206.2 424.5) scale(0.99 1)">0.09 mM TAN</text>
<line x1="1204.4" y1="428.7" x2="1150" y2="485" stroke="#00a500" stroke-width="1.15"/>
<text x="0" y="0" text-anchor="start" fill="#00c300" style='font-family:"Liberation Sans", Arial, Helvetica, sans-serif;font-size:21px;letter-spacing:-0.12px;' transform="translate(1208.4 469.7) scale(0.99 1)">0.06 mM TAN</text>
<line x1="1208" y1="473.9" x2="1156.1" y2="532.5" stroke="#00c300" stroke-width="1.15"/>
<text x="0" y="0" text-anchor="start" fill="#00e100" style='font-family:"Liberation Sans", Arial, Helvetica, sans-serif;font-size:21px;letter-spacing:-0.12px;' transform="translate(867.4 560.7) scale(0.99 1)">0.03 mM TAN</text>
<line x1="1000.6" y1="553.5" x2="1086" y2="553.5" stroke="#00e100" stroke-width="1.15"/>
<text x="0" y="0" text-anchor="start" fill="#00ff00" style='font-family:"Liberation Sans", Arial, Helvetica, sans-serif;font-size:21px;letter-spacing:-0.12px;' transform="translate(867.4 600.5) scale(0.99 1)">0.00 mM TAN</text>
<line x1="1000.6" y1="593.3" x2="1078.5" y2="593.3" stroke="#00ff00" stroke-width="1.15"/>
<path d="M1624.8 632 v-7.8 M1765.2 632 v-7.8 M1905.6 632 v-7.8 M1484.4 424.73 h7.8 M1484.4 217.47 h7.8 " stroke="#000" stroke-width="1.85" fill="none"/>
<rect x="1484.4" y="10.2" width="561.6" height="621.8" fill="none" stroke="#000" stroke-width="1.85"/>
<path d="M1477.9 631.8 l6.3 -6.3 l6.3 6.3 l-6.3 6.3 z" fill="#ff0000"/>
<path d="M1522.4 571.6 l6.3 -6.3 l6.3 6.3 l-6.3 6.3 z" fill="#e10000"/>
<path d="M1610.8 455.7 l6.3 -6.3 l6.3 6.3 l-6.3 6.3 z" fill="#c30000"/>
<path d="M1699.7 343.4 l6.3 -6.3 l6.3 6.3 l-6.3 6.3 z" fill="#a50000"/>
<path d="M1788.6 238.2 l6.3 -6.3 l6.3 6.3 l-6.3 6.3 z" fill="#870000"/>
<path d="M1877.1 139.3 l6.3 -6.3 l6.3 6.3 l-6.3 6.3 z" fill="#690000"/>
<circle cx="1484.4" cy="612.5" r="5.5" fill="#00ff00"/>
<circle cx="1569.7" cy="533.6" r="5.5" fill="#00e100"/>
<circle cx="1654.2" cy="454.2" r="5.5" fill="#00c300"/>
<circle cx="1739.6" cy="393.1" r="5.5" fill="#00a500"/>
<circle cx="1824.7" cy="298.1" r="5.5" fill="#008700"/>
<circle cx="1909.7" cy="242.4" r="5.5" fill="#006900"/>
<line x1="1484.4" y1="610.7" x2="2045.6" y2="116.6" stroke="#00ff00" stroke-width="2.6"/>
<line x1="1484.2" y1="631.8" x2="1968.8" y2="10.2" stroke="#ff0000" stroke-width="2.7"/>
<text transform="translate(1484 670.8) scale(0.9 1)" text-anchor="middle" style='font-family:"Liberation Sans", Arial, Helvetica, sans-serif;font-size:28.4px'>0.00</text>
<text transform="translate(1624.4 670.8) scale(0.9 1)" text-anchor="middle" style='font-family:"Liberation Sans", Arial, Helvetica, sans-serif;font-size:28.4px'>0.05</text>
<text transform="translate(1764.8 670.8) scale(0.9 1)" text-anchor="middle" style='font-family:"Liberation Sans", Arial, Helvetica, sans-serif;font-size:28.4px'>0.10</text>
<text transform="translate(1905.2 670.8) scale(0.9 1)" text-anchor="middle" style='font-family:"Liberation Sans", Arial, Helvetica, sans-serif;font-size:28.4px'>0.15</text>
<text transform="translate(2045.6 670.8) scale(0.9 1)" text-anchor="middle" style='font-family:"Liberation Sans", Arial, Helvetica, sans-serif;font-size:28.4px'>0.20</text>
<text transform="translate(1461.5 641.4) scale(0.9 1)" text-anchor="end" style='font-family:"Liberation Sans", Arial, Helvetica, sans-serif;font-size:28.4px'>0</text>
<text transform="translate(1461.5 434.13) scale(0.9 1)" text-anchor="end" style='font-family:"Liberation Sans", Arial, Helvetica, sans-serif;font-size:28.4px'>1</text>
<text transform="translate(1461.5 226.87) scale(0.9 1)" text-anchor="end" style='font-family:"Liberation Sans", Arial, Helvetica, sans-serif;font-size:28.4px'>2</text>
<text transform="translate(1461.5 19.6) scale(0.9 1)" text-anchor="end" style='font-family:"Liberation Sans", Arial, Helvetica, sans-serif;font-size:28.4px'>3</text>
<text x="0" y="0" text-anchor="start" fill="#000" style='font-family:"Liberation Sans", Arial, Helvetica, sans-serif;font-size:35.8px;' transform="translate(1492.6 49.6) scale(1 1)">(c)</text>
<g transform="translate(1428.4 375.2) rotate(-90)"><text transform="scale(0.88 1)" style='font-family:"Liberation Serif", "DejaVu Serif", serif;font-size:35.5px;font-style:italic' stroke="#000" stroke-width="0.5">A</text><text x="20.8" y="8.6" transform="scale(0.985 1)" style='font-family:"Liberation Sans", Arial, Helvetica, sans-serif;font-size:25px'>652 nm</text></g>
<g fill="#000"><text x="1681" y="709" style='font-family:"DejaVu Serif", "Liberation Serif", serif;font-style:italic;font-size:26.6px'>C</text><text x="1700" y="694" style='font-family:"DejaVu Serif", "Liberation Serif", serif;font-style:italic;font-size:16.6px' textLength="65" lengthAdjust="spacingAndGlyphs">Sample</text><text x="1697.5" y="716.3" style='font-family:"DejaVu Serif", "Liberation Serif", serif;font-style:italic;font-size:16.6px' textLength="37" lengthAdjust="spacingAndGlyphs">TAN</text><text x="1780" y="708.8" style='font-family:"Liberation Sans", Arial, Helvetica, sans-serif;font-size:29.5px'>(mM)</text></g>
<g transform="translate(1687 323.5) rotate(-50.2)" fill="#ff0000" stroke="#ff0000" stroke-linejoin="round"><text x="0" y="0" stroke-width="0.6" style='font-family:"DejaVu Serif", "Liberation Serif", serif;font-size:31px;font-style:italic;'>C</text><text x="21.5" y="-16.5" stroke-width="0.45" style='font-family:"DejaVu Serif", "Liberation Serif", serif;font-size:20.5px;font-style:italic;' textLength="78" lengthAdjust="spacingAndGlyphs">Sample</text><text x="18.5" y="9.5" stroke-width="0.45" style='font-family:"DejaVu Serif", "Liberation Serif", serif;font-size:20.5px;font-style:italic;' textLength="57" lengthAdjust="spacingAndGlyphs">Fe III</text><text x="118.5" y="-0.5" stroke-width="0.7" style='font-family:"Liberation Sans", Arial, Helvetica, sans-serif;font-size:33.94px;'>=</text><text x="156" y="0" stroke-width="0.25" style='font-family:"Liberation Sans", Arial, Helvetica, sans-serif;font-size:30.3px;'>0</text><text x="181.5" y="0" stroke-width="0.25" style='font-family:"Liberation Sans", Arial, Helvetica, sans-serif;font-size:30.3px;' textLength="53" lengthAdjust="spacingAndGlyphs">mM</text></g>
<g transform="translate(1765 442) rotate(-44)" fill="#00ff00" stroke="#00ff00" stroke-linejoin="round"><text x="0" y="0" stroke-width="0.6" style='font-family:"DejaVu Serif", "Liberation Serif", serif;font-size:31px;font-style:italic;'>C</text><text x="21.5" y="-16.5" stroke-width="0.45" style='font-family:"DejaVu Serif", "Liberation Serif", serif;font-size:20.5px;font-style:italic;' textLength="78" lengthAdjust="spacingAndGlyphs">Sample</text><text x="18.5" y="9.5" stroke-width="0.45" style='font-family:"DejaVu Serif", "Liberation Serif", serif;font-size:20.5px;font-style:italic;' textLength="57" lengthAdjust="spacingAndGlyphs">Fe III</text><text x="118.5" y="-0.5" stroke-width="0.7" style='font-family:"Liberation Sans", Arial, Helvetica, sans-serif;font-size:33.94px;'>=</text><text x="156" y="0" stroke-width="0.25" style='font-family:"Liberation Sans", Arial, Helvetica, sans-serif;font-size:30.3px;'>20</text><text x="198.5" y="0" stroke-width="0.25" style='font-family:"Liberation Sans", Arial, Helvetica, sans-serif;font-size:30.3px;' textLength="53" lengthAdjust="spacingAndGlyphs">mM</text></g>
</svg>
</body></html>
